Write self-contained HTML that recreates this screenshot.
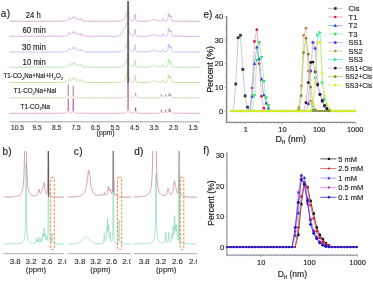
<!DOCTYPE html><html><head><meta charset="utf-8"><style>html,body{margin:0;padding:0;background:#fff;width:373px;height:281px;overflow:hidden}svg{display:block;will-change:transform}text{font-family:"Liberation Sans",sans-serif}</style></head><body>
<svg width="373" height="281" viewBox="0 0 373 281">
<rect width="373" height="281" fill="#fff"/>
<path d="M9.3 21.3 L58.6 21.27 L60.2 21.24 L61.1 21.21 L61.8 21.17 L62.3 21.14 L62.8 21.11 L63.2 21.07 L63.6 21.03 L63.9 21 L64.2 20.96 L64.5 20.93 L64.8 20.88 L65 20.85 L65.2 20.82 L65.4 20.78 L65.6 20.74 L65.8 20.7 L66 20.66 L66.2 20.62 L66.4 20.57 L66.6 20.52 L66.8 20.47 L67 20.41 L67.1 20.38 L67.2 20.34 L67.3 20.31 L67.4 20.27 L67.5 20.24 L67.6 20.19 L67.7 20.15 L67.8 20.1 L67.9 20.05 L68 19.99 L68.1 19.92 L68.2 19.85 L68.3 19.76 L68.4 19.66 L68.5 19.54 L68.6 19.4 L68.7 19.23 L68.8 19.01 L68.9 18.75 L69 18.44 L69.1 18.09 L69.2 17.73 L69.3 17.45 L69.4 17.32 L69.5 17.39 L69.6 17.63 L69.7 17.93 L69.8 18.23 L69.9 18.48 L70 18.69 L70.1 18.85 L70.2 18.97 L70.3 19.06 L70.4 19.13 L70.5 19.17 L70.6 19.2 L70.8 19.23 L71.3 19.2 L71.5 19.16 L71.6 19.13 L71.7 19.1 L71.8 19.06 L71.9 19.02 L72 18.97 L72.1 18.92 L72.2 18.85 L72.3 18.77 L72.4 18.68 L72.5 18.56 L72.6 18.42 L72.7 18.25 L72.8 18.03 L72.9 17.77 L73 17.44 L73.1 17.07 L73.2 16.7 L73.3 16.4 L73.4 16.27 L73.5 16.35 L73.6 16.6 L73.7 16.92 L73.8 17.24 L73.9 17.49 L74 17.69 L74.1 17.82 L74.2 17.89 L74.3 17.9 L74.4 17.86 L74.5 17.77 L74.6 17.62 L74.7 17.42 L74.8 17.22 L74.9 17.06 L75 17.02 L75.1 17.13 L75.2 17.36 L75.3 17.64 L75.4 17.91 L75.5 18.15 L75.6 18.35 L75.7 18.52 L75.8 18.65 L75.9 18.76 L76 18.84 L76.1 18.92 L76.2 18.98 L76.3 19.03 L76.4 19.07 L76.5 19.1 L76.7 19.16 L77 19.19 L77.3 19.14 L77.4 19.1 L77.5 19.04 L77.6 18.95 L77.7 18.84 L77.8 18.69 L77.9 18.51 L78 18.34 L78.1 18.2 L78.2 18.17 L78.3 18.26 L78.4 18.44 L78.5 18.67 L78.6 18.89 L78.7 19.09 L78.8 19.26 L78.9 19.4 L79 19.51 L79.1 19.6 L79.2 19.68 L79.3 19.75 L79.4 19.8 L79.5 19.85 L79.6 19.89 L79.7 19.92 L79.9 19.98 L80.4 19.98 L80.5 19.95 L80.6 19.9 L80.7 19.82 L80.8 19.71 L80.9 19.54 L81 19.31 L81.1 19.02 L81.2 18.67 L81.3 18.37 L81.4 18.26 L81.5 18.42 L81.6 18.77 L81.7 19.15 L81.8 19.5 L81.9 19.77 L82 19.98 L82.1 20.14 L82.2 20.27 L82.3 20.37 L82.4 20.45 L82.5 20.51 L82.6 20.57 L82.7 20.62 L82.8 20.66 L82.9 20.7 L83 20.73 L83.2 20.78 L83.4 20.83 L83.6 20.87 L83.8 20.91 L84 20.94 L84.3 20.99 L84.6 21.02 L84.9 21.06 L85.3 21.1 L85.7 21.13 L86.2 21.16 L86.8 21.19 L87.6 21.22 L88.9 21.25 L93.9 21.28 L113.7 21.25 L116.9 21.22 L118.3 21.19 L119 21.16 L119.5 21.12 L119.9 21.08 L120.2 21.04 L120.4 21.01 L120.6 20.97 L120.8 20.93 L121 20.88 L121.2 20.83 L121.4 20.77 L121.5 20.74 L121.6 20.71 L121.7 20.67 L121.8 20.64 L121.9 20.6 L122 20.56 L122.1 20.52 L122.2 20.48 L122.3 20.44 L122.4 20.4 L122.5 20.36 L122.6 20.31 L122.7 20.27 L122.8 20.22 L122.9 20.17 L123 20.13 L123.1 20.08 L123.2 20.03 L123.3 19.98 L123.4 19.93 L123.5 19.89 L123.6 19.84 L123.7 19.78 L123.8 19.73 L123.9 19.68 L124 19.63 L124.1 19.57 L124.2 19.51 L124.3 19.45 L124.4 19.39 L124.5 19.32 L124.6 19.25 L124.7 19.17 L124.8 19.08 L124.9 18.99 L125 18.88 L125.1 18.75 L125.2 18.61 L125.3 18.44 L125.4 18.25 L125.5 18.03 L125.6 17.76 L125.7 17.45 L125.8 17.09 L125.9 16.66 L126 16.16 L126.1 15.59 L126.2 14.98 L126.3 14.35 L126.4 13.75 L126.5 13.25 L126.6 12.9 L126.7 12.71 L126.8 12.65 L126.9 12.62 L127 12.52 L127.1 12.25 L127.2 11.71 L127.3 10.76 L127.4 9.23 L127.5 6.88 L127.6 3.28 L127.7 1 L128.5 1 L128.6 4.66 L128.7 8.61 L128.8 11.35 L128.9 13.31 L129 14.75 L129.1 15.84 L129.2 16.67 L129.3 17.33 L129.4 17.85 L129.5 18.28 L129.6 18.63 L129.7 18.92 L129.8 19.16 L129.9 19.37 L130 19.55 L130.1 19.7 L130.2 19.83 L130.3 19.95 L130.4 20.05 L130.5 20.13 L130.6 20.21 L130.7 20.28 L130.8 20.34 L130.9 20.4 L131 20.45 L131.1 20.49 L131.2 20.53 L131.3 20.57 L131.4 20.6 L131.6 20.65 L131.8 20.7 L132 20.73 L132.4 20.76 L133.1 20.71 L133.3 20.66 L133.4 20.62 L133.5 20.58 L133.6 20.52 L133.7 20.45 L133.8 20.36 L133.9 20.25 L134 20.1 L134.1 19.91 L134.2 19.67 L134.3 19.34 L134.4 18.9 L134.5 18.31 L134.6 17.53 L134.7 16.52 L134.8 15.38 L134.9 14.36 L135 13.95 L135.1 14.37 L135.2 15.39 L135.3 16.55 L135.4 17.56 L135.5 18.35 L135.6 18.95 L135.7 19.4 L135.8 19.73 L135.9 19.99 L136 20.19 L136.1 20.34 L136.2 20.46 L136.3 20.56 L136.4 20.65 L136.5 20.71 L136.6 20.77 L136.7 20.82 L136.8 20.86 L136.9 20.9 L137 20.93 L137.2 20.98 L137.4 21.02 L137.6 21.05 L137.9 21.08 L138.3 21.12 L138.8 21.15 L139.6 21.18 L140.9 21.22 L146.9 21.19 L147.4 21.15 L147.8 21.12 L148.1 21.09 L148.4 21.05 L148.7 21.01 L148.9 20.98 L149.1 20.94 L149.3 20.91 L149.5 20.87 L149.7 20.83 L149.9 20.78 L150.1 20.74 L150.3 20.69 L150.5 20.64 L150.7 20.59 L150.9 20.54 L151.1 20.49 L151.3 20.44 L151.5 20.38 L151.7 20.33 L151.9 20.28 L152.1 20.23 L152.3 20.18 L152.5 20.12 L152.7 20.07 L152.9 20.01 L153 19.98 L153.1 19.95 L153.2 19.92 L153.3 19.88 L153.4 19.83 L153.5 19.78 L153.6 19.72 L153.7 19.66 L153.8 19.58 L153.9 19.48 L154 19.38 L154.1 19.27 L154.2 19.18 L154.3 19.11 L154.4 19.08 L154.5 19.12 L154.6 19.2 L154.7 19.3 L154.8 19.42 L154.9 19.53 L155 19.64 L155.1 19.73 L155.2 19.8 L155.3 19.87 L155.4 19.93 L155.5 19.98 L155.6 20.03 L155.7 20.07 L155.8 20.11 L155.9 20.15 L156 20.18 L156.1 20.22 L156.2 20.25 L156.3 20.28 L156.4 20.31 L156.5 20.34 L156.7 20.4 L156.9 20.46 L157.1 20.51 L157.3 20.57 L157.5 20.62 L157.7 20.67 L157.9 20.72 L158.1 20.76 L158.3 20.8 L158.5 20.84 L158.7 20.88 L158.9 20.91 L159.1 20.95 L159.4 20.99 L159.7 21.02 L160.1 21.06 L161.6 21.02 L161.8 20.98 L161.9 20.94 L162 20.9 L162.1 20.85 L162.2 20.79 L162.3 20.71 L162.4 20.61 L162.5 20.47 L162.6 20.3 L162.7 20.07 L162.8 19.78 L162.9 19.44 L163 19.07 L163.1 18.76 L163.2 18.64 L163.3 18.76 L163.4 19.07 L163.5 19.44 L163.6 19.78 L163.7 20.07 L163.8 20.3 L163.9 20.47 L164 20.61 L164.1 20.71 L164.2 20.79 L164.3 20.85 L164.4 20.9 L164.5 20.94 L164.6 20.98 L164.8 21.02 L165 21.05 L165.5 21.08 L166.2 21.04 L166.4 21 L166.5 20.98 L166.6 20.94 L166.7 20.91 L166.8 20.86 L166.9 20.8 L167 20.73 L167.1 20.65 L167.2 20.55 L167.3 20.43 L167.4 20.28 L167.5 20.1 L167.6 19.87 L167.7 19.58 L167.8 19.2 L167.9 18.7 L168 18 L168.1 17.04 L168.2 15.75 L168.3 14.35 L168.4 13.5 L168.5 13.71 L168.6 14.42 L168.7 14.92 L168.8 14.97 L168.9 14.72 L169 14.63 L169.1 15.04 L169.2 15.69 L169.3 16.26 L169.4 16.63 L169.5 16.83 L169.6 16.9 L169.7 16.84 L169.8 16.64 L169.9 16.27 L170 15.7 L170.1 15.06 L170.2 14.78 L170.3 15.18 L170.4 15.91 L170.5 16.52 L170.6 16.84 L170.7 16.85 L170.8 16.56 L170.9 16.15 L171 16.06 L171.1 16.63 L171.2 17.55 L171.3 18.4 L171.4 19.04 L171.5 19.5 L171.6 19.85 L171.7 20.11 L171.8 20.31 L171.9 20.47 L172 20.59 L172.1 20.7 L172.2 20.78 L172.3 20.86 L172.4 20.91 L172.5 20.96 L172.6 21 L172.7 21.04 L172.9 21.09 L173.1 21.13 L173.4 21.16 L173.8 21.19 L174.5 21.23 L176 21.26 L182.1 21.29 L200 21.3" fill="none" stroke="#d29cc6" stroke-width="0.8"/>
<path d="M9.3 36.3 L58.6 36.27 L60.2 36.24 L61.1 36.21 L61.8 36.17 L62.3 36.14 L62.8 36.11 L63.2 36.07 L63.6 36.03 L63.9 36 L64.2 35.96 L64.5 35.93 L64.8 35.88 L65 35.85 L65.2 35.82 L65.4 35.78 L65.6 35.74 L65.8 35.7 L66 35.66 L66.2 35.62 L66.4 35.57 L66.6 35.52 L66.8 35.47 L67 35.41 L67.1 35.38 L67.2 35.34 L67.3 35.31 L67.4 35.27 L67.5 35.24 L67.6 35.19 L67.7 35.15 L67.8 35.1 L67.9 35.05 L68 34.99 L68.1 34.92 L68.2 34.85 L68.3 34.76 L68.4 34.66 L68.5 34.54 L68.6 34.4 L68.7 34.23 L68.8 34.01 L68.9 33.75 L69 33.44 L69.1 33.09 L69.2 32.73 L69.3 32.45 L69.4 32.32 L69.5 32.39 L69.6 32.63 L69.7 32.93 L69.8 33.23 L69.9 33.48 L70 33.69 L70.1 33.85 L70.2 33.97 L70.3 34.06 L70.4 34.13 L70.5 34.17 L70.6 34.2 L70.8 34.23 L71.3 34.2 L71.5 34.16 L71.6 34.13 L71.7 34.1 L71.8 34.06 L71.9 34.02 L72 33.97 L72.1 33.92 L72.2 33.85 L72.3 33.77 L72.4 33.68 L72.5 33.56 L72.6 33.42 L72.7 33.25 L72.8 33.03 L72.9 32.77 L73 32.44 L73.1 32.07 L73.2 31.7 L73.3 31.4 L73.4 31.27 L73.5 31.35 L73.6 31.6 L73.7 31.92 L73.8 32.24 L73.9 32.49 L74 32.69 L74.1 32.82 L74.2 32.89 L74.3 32.9 L74.4 32.86 L74.5 32.77 L74.6 32.62 L74.7 32.42 L74.8 32.22 L74.9 32.06 L75 32.02 L75.1 32.13 L75.2 32.36 L75.3 32.64 L75.4 32.91 L75.5 33.15 L75.6 33.35 L75.7 33.52 L75.8 33.65 L75.9 33.76 L76 33.84 L76.1 33.92 L76.2 33.98 L76.3 34.03 L76.4 34.07 L76.5 34.1 L76.7 34.16 L77 34.19 L77.3 34.14 L77.4 34.1 L77.5 34.04 L77.6 33.95 L77.7 33.84 L77.8 33.69 L77.9 33.51 L78 33.34 L78.1 33.2 L78.2 33.17 L78.3 33.26 L78.4 33.44 L78.5 33.67 L78.6 33.89 L78.7 34.09 L78.8 34.26 L78.9 34.4 L79 34.51 L79.1 34.6 L79.2 34.68 L79.3 34.75 L79.4 34.8 L79.5 34.85 L79.6 34.89 L79.7 34.92 L79.9 34.98 L80.4 34.98 L80.5 34.95 L80.6 34.9 L80.7 34.82 L80.8 34.71 L80.9 34.54 L81 34.31 L81.1 34.02 L81.2 33.67 L81.3 33.37 L81.4 33.26 L81.5 33.42 L81.6 33.77 L81.7 34.15 L81.8 34.5 L81.9 34.77 L82 34.98 L82.1 35.14 L82.2 35.27 L82.3 35.37 L82.4 35.45 L82.5 35.51 L82.6 35.57 L82.7 35.62 L82.8 35.66 L82.9 35.7 L83 35.73 L83.2 35.78 L83.4 35.83 L83.6 35.87 L83.8 35.91 L84 35.94 L84.3 35.99 L84.6 36.02 L84.9 36.06 L85.3 36.1 L85.7 36.13 L86.2 36.16 L86.8 36.19 L87.6 36.22 L88.9 36.25 L93.9 36.28 L113.7 36.25 L116.3 36.22 L117.2 36.19 L117.7 36.15 L118 36.11 L118.3 36.07 L118.5 36.03 L118.7 35.98 L118.9 35.93 L119 35.9 L119.1 35.86 L119.2 35.82 L119.3 35.78 L119.4 35.74 L119.5 35.69 L119.6 35.64 L119.7 35.58 L119.8 35.52 L119.9 35.45 L120 35.38 L120.1 35.31 L120.2 35.23 L120.3 35.14 L120.4 35.05 L120.5 34.96 L120.6 34.86 L120.7 34.75 L120.8 34.63 L120.9 34.51 L121 34.39 L121.1 34.26 L121.2 34.12 L121.3 33.97 L121.4 33.82 L121.5 33.67 L121.6 33.51 L121.7 33.34 L121.8 33.17 L121.9 33 L122 32.82 L122.1 32.63 L122.2 32.45 L122.3 32.26 L122.4 32.06 L122.5 31.87 L122.6 31.67 L122.7 31.48 L122.8 31.28 L122.9 31.08 L123 30.89 L123.1 30.69 L123.2 30.5 L123.3 30.31 L123.4 30.13 L123.5 29.95 L123.6 29.77 L123.7 29.6 L123.8 29.44 L123.9 29.28 L124 29.13 L124.1 28.98 L124.2 28.84 L124.3 28.7 L124.4 28.58 L124.5 28.45 L124.6 28.33 L124.7 28.22 L124.8 28.1 L124.9 27.99 L125 27.88 L125.1 27.76 L125.2 27.63 L125.3 27.49 L125.4 27.34 L125.5 27.16 L125.6 26.95 L125.7 26.7 L125.8 26.41 L125.9 26.06 L126 25.66 L126.1 25.19 L126.2 24.69 L126.3 24.17 L126.4 23.69 L126.5 23.31 L126.6 23.09 L126.7 23.04 L126.8 23.12 L126.9 23.23 L127 23.28 L127.1 23.16 L127.2 22.76 L127.3 21.96 L127.4 20.59 L127.5 18.39 L127.6 14.95 L127.7 9.63 L127.8 1.58 L127.9 1 L128.3 1 L128.4 3.2 L128.5 11.81 L128.6 17.72 L128.7 21.78 L128.8 24.64 L128.9 26.71 L129 28.26 L129.1 29.44 L129.2 30.38 L129.3 31.12 L129.4 31.74 L129.5 32.24 L129.6 32.67 L129.7 33.04 L129.8 33.35 L129.9 33.62 L130 33.86 L130.1 34.07 L130.2 34.26 L130.3 34.42 L130.4 34.57 L130.5 34.7 L130.6 34.82 L130.7 34.93 L130.8 35.02 L130.9 35.11 L131 35.19 L131.1 35.26 L131.2 35.32 L131.3 35.38 L131.4 35.43 L131.5 35.48 L131.6 35.52 L131.7 35.55 L131.8 35.59 L132 35.64 L132.2 35.68 L132.5 35.72 L133.2 35.67 L133.3 35.65 L133.4 35.61 L133.5 35.57 L133.6 35.51 L133.7 35.44 L133.8 35.35 L133.9 35.24 L134 35.09 L134.1 34.91 L134.2 34.66 L134.3 34.34 L134.4 33.9 L134.5 33.31 L134.6 32.53 L134.7 31.52 L134.8 30.38 L134.9 29.36 L135 28.94 L135.1 29.37 L135.2 30.39 L135.3 31.55 L135.4 32.56 L135.5 33.35 L135.6 33.95 L135.7 34.4 L135.8 34.73 L135.9 34.99 L136 35.19 L136.1 35.34 L136.2 35.46 L136.3 35.56 L136.4 35.65 L136.5 35.71 L136.6 35.77 L136.7 35.82 L136.8 35.86 L136.9 35.9 L137 35.93 L137.2 35.98 L137.4 36.02 L137.6 36.05 L137.9 36.08 L138.3 36.12 L138.8 36.15 L139.6 36.18 L140.9 36.22 L146.9 36.19 L147.4 36.15 L147.8 36.12 L148.1 36.09 L148.4 36.05 L148.7 36.01 L148.9 35.98 L149.1 35.94 L149.3 35.91 L149.5 35.87 L149.7 35.83 L149.9 35.78 L150.1 35.74 L150.3 35.69 L150.5 35.64 L150.7 35.59 L150.9 35.54 L151.1 35.49 L151.3 35.44 L151.5 35.38 L151.7 35.33 L151.9 35.28 L152.1 35.23 L152.3 35.18 L152.5 35.12 L152.7 35.07 L152.9 35.01 L153 34.98 L153.1 34.95 L153.2 34.92 L153.3 34.88 L153.4 34.83 L153.5 34.78 L153.6 34.72 L153.7 34.66 L153.8 34.58 L153.9 34.48 L154 34.38 L154.1 34.27 L154.2 34.18 L154.3 34.11 L154.4 34.08 L154.5 34.12 L154.6 34.2 L154.7 34.3 L154.8 34.42 L154.9 34.53 L155 34.64 L155.1 34.73 L155.2 34.8 L155.3 34.87 L155.4 34.93 L155.5 34.98 L155.6 35.03 L155.7 35.07 L155.8 35.11 L155.9 35.15 L156 35.18 L156.1 35.22 L156.2 35.25 L156.3 35.28 L156.4 35.31 L156.5 35.34 L156.7 35.4 L156.9 35.46 L157.1 35.51 L157.3 35.57 L157.5 35.62 L157.7 35.67 L157.9 35.72 L158.1 35.76 L158.3 35.8 L158.5 35.84 L158.7 35.88 L158.9 35.91 L159.1 35.95 L159.4 35.99 L159.7 36.02 L160.1 36.06 L161.6 36.02 L161.8 35.98 L161.9 35.94 L162 35.9 L162.1 35.85 L162.2 35.79 L162.3 35.71 L162.4 35.61 L162.5 35.47 L162.6 35.3 L162.7 35.07 L162.8 34.78 L162.9 34.44 L163 34.07 L163.1 33.76 L163.2 33.64 L163.3 33.76 L163.4 34.07 L163.5 34.44 L163.6 34.78 L163.7 35.07 L163.8 35.3 L163.9 35.47 L164 35.61 L164.1 35.71 L164.2 35.79 L164.3 35.85 L164.4 35.9 L164.5 35.94 L164.6 35.98 L164.8 36.02 L165 36.05 L165.5 36.08 L166.2 36.04 L166.4 36 L166.5 35.98 L166.6 35.94 L166.7 35.91 L166.8 35.86 L166.9 35.8 L167 35.73 L167.1 35.65 L167.2 35.55 L167.3 35.43 L167.4 35.28 L167.5 35.1 L167.6 34.87 L167.7 34.58 L167.8 34.2 L167.9 33.7 L168 33 L168.1 32.04 L168.2 30.75 L168.3 29.35 L168.4 28.5 L168.5 28.71 L168.6 29.42 L168.7 29.92 L168.8 29.97 L168.9 29.72 L169 29.63 L169.1 30.04 L169.2 30.69 L169.3 31.26 L169.4 31.63 L169.5 31.83 L169.6 31.9 L169.7 31.84 L169.8 31.64 L169.9 31.27 L170 30.7 L170.1 30.06 L170.2 29.78 L170.3 30.18 L170.4 30.91 L170.5 31.52 L170.6 31.84 L170.7 31.85 L170.8 31.56 L170.9 31.15 L171 31.06 L171.1 31.63 L171.2 32.55 L171.3 33.4 L171.4 34.04 L171.5 34.5 L171.6 34.85 L171.7 35.11 L171.8 35.31 L171.9 35.47 L172 35.59 L172.1 35.7 L172.2 35.78 L172.3 35.86 L172.4 35.91 L172.5 35.96 L172.6 36 L172.7 36.04 L172.9 36.09 L173.1 36.13 L173.4 36.16 L173.8 36.19 L174.5 36.23 L176 36.26 L182.1 36.29 L200 36.3" fill="none" stroke="#cf9ee8" stroke-width="0.8"/>
<path d="M9.3 52 L58.6 51.97 L60.2 51.94 L61.1 51.91 L61.8 51.87 L62.3 51.84 L62.8 51.81 L63.2 51.77 L63.6 51.73 L63.9 51.7 L64.2 51.66 L64.5 51.63 L64.8 51.58 L65 51.55 L65.2 51.52 L65.4 51.48 L65.6 51.44 L65.8 51.4 L66 51.36 L66.2 51.32 L66.4 51.27 L66.6 51.22 L66.8 51.17 L67 51.11 L67.1 51.08 L67.2 51.04 L67.3 51.01 L67.4 50.97 L67.5 50.94 L67.6 50.89 L67.7 50.85 L67.8 50.8 L67.9 50.75 L68 50.69 L68.1 50.62 L68.2 50.55 L68.3 50.46 L68.4 50.36 L68.5 50.24 L68.6 50.1 L68.7 49.93 L68.8 49.71 L68.9 49.45 L69 49.14 L69.1 48.79 L69.2 48.43 L69.3 48.15 L69.4 48.02 L69.5 48.09 L69.6 48.33 L69.7 48.63 L69.8 48.93 L69.9 49.18 L70 49.39 L70.1 49.55 L70.2 49.67 L70.3 49.76 L70.4 49.83 L70.5 49.87 L70.6 49.9 L70.8 49.93 L71.3 49.9 L71.5 49.86 L71.6 49.83 L71.7 49.8 L71.8 49.76 L71.9 49.72 L72 49.67 L72.1 49.62 L72.2 49.55 L72.3 49.47 L72.4 49.38 L72.5 49.26 L72.6 49.12 L72.7 48.95 L72.8 48.73 L72.9 48.47 L73 48.14 L73.1 47.77 L73.2 47.4 L73.3 47.1 L73.4 46.97 L73.5 47.05 L73.6 47.3 L73.7 47.62 L73.8 47.94 L73.9 48.19 L74 48.39 L74.1 48.52 L74.2 48.59 L74.3 48.6 L74.4 48.56 L74.5 48.47 L74.6 48.32 L74.7 48.12 L74.8 47.92 L74.9 47.76 L75 47.72 L75.1 47.83 L75.2 48.06 L75.3 48.34 L75.4 48.61 L75.5 48.85 L75.6 49.05 L75.7 49.22 L75.8 49.35 L75.9 49.46 L76 49.54 L76.1 49.62 L76.2 49.68 L76.3 49.73 L76.4 49.77 L76.5 49.8 L76.7 49.86 L77 49.89 L77.3 49.84 L77.4 49.8 L77.5 49.74 L77.6 49.65 L77.7 49.54 L77.8 49.39 L77.9 49.21 L78 49.04 L78.1 48.9 L78.2 48.87 L78.3 48.96 L78.4 49.14 L78.5 49.37 L78.6 49.59 L78.7 49.79 L78.8 49.96 L78.9 50.1 L79 50.21 L79.1 50.3 L79.2 50.38 L79.3 50.45 L79.4 50.5 L79.5 50.55 L79.6 50.59 L79.7 50.62 L79.9 50.68 L80.4 50.68 L80.5 50.65 L80.6 50.6 L80.7 50.52 L80.8 50.41 L80.9 50.24 L81 50.01 L81.1 49.72 L81.2 49.37 L81.3 49.07 L81.4 48.96 L81.5 49.12 L81.6 49.47 L81.7 49.85 L81.8 50.2 L81.9 50.47 L82 50.68 L82.1 50.84 L82.2 50.97 L82.3 51.07 L82.4 51.15 L82.5 51.21 L82.6 51.27 L82.7 51.32 L82.8 51.36 L82.9 51.4 L83 51.43 L83.2 51.48 L83.4 51.53 L83.6 51.57 L83.8 51.61 L84 51.64 L84.3 51.69 L84.6 51.72 L84.9 51.76 L85.3 51.8 L85.7 51.83 L86.2 51.86 L86.8 51.89 L87.6 51.92 L88.9 51.95 L93.9 51.98 L113.7 51.95 L116.9 51.92 L118.3 51.89 L119 51.86 L119.5 51.82 L119.9 51.78 L120.2 51.74 L120.4 51.71 L120.6 51.67 L120.8 51.63 L121 51.58 L121.2 51.53 L121.4 51.47 L121.5 51.44 L121.6 51.41 L121.7 51.37 L121.8 51.34 L121.9 51.3 L122 51.26 L122.1 51.22 L122.2 51.18 L122.3 51.14 L122.4 51.1 L122.5 51.06 L122.6 51.01 L122.7 50.97 L122.8 50.92 L122.9 50.87 L123 50.83 L123.1 50.78 L123.2 50.73 L123.3 50.68 L123.4 50.63 L123.5 50.59 L123.6 50.54 L123.7 50.48 L123.8 50.43 L123.9 50.38 L124 50.33 L124.1 50.27 L124.2 50.21 L124.3 50.15 L124.4 50.09 L124.5 50.02 L124.6 49.95 L124.7 49.87 L124.8 49.78 L124.9 49.69 L125 49.58 L125.1 49.45 L125.2 49.31 L125.3 49.14 L125.4 48.95 L125.5 48.73 L125.6 48.46 L125.7 48.15 L125.8 47.79 L125.9 47.36 L126 46.86 L126.1 46.29 L126.2 45.68 L126.3 45.05 L126.4 44.45 L126.5 43.95 L126.6 43.6 L126.7 43.41 L126.8 43.35 L126.9 43.32 L127 43.22 L127.1 42.95 L127.2 42.41 L127.3 41.46 L127.4 39.93 L127.5 37.58 L127.6 33.98 L127.7 28.51 L127.8 20.32 L127.9 8.96 L128 1 L128.2 1 L128.3 9.47 L128.4 21.1 L128.5 29.58 L128.6 35.36 L128.7 39.31 L128.8 42.05 L128.9 44.01 L129 45.45 L129.1 46.54 L129.2 47.37 L129.3 48.03 L129.4 48.55 L129.5 48.98 L129.6 49.33 L129.7 49.62 L129.8 49.86 L129.9 50.07 L130 50.25 L130.1 50.4 L130.2 50.53 L130.3 50.65 L130.4 50.75 L130.5 50.83 L130.6 50.91 L130.7 50.98 L130.8 51.04 L130.9 51.1 L131 51.15 L131.1 51.19 L131.2 51.23 L131.3 51.27 L131.4 51.3 L131.6 51.35 L131.8 51.4 L132 51.43 L132.4 51.46 L133.1 51.41 L133.3 51.36 L133.4 51.32 L133.5 51.28 L133.6 51.22 L133.7 51.15 L133.8 51.06 L133.9 50.95 L134 50.8 L134.1 50.61 L134.2 50.37 L134.3 50.04 L134.4 49.6 L134.5 49.01 L134.6 48.23 L134.7 47.22 L134.8 46.08 L134.9 45.06 L135 44.65 L135.1 45.07 L135.2 46.09 L135.3 47.25 L135.4 48.26 L135.5 49.05 L135.6 49.65 L135.7 50.1 L135.8 50.43 L135.9 50.69 L136 50.89 L136.1 51.04 L136.2 51.16 L136.3 51.26 L136.4 51.35 L136.5 51.41 L136.6 51.47 L136.7 51.52 L136.8 51.56 L136.9 51.6 L137 51.63 L137.2 51.68 L137.4 51.72 L137.6 51.75 L137.9 51.78 L138.3 51.82 L138.8 51.85 L139.6 51.88 L140.9 51.92 L146.9 51.89 L147.4 51.85 L147.8 51.82 L148.1 51.79 L148.4 51.75 L148.7 51.71 L148.9 51.68 L149.1 51.64 L149.3 51.61 L149.5 51.57 L149.7 51.53 L149.9 51.48 L150.1 51.44 L150.3 51.39 L150.5 51.34 L150.7 51.29 L150.9 51.24 L151.1 51.19 L151.3 51.14 L151.5 51.08 L151.7 51.03 L151.9 50.98 L152.1 50.93 L152.3 50.88 L152.5 50.82 L152.7 50.77 L152.9 50.71 L153 50.68 L153.1 50.65 L153.2 50.62 L153.3 50.58 L153.4 50.53 L153.5 50.48 L153.6 50.42 L153.7 50.36 L153.8 50.28 L153.9 50.18 L154 50.08 L154.1 49.97 L154.2 49.88 L154.3 49.81 L154.4 49.78 L154.5 49.82 L154.6 49.9 L154.7 50 L154.8 50.12 L154.9 50.23 L155 50.34 L155.1 50.43 L155.2 50.5 L155.3 50.57 L155.4 50.63 L155.5 50.68 L155.6 50.73 L155.7 50.77 L155.8 50.81 L155.9 50.85 L156 50.88 L156.1 50.92 L156.2 50.95 L156.3 50.98 L156.4 51.01 L156.5 51.04 L156.7 51.1 L156.9 51.16 L157.1 51.21 L157.3 51.27 L157.5 51.32 L157.7 51.37 L157.9 51.42 L158.1 51.46 L158.3 51.5 L158.5 51.54 L158.7 51.58 L158.9 51.61 L159.1 51.65 L159.4 51.69 L159.7 51.72 L160.1 51.76 L161.6 51.72 L161.8 51.68 L161.9 51.64 L162 51.6 L162.1 51.55 L162.2 51.49 L162.3 51.41 L162.4 51.31 L162.5 51.17 L162.6 51 L162.7 50.77 L162.8 50.48 L162.9 50.14 L163 49.77 L163.1 49.46 L163.2 49.34 L163.3 49.46 L163.4 49.77 L163.5 50.14 L163.6 50.48 L163.7 50.77 L163.8 51 L163.9 51.17 L164 51.31 L164.1 51.41 L164.2 51.49 L164.3 51.55 L164.4 51.6 L164.5 51.64 L164.6 51.68 L164.8 51.72 L165 51.75 L165.5 51.78 L166.2 51.74 L166.4 51.7 L166.5 51.68 L166.6 51.64 L166.7 51.61 L166.8 51.56 L166.9 51.5 L167 51.43 L167.1 51.35 L167.2 51.25 L167.3 51.13 L167.4 50.98 L167.5 50.8 L167.6 50.57 L167.7 50.28 L167.8 49.9 L167.9 49.4 L168 48.7 L168.1 47.74 L168.2 46.45 L168.3 45.05 L168.4 44.2 L168.5 44.41 L168.6 45.12 L168.7 45.62 L168.8 45.67 L168.9 45.42 L169 45.33 L169.1 45.74 L169.2 46.39 L169.3 46.96 L169.4 47.33 L169.5 47.53 L169.6 47.6 L169.7 47.54 L169.8 47.34 L169.9 46.97 L170 46.4 L170.1 45.76 L170.2 45.48 L170.3 45.88 L170.4 46.61 L170.5 47.22 L170.6 47.54 L170.7 47.55 L170.8 47.26 L170.9 46.85 L171 46.76 L171.1 47.33 L171.2 48.25 L171.3 49.1 L171.4 49.74 L171.5 50.2 L171.6 50.55 L171.7 50.81 L171.8 51.01 L171.9 51.17 L172 51.29 L172.1 51.4 L172.2 51.48 L172.3 51.56 L172.4 51.61 L172.5 51.66 L172.6 51.7 L172.7 51.74 L172.9 51.79 L173.1 51.83 L173.4 51.86 L173.8 51.89 L174.5 51.93 L176 51.96 L182.1 51.99 L200 52" fill="none" stroke="#a8baee" stroke-width="0.8"/>
<path d="M9.3 67.2 L58.6 67.17 L60.2 67.14 L61.1 67.11 L61.8 67.07 L62.3 67.04 L62.8 67.01 L63.2 66.97 L63.6 66.93 L63.9 66.9 L64.2 66.86 L64.5 66.83 L64.8 66.78 L65 66.75 L65.2 66.72 L65.4 66.68 L65.6 66.64 L65.8 66.6 L66 66.56 L66.2 66.52 L66.4 66.47 L66.6 66.42 L66.8 66.37 L67 66.31 L67.1 66.28 L67.2 66.24 L67.3 66.21 L67.4 66.17 L67.5 66.14 L67.6 66.09 L67.7 66.05 L67.8 66 L67.9 65.95 L68 65.89 L68.1 65.82 L68.2 65.75 L68.3 65.66 L68.4 65.56 L68.5 65.44 L68.6 65.3 L68.7 65.13 L68.8 64.91 L68.9 64.65 L69 64.34 L69.1 63.99 L69.2 63.63 L69.3 63.35 L69.4 63.22 L69.5 63.29 L69.6 63.53 L69.7 63.83 L69.8 64.13 L69.9 64.38 L70 64.59 L70.1 64.75 L70.2 64.87 L70.3 64.96 L70.4 65.03 L70.5 65.07 L70.6 65.1 L70.8 65.13 L71.3 65.1 L71.5 65.06 L71.6 65.03 L71.7 65 L71.8 64.96 L71.9 64.92 L72 64.87 L72.1 64.82 L72.2 64.75 L72.3 64.67 L72.4 64.58 L72.5 64.46 L72.6 64.32 L72.7 64.15 L72.8 63.93 L72.9 63.67 L73 63.34 L73.1 62.97 L73.2 62.6 L73.3 62.3 L73.4 62.17 L73.5 62.25 L73.6 62.5 L73.7 62.82 L73.8 63.14 L73.9 63.39 L74 63.59 L74.1 63.72 L74.2 63.79 L74.3 63.8 L74.4 63.76 L74.5 63.67 L74.6 63.52 L74.7 63.32 L74.8 63.12 L74.9 62.96 L75 62.92 L75.1 63.03 L75.2 63.26 L75.3 63.54 L75.4 63.81 L75.5 64.05 L75.6 64.25 L75.7 64.42 L75.8 64.55 L75.9 64.66 L76 64.74 L76.1 64.82 L76.2 64.88 L76.3 64.93 L76.4 64.97 L76.5 65 L76.7 65.06 L77 65.09 L77.3 65.04 L77.4 65 L77.5 64.94 L77.6 64.85 L77.7 64.74 L77.8 64.59 L77.9 64.41 L78 64.24 L78.1 64.1 L78.2 64.07 L78.3 64.16 L78.4 64.34 L78.5 64.57 L78.6 64.79 L78.7 64.99 L78.8 65.16 L78.9 65.3 L79 65.41 L79.1 65.5 L79.2 65.58 L79.3 65.65 L79.4 65.7 L79.5 65.75 L79.6 65.79 L79.7 65.82 L79.9 65.88 L80.4 65.88 L80.5 65.85 L80.6 65.8 L80.7 65.72 L80.8 65.61 L80.9 65.44 L81 65.21 L81.1 64.92 L81.2 64.57 L81.3 64.27 L81.4 64.16 L81.5 64.32 L81.6 64.67 L81.7 65.05 L81.8 65.4 L81.9 65.67 L82 65.88 L82.1 66.04 L82.2 66.17 L82.3 66.27 L82.4 66.35 L82.5 66.41 L82.6 66.47 L82.7 66.52 L82.8 66.56 L82.9 66.6 L83 66.63 L83.2 66.68 L83.4 66.73 L83.6 66.77 L83.8 66.81 L84 66.84 L84.3 66.89 L84.6 66.92 L84.9 66.96 L85.3 67 L85.7 67.03 L86.2 67.06 L86.8 67.09 L87.6 67.12 L88.9 67.15 L93.9 67.18 L113.7 67.15 L116.9 67.12 L118.3 67.09 L119 67.06 L119.5 67.02 L119.9 66.98 L120.2 66.94 L120.4 66.91 L120.6 66.87 L120.8 66.83 L121 66.78 L121.2 66.73 L121.4 66.67 L121.5 66.64 L121.6 66.61 L121.7 66.57 L121.8 66.54 L121.9 66.5 L122 66.46 L122.1 66.42 L122.2 66.38 L122.3 66.34 L122.4 66.3 L122.5 66.26 L122.6 66.21 L122.7 66.17 L122.8 66.12 L122.9 66.07 L123 66.03 L123.1 65.98 L123.2 65.93 L123.3 65.88 L123.4 65.83 L123.5 65.79 L123.6 65.74 L123.7 65.68 L123.8 65.63 L123.9 65.58 L124 65.53 L124.1 65.47 L124.2 65.41 L124.3 65.35 L124.4 65.29 L124.5 65.22 L124.6 65.15 L124.7 65.07 L124.8 64.98 L124.9 64.89 L125 64.78 L125.1 64.65 L125.2 64.51 L125.3 64.34 L125.4 64.15 L125.5 63.93 L125.6 63.66 L125.7 63.35 L125.8 62.99 L125.9 62.56 L126 62.06 L126.1 61.49 L126.2 60.88 L126.3 60.25 L126.4 59.65 L126.5 59.15 L126.6 58.8 L126.7 58.61 L126.8 58.55 L126.9 58.52 L127 58.42 L127.1 58.15 L127.2 57.61 L127.3 56.66 L127.4 55.13 L127.5 52.78 L127.6 49.18 L127.7 43.71 L127.8 35.52 L127.9 24.16 L128 11.86 L128.1 5.99 L128.2 12.11 L128.3 24.67 L128.4 36.3 L128.5 44.78 L128.6 50.56 L128.7 54.51 L128.8 57.25 L128.9 59.21 L129 60.65 L129.1 61.74 L129.2 62.57 L129.3 63.23 L129.4 63.75 L129.5 64.18 L129.6 64.53 L129.7 64.82 L129.8 65.06 L129.9 65.27 L130 65.45 L130.1 65.6 L130.2 65.73 L130.3 65.85 L130.4 65.95 L130.5 66.03 L130.6 66.11 L130.7 66.18 L130.8 66.24 L130.9 66.3 L131 66.35 L131.1 66.39 L131.2 66.43 L131.3 66.47 L131.4 66.5 L131.6 66.55 L131.8 66.6 L132 66.63 L132.4 66.66 L133.1 66.61 L133.3 66.56 L133.4 66.52 L133.5 66.48 L133.6 66.42 L133.7 66.35 L133.8 66.26 L133.9 66.15 L134 66 L134.1 65.81 L134.2 65.57 L134.3 65.24 L134.4 64.8 L134.5 64.21 L134.6 63.43 L134.7 62.42 L134.8 61.28 L134.9 60.26 L135 59.85 L135.1 60.27 L135.2 61.29 L135.3 62.45 L135.4 63.46 L135.5 64.25 L135.6 64.85 L135.7 65.3 L135.8 65.63 L135.9 65.89 L136 66.09 L136.1 66.24 L136.2 66.36 L136.3 66.46 L136.4 66.55 L136.5 66.61 L136.6 66.67 L136.7 66.72 L136.8 66.76 L136.9 66.8 L137 66.83 L137.2 66.88 L137.4 66.92 L137.6 66.95 L137.9 66.98 L138.3 67.02 L138.8 67.05 L139.6 67.08 L140.9 67.12 L146.9 67.09 L147.4 67.05 L147.8 67.02 L148.1 66.99 L148.4 66.95 L148.7 66.91 L148.9 66.88 L149.1 66.84 L149.3 66.81 L149.5 66.77 L149.7 66.73 L149.9 66.68 L150.1 66.64 L150.3 66.59 L150.5 66.54 L150.7 66.49 L150.9 66.44 L151.1 66.39 L151.3 66.34 L151.5 66.28 L151.7 66.23 L151.9 66.18 L152.1 66.13 L152.3 66.08 L152.5 66.02 L152.7 65.97 L152.9 65.91 L153 65.88 L153.1 65.85 L153.2 65.82 L153.3 65.78 L153.4 65.73 L153.5 65.68 L153.6 65.62 L153.7 65.56 L153.8 65.48 L153.9 65.38 L154 65.28 L154.1 65.17 L154.2 65.08 L154.3 65.01 L154.4 64.98 L154.5 65.02 L154.6 65.1 L154.7 65.2 L154.8 65.32 L154.9 65.43 L155 65.54 L155.1 65.63 L155.2 65.7 L155.3 65.77 L155.4 65.83 L155.5 65.88 L155.6 65.93 L155.7 65.97 L155.8 66.01 L155.9 66.05 L156 66.08 L156.1 66.12 L156.2 66.15 L156.3 66.18 L156.4 66.21 L156.5 66.24 L156.7 66.3 L156.9 66.36 L157.1 66.41 L157.3 66.47 L157.5 66.52 L157.7 66.57 L157.9 66.62 L158.1 66.66 L158.3 66.7 L158.5 66.74 L158.7 66.78 L158.9 66.81 L159.1 66.85 L159.4 66.89 L159.7 66.92 L160.1 66.96 L161.6 66.92 L161.8 66.88 L161.9 66.84 L162 66.8 L162.1 66.75 L162.2 66.69 L162.3 66.61 L162.4 66.51 L162.5 66.37 L162.6 66.2 L162.7 65.97 L162.8 65.68 L162.9 65.34 L163 64.97 L163.1 64.66 L163.2 64.54 L163.3 64.66 L163.4 64.97 L163.5 65.34 L163.6 65.68 L163.7 65.97 L163.8 66.2 L163.9 66.37 L164 66.51 L164.1 66.61 L164.2 66.69 L164.3 66.75 L164.4 66.8 L164.5 66.84 L164.6 66.88 L164.8 66.92 L165 66.95 L165.5 66.98 L166.2 66.94 L166.4 66.9 L166.5 66.88 L166.6 66.84 L166.7 66.81 L166.8 66.76 L166.9 66.7 L167 66.63 L167.1 66.55 L167.2 66.45 L167.3 66.33 L167.4 66.18 L167.5 66 L167.6 65.77 L167.7 65.48 L167.8 65.1 L167.9 64.6 L168 63.9 L168.1 62.94 L168.2 61.65 L168.3 60.25 L168.4 59.4 L168.5 59.61 L168.6 60.32 L168.7 60.82 L168.8 60.87 L168.9 60.62 L169 60.53 L169.1 60.94 L169.2 61.59 L169.3 62.16 L169.4 62.53 L169.5 62.73 L169.6 62.8 L169.7 62.74 L169.8 62.54 L169.9 62.17 L170 61.6 L170.1 60.96 L170.2 60.68 L170.3 61.08 L170.4 61.81 L170.5 62.42 L170.6 62.74 L170.7 62.75 L170.8 62.46 L170.9 62.05 L171 61.96 L171.1 62.53 L171.2 63.45 L171.3 64.3 L171.4 64.94 L171.5 65.4 L171.6 65.75 L171.7 66.01 L171.8 66.21 L171.9 66.37 L172 66.49 L172.1 66.6 L172.2 66.68 L172.3 66.76 L172.4 66.81 L172.5 66.86 L172.6 66.9 L172.7 66.94 L172.9 66.99 L173.1 67.03 L173.4 67.06 L173.8 67.09 L174.5 67.13 L176 67.16 L182.1 67.19 L200 67.2" fill="none" stroke="#9ee296" stroke-width="0.8"/>
<path d="M9.3 82.5 L58.6 82.47 L60.2 82.44 L61.1 82.41 L61.8 82.37 L62.3 82.34 L62.8 82.31 L63.2 82.27 L63.6 82.23 L63.9 82.2 L64.2 82.16 L64.5 82.13 L64.8 82.08 L65 82.05 L65.2 82.02 L65.4 81.98 L65.6 81.94 L65.8 81.9 L66 81.86 L66.2 81.82 L66.4 81.77 L66.6 81.72 L66.8 81.67 L67 81.61 L67.1 81.58 L67.2 81.54 L67.3 81.51 L67.4 81.47 L67.5 81.44 L67.6 81.39 L67.7 81.35 L67.8 81.3 L67.9 81.25 L68 81.19 L68.1 81.12 L68.2 81.05 L68.3 80.96 L68.4 80.86 L68.5 80.74 L68.6 80.6 L68.7 80.43 L68.8 80.21 L68.9 79.95 L69 79.64 L69.1 79.29 L69.2 78.93 L69.3 78.65 L69.4 78.52 L69.5 78.59 L69.6 78.83 L69.7 79.13 L69.8 79.43 L69.9 79.68 L70 79.89 L70.1 80.05 L70.2 80.17 L70.3 80.26 L70.4 80.33 L70.5 80.37 L70.6 80.4 L70.8 80.43 L71.3 80.4 L71.5 80.36 L71.6 80.33 L71.7 80.3 L71.8 80.26 L71.9 80.22 L72 80.17 L72.1 80.12 L72.2 80.05 L72.3 79.97 L72.4 79.88 L72.5 79.76 L72.6 79.62 L72.7 79.45 L72.8 79.23 L72.9 78.97 L73 78.64 L73.1 78.27 L73.2 77.9 L73.3 77.6 L73.4 77.47 L73.5 77.55 L73.6 77.8 L73.7 78.12 L73.8 78.44 L73.9 78.69 L74 78.89 L74.1 79.02 L74.2 79.09 L74.3 79.1 L74.4 79.06 L74.5 78.97 L74.6 78.82 L74.7 78.62 L74.8 78.42 L74.9 78.26 L75 78.22 L75.1 78.33 L75.2 78.56 L75.3 78.84 L75.4 79.11 L75.5 79.35 L75.6 79.55 L75.7 79.72 L75.8 79.85 L75.9 79.96 L76 80.04 L76.1 80.12 L76.2 80.18 L76.3 80.23 L76.4 80.27 L76.5 80.3 L76.7 80.36 L77 80.39 L77.3 80.34 L77.4 80.3 L77.5 80.24 L77.6 80.15 L77.7 80.04 L77.8 79.89 L77.9 79.71 L78 79.54 L78.1 79.4 L78.2 79.37 L78.3 79.46 L78.4 79.64 L78.5 79.87 L78.6 80.09 L78.7 80.29 L78.8 80.46 L78.9 80.6 L79 80.71 L79.1 80.8 L79.2 80.88 L79.3 80.95 L79.4 81 L79.5 81.05 L79.6 81.09 L79.7 81.12 L79.9 81.18 L80.4 81.18 L80.5 81.15 L80.6 81.1 L80.7 81.02 L80.8 80.91 L80.9 80.74 L81 80.51 L81.1 80.22 L81.2 79.87 L81.3 79.57 L81.4 79.46 L81.5 79.62 L81.6 79.97 L81.7 80.35 L81.8 80.7 L81.9 80.97 L82 81.18 L82.1 81.34 L82.2 81.47 L82.3 81.57 L82.4 81.65 L82.5 81.71 L82.6 81.77 L82.7 81.82 L82.8 81.86 L82.9 81.9 L83 81.93 L83.2 81.98 L83.4 82.03 L83.6 82.07 L83.8 82.11 L84 82.14 L84.3 82.19 L84.6 82.22 L84.9 82.26 L85.3 82.3 L85.7 82.33 L86.2 82.36 L86.8 82.39 L87.6 82.42 L88.9 82.45 L93.9 82.48 L113.7 82.45 L116.9 82.42 L118.3 82.39 L119 82.36 L119.5 82.32 L119.9 82.28 L120.2 82.24 L120.4 82.21 L120.6 82.17 L120.8 82.13 L121 82.08 L121.2 82.03 L121.4 81.97 L121.5 81.94 L121.6 81.91 L121.7 81.87 L121.8 81.84 L121.9 81.8 L122 81.76 L122.1 81.72 L122.2 81.68 L122.3 81.64 L122.4 81.6 L122.5 81.56 L122.6 81.51 L122.7 81.47 L122.8 81.42 L122.9 81.37 L123 81.33 L123.1 81.28 L123.2 81.23 L123.3 81.18 L123.4 81.13 L123.5 81.09 L123.6 81.04 L123.7 80.98 L123.8 80.93 L123.9 80.88 L124 80.83 L124.1 80.77 L124.2 80.71 L124.3 80.65 L124.4 80.59 L124.5 80.52 L124.6 80.45 L124.7 80.37 L124.8 80.28 L124.9 80.19 L125 80.08 L125.1 79.95 L125.2 79.81 L125.3 79.64 L125.4 79.45 L125.5 79.23 L125.6 78.96 L125.7 78.65 L125.8 78.29 L125.9 77.86 L126 77.36 L126.1 76.79 L126.2 76.18 L126.3 75.55 L126.4 74.95 L126.5 74.45 L126.6 74.1 L126.7 73.91 L126.8 73.85 L126.9 73.82 L127 73.72 L127.1 73.45 L127.2 72.91 L127.3 71.96 L127.4 70.43 L127.5 68.08 L127.6 64.48 L127.7 59.01 L127.8 50.82 L127.9 39.46 L128 27.16 L128.1 21.29 L128.2 27.41 L128.3 39.97 L128.4 51.6 L128.5 60.08 L128.6 65.86 L128.7 69.81 L128.8 72.55 L128.9 74.51 L129 75.95 L129.1 77.04 L129.2 77.87 L129.3 78.53 L129.4 79.05 L129.5 79.48 L129.6 79.83 L129.7 80.12 L129.8 80.36 L129.9 80.57 L130 80.75 L130.1 80.9 L130.2 81.03 L130.3 81.15 L130.4 81.25 L130.5 81.33 L130.6 81.41 L130.7 81.48 L130.8 81.54 L130.9 81.6 L131 81.65 L131.1 81.69 L131.2 81.73 L131.3 81.77 L131.4 81.8 L131.6 81.85 L131.8 81.9 L132 81.93 L132.4 81.96 L133.1 81.91 L133.3 81.86 L133.4 81.82 L133.5 81.78 L133.6 81.72 L133.7 81.65 L133.8 81.56 L133.9 81.45 L134 81.3 L134.1 81.11 L134.2 80.87 L134.3 80.54 L134.4 80.1 L134.5 79.51 L134.6 78.73 L134.7 77.72 L134.8 76.58 L134.9 75.56 L135 75.15 L135.1 75.57 L135.2 76.59 L135.3 77.75 L135.4 78.76 L135.5 79.55 L135.6 80.15 L135.7 80.6 L135.8 80.93 L135.9 81.19 L136 81.39 L136.1 81.54 L136.2 81.66 L136.3 81.76 L136.4 81.85 L136.5 81.91 L136.6 81.97 L136.7 82.02 L136.8 82.06 L136.9 82.1 L137 82.13 L137.2 82.18 L137.4 82.22 L137.6 82.25 L137.9 82.28 L138.3 82.32 L138.8 82.35 L139.6 82.38 L140.9 82.42 L146.9 82.39 L147.4 82.35 L147.8 82.32 L148.1 82.29 L148.4 82.25 L148.7 82.21 L148.9 82.18 L149.1 82.14 L149.3 82.11 L149.5 82.07 L149.7 82.03 L149.9 81.98 L150.1 81.94 L150.3 81.89 L150.5 81.84 L150.7 81.79 L150.9 81.74 L151.1 81.69 L151.3 81.64 L151.5 81.58 L151.7 81.53 L151.9 81.48 L152.1 81.43 L152.3 81.38 L152.5 81.32 L152.7 81.27 L152.9 81.21 L153 81.18 L153.1 81.15 L153.2 81.12 L153.3 81.08 L153.4 81.03 L153.5 80.98 L153.6 80.92 L153.7 80.86 L153.8 80.78 L153.9 80.68 L154 80.58 L154.1 80.47 L154.2 80.38 L154.3 80.31 L154.4 80.28 L154.5 80.32 L154.6 80.4 L154.7 80.5 L154.8 80.62 L154.9 80.73 L155 80.84 L155.1 80.93 L155.2 81 L155.3 81.07 L155.4 81.13 L155.5 81.18 L155.6 81.23 L155.7 81.27 L155.8 81.31 L155.9 81.35 L156 81.38 L156.1 81.42 L156.2 81.45 L156.3 81.48 L156.4 81.51 L156.5 81.54 L156.7 81.6 L156.9 81.66 L157.1 81.71 L157.3 81.77 L157.5 81.82 L157.7 81.87 L157.9 81.92 L158.1 81.96 L158.3 82 L158.5 82.04 L158.7 82.08 L158.9 82.11 L159.1 82.15 L159.4 82.19 L159.7 82.22 L160.1 82.26 L161.6 82.22 L161.8 82.18 L161.9 82.14 L162 82.1 L162.1 82.05 L162.2 81.99 L162.3 81.91 L162.4 81.81 L162.5 81.67 L162.6 81.5 L162.7 81.27 L162.8 80.98 L162.9 80.64 L163 80.27 L163.1 79.96 L163.2 79.84 L163.3 79.96 L163.4 80.27 L163.5 80.64 L163.6 80.98 L163.7 81.27 L163.8 81.5 L163.9 81.67 L164 81.81 L164.1 81.91 L164.2 81.99 L164.3 82.05 L164.4 82.1 L164.5 82.14 L164.6 82.18 L164.8 82.22 L165 82.25 L165.5 82.28 L166.2 82.24 L166.4 82.2 L166.5 82.18 L166.6 82.14 L166.7 82.11 L166.8 82.06 L166.9 82 L167 81.93 L167.1 81.85 L167.2 81.75 L167.3 81.63 L167.4 81.48 L167.5 81.3 L167.6 81.07 L167.7 80.78 L167.8 80.4 L167.9 79.9 L168 79.2 L168.1 78.24 L168.2 76.95 L168.3 75.55 L168.4 74.7 L168.5 74.91 L168.6 75.62 L168.7 76.12 L168.8 76.17 L168.9 75.92 L169 75.83 L169.1 76.24 L169.2 76.89 L169.3 77.46 L169.4 77.83 L169.5 78.03 L169.6 78.1 L169.7 78.04 L169.8 77.84 L169.9 77.47 L170 76.9 L170.1 76.26 L170.2 75.98 L170.3 76.38 L170.4 77.11 L170.5 77.72 L170.6 78.04 L170.7 78.05 L170.8 77.76 L170.9 77.35 L171 77.26 L171.1 77.83 L171.2 78.75 L171.3 79.6 L171.4 80.24 L171.5 80.7 L171.6 81.05 L171.7 81.31 L171.8 81.51 L171.9 81.67 L172 81.79 L172.1 81.9 L172.2 81.98 L172.3 82.06 L172.4 82.11 L172.5 82.16 L172.6 82.2 L172.7 82.24 L172.9 82.29 L173.1 82.33 L173.4 82.36 L173.8 82.39 L174.5 82.43 L176 82.46 L182.1 82.49 L200 82.5" fill="none" stroke="#b2dc8a" stroke-width="0.8"/>
<path d="M9.3 97.8 L61.1 97.77 L63.4 97.74 L64.4 97.71 L65 97.67 L65.4 97.64 L65.7 97.6 L65.9 97.57 L66.1 97.53 L66.3 97.48 L66.4 97.45 L66.5 97.41 L66.6 97.37 L66.7 97.32 L66.8 97.25 L66.9 97.18 L67 97.09 L67.1 96.98 L67.2 96.84 L67.3 96.65 L67.4 96.42 L67.5 96.1 L67.6 95.67 L67.7 95.06 L67.8 94.19 L67.9 92.9 L68 91.01 L68.1 88.41 L68.2 85.61 L68.3 84.26 L68.4 85.6 L68.5 88.41 L68.6 91 L68.7 92.89 L68.8 94.17 L68.9 95.04 L69 95.65 L69.1 96.07 L69.2 96.38 L69.3 96.62 L69.4 96.79 L69.5 96.93 L69.6 97.04 L69.7 97.12 L69.8 97.19 L69.9 97.25 L70 97.29 L70.1 97.33 L70.3 97.38 L70.5 97.42 L71.4 97.38 L71.5 97.36 L71.6 97.33 L71.7 97.29 L71.8 97.24 L71.9 97.18 L72 97.1 L72.1 97.01 L72.2 96.89 L72.3 96.73 L72.4 96.53 L72.5 96.25 L72.6 95.87 L72.7 95.34 L72.8 94.56 L72.9 93.42 L73 91.74 L73.1 89.44 L73.2 86.95 L73.3 85.75 L73.4 86.95 L73.5 89.45 L73.6 91.76 L73.7 93.44 L73.8 94.58 L73.9 95.36 L74 95.9 L74.1 96.28 L74.2 96.56 L74.3 96.77 L74.4 96.94 L74.5 97.06 L74.6 97.16 L74.7 97.24 L74.8 97.31 L74.9 97.36 L75 97.41 L75.1 97.45 L75.2 97.48 L75.4 97.53 L75.6 97.57 L75.8 97.61 L76.1 97.64 L76.5 97.68 L77.1 97.71 L78.1 97.74 L80.5 97.77 L120.8 97.74 L122.3 97.71 L123.1 97.68 L123.7 97.64 L124.1 97.61 L124.4 97.58 L124.7 97.54 L124.9 97.51 L125.1 97.47 L125.3 97.42 L125.4 97.39 L125.5 97.36 L125.6 97.33 L125.7 97.29 L125.8 97.24 L125.9 97.19 L126 97.14 L126.1 97.07 L126.2 96.99 L126.3 96.9 L126.4 96.8 L126.5 96.67 L126.6 96.52 L126.7 96.34 L126.8 96.11 L126.9 95.83 L127 95.48 L127.1 95.01 L127.2 94.4 L127.3 93.56 L127.4 92.39 L127.5 90.67 L127.6 88.05 L127.7 83.85 L127.8 76.8 L127.9 64.93 L128 48.05 L128.1 37.78 L128.2 48.05 L128.3 64.93 L128.4 76.8 L128.5 83.84 L128.6 88.04 L128.7 90.67 L128.8 92.38 L128.9 93.56 L129 94.39 L129.1 95 L129.2 95.47 L129.3 95.82 L129.4 96.1 L129.5 96.32 L129.6 96.51 L129.7 96.66 L129.8 96.78 L129.9 96.88 L130 96.97 L130.1 97.05 L130.2 97.11 L130.3 97.17 L130.4 97.22 L130.5 97.26 L130.6 97.3 L130.7 97.33 L130.9 97.38 L131.1 97.43 L131.3 97.46 L131.6 97.5 L132 97.53 L133.4 97.49 L133.6 97.46 L133.8 97.41 L133.9 97.38 L134 97.35 L134.1 97.3 L134.2 97.25 L134.3 97.19 L134.4 97.11 L134.5 97.01 L134.6 96.89 L134.7 96.73 L134.8 96.53 L134.9 96.27 L135 95.94 L135.1 95.5 L135.2 94.95 L135.3 94.28 L135.4 93.57 L135.5 92.98 L135.6 92.74 L135.7 92.98 L135.8 93.57 L135.9 94.29 L136 94.96 L136.1 95.51 L136.2 95.95 L136.3 96.29 L136.4 96.55 L136.5 96.76 L136.6 96.91 L136.7 97.04 L136.8 97.14 L136.9 97.22 L137 97.29 L137.1 97.35 L137.2 97.39 L137.3 97.43 L137.4 97.47 L137.6 97.52 L137.8 97.56 L138 97.6 L138.3 97.63 L138.7 97.67 L139.3 97.7 L140.3 97.73 L142.7 97.76 L157.5 97.73 L158.4 97.69 L158.9 97.66 L159.2 97.63 L159.5 97.58 L159.7 97.53 L159.8 97.5 L159.9 97.47 L160 97.43 L160.1 97.38 L160.2 97.33 L160.3 97.25 L160.4 97.17 L160.5 97.05 L160.6 96.91 L160.7 96.73 L160.8 96.49 L160.9 96.18 L161 95.79 L161.1 95.32 L161.2 94.82 L161.3 94.4 L161.4 94.24 L161.5 94.4 L161.6 94.81 L161.7 95.31 L161.8 95.77 L161.9 96.16 L162 96.46 L162.1 96.69 L162.2 96.87 L162.3 97.01 L162.4 97.12 L162.5 97.2 L162.6 97.26 L162.7 97.31 L162.8 97.35 L162.9 97.39 L163.1 97.43 L164.1 97.37 L164.2 97.34 L164.3 97.3 L164.4 97.24 L164.5 97.18 L164.6 97.09 L164.7 96.98 L164.8 96.84 L164.9 96.66 L165 96.43 L165.1 96.12 L165.2 95.73 L165.3 95.26 L165.4 94.76 L165.5 94.35 L165.6 94.18 L165.7 94.34 L165.8 94.75 L165.9 95.25 L166 95.71 L166.1 96.1 L166.2 96.4 L166.3 96.63 L166.4 96.81 L166.5 96.94 L166.6 97.04 L166.7 97.12 L166.8 97.18 L166.9 97.23 L167 97.26 L167.2 97.3 L167.7 97.27 L167.8 97.24 L167.9 97.2 L168 97.14 L168.1 97.07 L168.2 96.98 L168.3 96.86 L168.4 96.7 L168.5 96.5 L168.6 96.22 L168.7 95.85 L168.8 95.35 L168.9 94.72 L169 94 L169.1 93.35 L169.2 93.07 L169.3 93.29 L169.4 93.87 L169.5 94.52 L169.6 95.06 L169.7 95.45 L169.8 95.69 L169.9 95.8 L170 95.79 L170.1 95.66 L170.2 95.4 L170.3 95 L170.4 94.52 L170.5 94.08 L170.6 93.93 L170.7 94.18 L170.8 94.7 L170.9 95.29 L171 95.81 L171.1 96.21 L171.2 96.52 L171.3 96.75 L171.4 96.93 L171.5 97.06 L171.6 97.17 L171.7 97.25 L171.8 97.32 L171.9 97.38 L172 97.42 L172.1 97.46 L172.2 97.49 L172.4 97.54 L172.6 97.58 L172.8 97.61 L173.1 97.65 L173.5 97.68 L174.1 97.71 L175.2 97.74 L177.9 97.77 L200 97.8" fill="none" stroke="#d6c6ae" stroke-width="0.8"/>
<path d="M9.3 113.3 L60.5 113.27 L63 113.24 L64.1 113.21 L64.8 113.17 L65.2 113.14 L65.5 113.11 L65.8 113.06 L66 113.02 L66.2 112.97 L66.3 112.94 L66.4 112.91 L66.5 112.86 L66.6 112.82 L66.7 112.76 L66.8 112.69 L66.9 112.61 L67 112.51 L67.1 112.38 L67.2 112.22 L67.3 112.02 L67.4 111.76 L67.5 111.41 L67.6 110.93 L67.7 110.26 L67.8 109.28 L67.9 107.85 L68 105.75 L68.1 102.86 L68.2 99.75 L68.3 98.24 L68.4 99.74 L68.5 102.86 L68.6 105.74 L68.7 107.84 L68.8 109.26 L68.9 110.23 L69 110.9 L69.1 111.37 L69.2 111.72 L69.3 111.98 L69.4 112.17 L69.5 112.32 L69.6 112.44 L69.7 112.54 L69.8 112.61 L69.9 112.67 L70 112.72 L70.1 112.76 L70.2 112.79 L70.4 112.84 L70.7 112.87 L71.2 112.84 L71.4 112.79 L71.5 112.76 L71.6 112.72 L71.7 112.67 L71.8 112.61 L71.9 112.54 L72 112.44 L72.1 112.32 L72.2 112.17 L72.3 111.98 L72.4 111.72 L72.5 111.37 L72.6 110.9 L72.7 110.23 L72.8 109.26 L72.9 107.84 L73 105.74 L73.1 102.86 L73.2 99.74 L73.3 98.24 L73.4 99.75 L73.5 102.86 L73.6 105.75 L73.7 107.85 L73.8 109.28 L73.9 110.26 L74 110.93 L74.1 111.41 L74.2 111.76 L74.3 112.02 L74.4 112.22 L74.5 112.38 L74.6 112.51 L74.7 112.61 L74.8 112.69 L74.9 112.76 L75 112.82 L75.1 112.86 L75.2 112.91 L75.3 112.94 L75.4 112.97 L75.6 113.02 L75.8 113.06 L76 113.09 L76.3 113.13 L76.7 113.16 L77.3 113.2 L78.2 113.23 L80.1 113.26 L89.8 113.29 L119.1 113.26 L121.5 113.23 L122.7 113.19 L123.4 113.16 L123.9 113.13 L124.3 113.09 L124.6 113.06 L124.9 113.01 L125.1 112.97 L125.3 112.92 L125.4 112.89 L125.5 112.86 L125.6 112.83 L125.7 112.79 L125.8 112.75 L125.9 112.7 L126 112.64 L126.1 112.57 L126.2 112.5 L126.3 112.41 L126.4 112.3 L126.5 112.18 L126.6 112.02 L126.7 111.84 L126.8 111.62 L126.9 111.34 L127 110.98 L127.1 110.52 L127.2 109.9 L127.3 109.07 L127.4 107.89 L127.5 106.18 L127.6 103.55 L127.7 99.35 L127.8 92.3 L127.9 80.43 L128 63.56 L128.1 53.28 L128.2 63.56 L128.3 80.43 L128.4 92.3 L128.5 99.35 L128.6 103.55 L128.7 106.17 L128.8 107.89 L128.9 109.06 L129 109.9 L129.1 110.51 L129.2 110.97 L129.3 111.33 L129.4 111.61 L129.5 111.83 L129.6 112.01 L129.7 112.16 L129.8 112.29 L129.9 112.39 L130 112.48 L130.1 112.56 L130.2 112.62 L130.3 112.68 L130.4 112.73 L130.5 112.77 L130.6 112.81 L130.7 112.84 L130.9 112.9 L131.1 112.94 L131.3 112.98 L131.6 113.02 L132 113.05 L133.7 113.01 L133.9 112.97 L134 112.94 L134.1 112.91 L134.2 112.87 L134.3 112.82 L134.4 112.75 L134.5 112.67 L134.6 112.57 L134.7 112.44 L134.8 112.27 L134.9 112.03 L135 111.71 L135.1 111.26 L135.2 110.64 L135.3 109.78 L135.4 108.72 L135.5 107.7 L135.6 107.24 L135.7 107.7 L135.8 108.72 L135.9 109.79 L136 110.65 L136.1 111.28 L136.2 111.73 L136.3 112.05 L136.4 112.29 L136.5 112.47 L136.6 112.6 L136.7 112.71 L136.8 112.79 L136.9 112.85 L137 112.91 L137.1 112.95 L137.2 112.99 L137.3 113.02 L137.5 113.07 L137.7 113.1 L138 113.14 L138.4 113.18 L139 113.21 L140.1 113.24 L143.3 113.27 L157.1 113.24 L158.2 113.2 L158.8 113.17 L159.2 113.13 L159.5 113.08 L159.7 113.03 L159.8 113.01 L159.9 112.97 L160 112.93 L160.1 112.88 L160.2 112.83 L160.3 112.75 L160.4 112.67 L160.5 112.55 L160.6 112.41 L160.7 112.23 L160.8 111.99 L160.9 111.68 L161 111.29 L161.1 110.82 L161.2 110.32 L161.3 109.9 L161.4 109.74 L161.5 109.9 L161.6 110.31 L161.7 110.81 L161.8 111.27 L161.9 111.66 L162 111.96 L162.1 112.19 L162.2 112.37 L162.3 112.51 L162.4 112.62 L162.5 112.7 L162.6 112.76 L162.7 112.81 L162.8 112.85 L162.9 112.89 L163.1 112.93 L164.1 112.87 L164.2 112.84 L164.3 112.8 L164.4 112.74 L164.5 112.68 L164.6 112.59 L164.7 112.48 L164.8 112.34 L164.9 112.16 L165 111.92 L165.1 111.62 L165.2 111.23 L165.3 110.76 L165.4 110.26 L165.5 109.85 L165.6 109.68 L165.7 109.84 L165.8 110.25 L165.9 110.75 L166 111.21 L166.1 111.6 L166.2 111.9 L166.3 112.13 L166.4 112.31 L166.5 112.44 L166.6 112.54 L166.7 112.62 L166.8 112.68 L166.9 112.73 L167 112.76 L167.2 112.8 L167.7 112.76 L167.8 112.73 L167.9 112.69 L168 112.63 L168.1 112.56 L168.2 112.46 L168.3 112.34 L168.4 112.18 L168.5 111.97 L168.6 111.69 L168.7 111.31 L168.8 110.8 L168.9 110.16 L169 109.42 L169.1 108.76 L169.2 108.47 L169.3 108.7 L169.4 109.29 L169.5 109.95 L169.6 110.51 L169.7 110.91 L169.8 111.16 L169.9 111.28 L170 111.27 L170.1 111.15 L170.2 110.88 L170.3 110.49 L170.4 110.01 L170.5 109.58 L170.6 109.42 L170.7 109.67 L170.8 110.2 L170.9 110.79 L171 111.3 L171.1 111.71 L171.2 112.02 L171.3 112.25 L171.4 112.43 L171.5 112.56 L171.6 112.67 L171.7 112.75 L171.8 112.82 L171.9 112.87 L172 112.92 L172.1 112.96 L172.2 112.99 L172.4 113.04 L172.6 113.08 L172.8 113.11 L173.1 113.15 L173.5 113.18 L174.1 113.21 L175.2 113.24 L177.9 113.27 L200 113.3" fill="none" stroke="#de9cc0" stroke-width="0.8"/>
<line x1="68.3" y1="84.6" x2="68.3" y2="95.5" stroke="#9a6a78" stroke-width="0.8" stroke-opacity="0.75"/><line x1="73.3" y1="86.2" x2="73.3" y2="95.5" stroke="#8a6a90" stroke-width="0.8" stroke-opacity="0.75"/><line x1="68.3" y1="98.6" x2="68.3" y2="111" stroke="#a04a90" stroke-width="0.8" stroke-opacity="0.75"/><line x1="73.3" y1="98.6" x2="73.3" y2="111" stroke="#7040b0" stroke-width="0.8" stroke-opacity="0.75"/><line x1="135.6" y1="93.4" x2="135.6" y2="95.5" stroke="#8a6a60" stroke-width="0.8" stroke-opacity="0.75"/><line x1="135.6" y1="108" x2="135.6" y2="110.8" stroke="#301030" stroke-width="0.8" stroke-opacity="0.75"/><line x1="161.4" y1="94.8" x2="161.4" y2="96" stroke="#6a50a0" stroke-width="0.8" stroke-opacity="0.75"/><line x1="165.6" y1="94.8" x2="165.6" y2="96" stroke="#8a6070" stroke-width="0.8" stroke-opacity="0.75"/><line x1="169.3" y1="93.8" x2="169.3" y2="96" stroke="#6a4a70" stroke-width="0.8" stroke-opacity="0.75"/><line x1="170.6" y1="94.8" x2="170.6" y2="96" stroke="#a07050" stroke-width="0.8" stroke-opacity="0.75"/><line x1="161.4" y1="110.2" x2="161.4" y2="111.6" stroke="#5040b0" stroke-width="0.8" stroke-opacity="0.75"/><line x1="165.6" y1="110.2" x2="165.6" y2="111.6" stroke="#7050a0" stroke-width="0.8" stroke-opacity="0.75"/><line x1="169.3" y1="109.2" x2="169.3" y2="111.6" stroke="#502060" stroke-width="0.8" stroke-opacity="0.75"/><line x1="170.6" y1="110.2" x2="170.6" y2="111.6" stroke="#b06040" stroke-width="0.8" stroke-opacity="0.75"/>
<line x1="128.1" y1="1.2" x2="128.1" y2="83" stroke="#3a3238" stroke-width="1.15"/>
<line x1="128.1" y1="83" x2="128.1" y2="110" stroke="#9a7a88" stroke-width="0.8"/>
<line x1="9.3" y1="121.7" x2="200" y2="121.7" stroke="#9a9a9a" stroke-width="0.7"/>
<path d="M11.59 121.7 V122.5 M13.54 121.7 V122.5 M15.5 121.7 V122.5 M17.45 121.7 V122.5 M19.4 121.7 V122.5 M21.36 121.7 V122.5 M23.31 121.7 V122.5 M25.26 121.7 V122.5 M27.21 121.7 V122.5 M29.17 121.7 V122.5 M31.12 121.7 V122.5 M33.07 121.7 V122.5 M35.03 121.7 V122.5 M36.98 121.7 V122.5 M38.93 121.7 V122.5 M40.89 121.7 V122.5 M42.84 121.7 V122.5 M44.79 121.7 V122.5 M46.74 121.7 V122.5 M48.7 121.7 V122.5 M50.65 121.7 V122.5 M52.6 121.7 V122.5 M54.56 121.7 V122.5 M56.51 121.7 V122.5 M58.46 121.7 V122.5 M60.42 121.7 V122.5 M62.37 121.7 V122.5 M64.32 121.7 V122.5 M66.27 121.7 V122.5 M68.23 121.7 V122.5 M70.18 121.7 V122.5 M72.13 121.7 V122.5 M74.09 121.7 V122.5 M76.04 121.7 V122.5 M77.99 121.7 V122.5 M79.95 121.7 V122.5 M81.9 121.7 V122.5 M83.85 121.7 V122.5 M85.8 121.7 V122.5 M87.76 121.7 V122.5 M89.71 121.7 V122.5 M91.66 121.7 V122.5 M93.62 121.7 V122.5 M95.57 121.7 V122.5 M97.52 121.7 V122.5 M99.48 121.7 V122.5 M101.43 121.7 V122.5 M103.38 121.7 V122.5 M105.33 121.7 V122.5 M107.29 121.7 V122.5 M109.24 121.7 V122.5 M111.19 121.7 V122.5 M113.15 121.7 V122.5 M115.1 121.7 V122.5 M117.05 121.7 V122.5 M119.01 121.7 V122.5 M120.96 121.7 V122.5 M122.91 121.7 V122.5 M124.86 121.7 V122.5 M126.82 121.7 V122.5 M128.77 121.7 V122.5 M130.72 121.7 V122.5 M132.68 121.7 V122.5 M134.63 121.7 V122.5 M136.58 121.7 V122.5 M138.54 121.7 V122.5 M140.49 121.7 V122.5 M142.44 121.7 V122.5 M144.39 121.7 V122.5 M146.35 121.7 V122.5 M148.3 121.7 V122.5 M150.25 121.7 V122.5 M152.21 121.7 V122.5 M154.16 121.7 V122.5 M156.11 121.7 V122.5 M158.07 121.7 V122.5 M160.02 121.7 V122.5 M161.97 121.7 V122.5 M163.92 121.7 V122.5 M165.88 121.7 V122.5 M167.83 121.7 V122.5 M169.78 121.7 V122.5 M171.74 121.7 V122.5 M173.69 121.7 V122.5 M175.64 121.7 V122.5 M177.6 121.7 V122.5 M179.55 121.7 V122.5 M181.5 121.7 V122.5 M183.45 121.7 V122.5 M185.41 121.7 V122.5 M187.36 121.7 V122.5 M189.31 121.7 V122.5 M191.27 121.7 V122.5 M193.22 121.7 V122.5 M195.17 121.7 V122.5 M197.13 121.7 V122.5 M199.08 121.7 V122.5" stroke="#8a8a8a" stroke-width="0.5"/>
<text x="17.45" y="129.9" font-size="6.6" text-anchor="middle" fill="#333" stroke="#333" stroke-width="0.15">10.5</text>
<text x="36.98" y="129.9" font-size="6.6" text-anchor="middle" fill="#333" stroke="#333" stroke-width="0.15">9.5</text>
<text x="56.51" y="129.9" font-size="6.6" text-anchor="middle" fill="#333" stroke="#333" stroke-width="0.15">8.5</text>
<text x="76.04" y="129.9" font-size="6.6" text-anchor="middle" fill="#333" stroke="#333" stroke-width="0.15">7.5</text>
<text x="95.57" y="129.9" font-size="6.6" text-anchor="middle" fill="#333" stroke="#333" stroke-width="0.15">6.5</text>
<text x="115.1" y="129.9" font-size="6.6" text-anchor="middle" fill="#333" stroke="#333" stroke-width="0.15">5.5</text>
<text x="134.63" y="129.9" font-size="6.6" text-anchor="middle" fill="#333" stroke="#333" stroke-width="0.15">4.5</text>
<text x="154.16" y="129.9" font-size="6.6" text-anchor="middle" fill="#333" stroke="#333" stroke-width="0.15">3.5</text>
<text x="173.69" y="129.9" font-size="6.6" text-anchor="middle" fill="#333" stroke="#333" stroke-width="0.15">2.5</text>
<text x="193.22" y="129.9" font-size="6.6" text-anchor="middle" fill="#333" stroke="#333" stroke-width="0.15">1.5</text>
<text x="105.6" y="135.2" font-size="6.9" text-anchor="middle" fill="#333" stroke="#333" stroke-width="0.15">(ppm)</text>
<text x="0.8" y="17.2" font-size="10" fill="#222" stroke="#222" stroke-width="0.15" letter-spacing="0.5">a)</text>
<text x="25.8" y="18.1" font-size="8.4" textLength="15" lengthAdjust="spacingAndGlyphs" fill="#222" stroke="#222" stroke-width="0.15">24 h</text>
<text x="22.5" y="32.5" font-size="8.4" textLength="23.4" lengthAdjust="spacingAndGlyphs" fill="#222" stroke="#222" stroke-width="0.15">60 min</text>
<text x="22.1" y="49.7" font-size="8.4" textLength="23.8" lengthAdjust="spacingAndGlyphs" fill="#222" stroke="#222" stroke-width="0.15">30 min</text>
<text x="22.6" y="64.5" font-size="8.4" textLength="23.3" lengthAdjust="spacingAndGlyphs" fill="#222" stroke="#222" stroke-width="0.15">10 min</text>
<text x="3.4" y="78.3" font-size="6.3" fill="#222" textLength="59.8" lengthAdjust="spacingAndGlyphs" stroke="#222" stroke-width="0.15">T1-CO<tspan font-size="4.4" dy="1.3">2</tspan><tspan dy="-1.3">Na+NaI+H<tspan font-size="4.4" dy="1.3">2</tspan><tspan dy="-1.3">O<tspan font-size="4.4" dy="1.3">2</tspan></tspan></tspan></text>
<text x="13.7" y="93.2" font-size="6.3" fill="#222" stroke="#222" stroke-width="0.15">T1-CO<tspan font-size="4.4" dy="1.3">2</tspan><tspan dy="-1.3">Na+NaI</tspan></text>
<text x="20.6" y="108.8" font-size="6.3" fill="#222" stroke="#222" stroke-width="0.15">T1-CO<tspan font-size="4.4" dy="1.3">2</tspan><tspan dy="-1.3">Na</tspan></text>
<path d="M3.75 243.94 L7.95 243.91 L10.45 243.88 L12.15 243.85 L13.45 243.82 L14.45 243.78 L15.25 243.75 L15.95 243.72 L16.55 243.69 L17.05 243.65 L17.45 243.62 L17.85 243.59 L18.25 243.55 L18.55 243.51 L18.85 243.48 L19.15 243.43 L19.35 243.4 L19.55 243.37 L19.75 243.33 L19.95 243.29 L20.15 243.25 L20.35 243.2 L20.55 243.15 L20.75 243.09 L20.85 243.06 L20.95 243.02 L21.05 242.99 L21.15 242.95 L21.25 242.92 L21.35 242.88 L21.45 242.83 L21.55 242.79 L21.65 242.74 L21.75 242.69 L21.85 242.64 L21.95 242.58 L22.05 242.52 L22.15 242.46 L22.25 242.39 L22.35 242.32 L22.45 242.24 L22.55 242.16 L22.65 242.07 L22.75 241.98 L22.85 241.87 L22.95 241.77 L23.05 241.65 L23.15 241.52 L23.25 241.39 L23.35 241.24 L23.45 241.08 L23.55 240.9 L23.65 240.71 L23.75 240.5 L23.85 240.27 L23.95 240.02 L24.05 239.74 L24.15 239.42 L24.25 239.07 L24.35 238.67 L24.45 238.21 L24.55 237.69 L24.65 237.08 L24.75 236.36 L24.85 235.5 L24.95 234.46 L25.05 233.16 L25.15 231.53 L25.25 229.41 L25.35 226.59 L25.45 222.73 L25.55 217.27 L25.65 209.36 L25.75 197.71 L25.85 181 L25.95 163.5 L26.25 163.5 L26.35 181 L26.45 197.71 L26.55 209.36 L26.65 217.27 L26.75 222.72 L26.85 226.59 L26.95 229.4 L27.05 231.52 L27.15 233.16 L27.25 234.45 L27.35 235.49 L27.45 236.35 L27.55 237.06 L27.65 237.67 L27.75 238.2 L27.85 238.65 L27.95 239.05 L28.05 239.4 L28.15 239.72 L28.25 240 L28.35 240.25 L28.45 240.48 L28.55 240.69 L28.65 240.88 L28.75 241.05 L28.85 241.21 L28.95 241.36 L29.05 241.49 L29.15 241.62 L29.25 241.74 L29.35 241.84 L29.45 241.94 L29.55 242.04 L29.65 242.12 L29.75 242.2 L29.85 242.28 L29.95 242.35 L30.05 242.42 L30.15 242.48 L30.25 242.54 L30.35 242.59 L30.45 242.64 L30.55 242.69 L30.65 242.74 L30.75 242.78 L30.85 242.82 L30.95 242.86 L31.05 242.9 L31.15 242.93 L31.25 242.96 L31.35 242.99 L31.55 243.05 L31.75 243.1 L31.95 243.15 L32.15 243.19 L32.35 243.22 L32.55 243.25 L32.85 243.29 L33.15 243.32 L33.65 243.36 L34.55 243.32 L34.75 243.29 L34.85 243.26 L34.95 243.23 L35.05 243.19 L35.15 243.14 L35.25 243.08 L35.35 242.99 L35.45 242.88 L35.55 242.72 L35.65 242.51 L35.75 242.21 L35.85 241.77 L35.95 241.12 L36.05 240.19 L36.15 239.01 L36.25 238.04 L36.35 238.01 L36.45 238.93 L36.55 240.04 L36.65 240.91 L36.75 241.47 L36.85 241.81 L36.95 241.98 L37.05 242 L37.15 241.9 L37.25 241.63 L37.35 241.19 L37.45 240.58 L37.55 240.07 L37.65 240.05 L37.75 240.53 L37.85 241.09 L37.95 241.49 L38.05 241.69 L38.15 241.71 L38.25 241.56 L38.35 241.2 L38.45 240.59 L38.55 239.65 L38.65 238.44 L38.75 237.43 L38.85 237.45 L38.95 238.5 L39.05 239.77 L39.15 240.77 L39.25 241.46 L39.35 241.92 L39.45 242.22 L39.55 242.42 L39.65 242.56 L39.75 242.64 L39.85 242.68 L39.95 242.68 L40.05 242.65 L40.15 242.58 L40.25 242.47 L40.35 242.29 L40.45 242.03 L40.55 241.63 L40.65 241.04 L40.75 240.19 L40.85 239.12 L40.95 238.22 L41.05 238.18 L41.15 239 L41.25 239.98 L41.35 240.74 L41.45 241.22 L41.55 241.49 L41.65 241.6 L41.75 241.59 L41.85 241.46 L41.95 241.2 L42.05 240.78 L42.15 240.13 L42.25 239.15 L42.35 237.73 L42.45 235.92 L42.55 234.37 L42.65 234.13 L42.75 235.18 L42.85 236.4 L42.95 237.08 L43.05 237.06 L43.15 236.34 L43.25 235.07 L43.35 233.86 L43.45 233.67 L43.55 234.48 L43.65 235.28 L43.75 235.39 L43.85 234.59 L43.95 232.79 L44.05 230.18 L44.15 227.95 L44.25 228.02 L44.35 230.41 L44.45 233.22 L44.55 235.29 L44.65 236.49 L44.75 236.92 L44.85 236.65 L44.95 235.69 L45.05 234.18 L45.15 232.89 L45.25 233.07 L45.35 234.75 L45.45 236.7 L45.55 238.22 L45.65 239.24 L45.75 239.87 L45.85 240.22 L45.95 240.35 L46.05 240.27 L46.15 239.96 L46.25 239.37 L46.35 238.43 L46.45 237.19 L46.55 236.14 L46.65 236.09 L46.75 237.05 L46.85 238.19 L46.95 239.03 L47.05 239.51 L47.15 239.71 L47.25 239.68 L47.35 239.44 L47.45 238.99 L47.55 238.29 L47.65 237.25 L47.75 235.71 L47.85 233.38 L47.95 229.69 L48.05 223.46 L48.15 211.86 L48.25 187.27 L48.35 163.5 L48.65 163.5 L48.75 187.38 L48.85 212.01 L48.95 223.66 L49.05 229.95 L49.15 233.7 L49.25 236.1 L49.35 237.73 L49.45 238.88 L49.55 239.72 L49.65 240.36 L49.75 240.84 L49.85 241.22 L49.95 241.52 L50.05 241.75 L50.15 241.94 L50.25 242.09 L50.35 242.2 L50.45 242.29 L50.55 242.35 L50.65 242.38 L50.85 242.36 L50.95 242.29 L51.05 242.18 L51.15 242.02 L51.25 241.76 L51.35 241.39 L51.45 240.84 L51.55 240.01 L51.65 238.77 L51.75 236.97 L51.85 234.69 L51.95 232.81 L52.05 232.83 L52.15 234.75 L52.25 237.08 L52.35 238.93 L52.45 240.22 L52.55 241.1 L52.65 241.71 L52.75 242.14 L52.85 242.45 L52.95 242.68 L53.05 242.86 L53.15 243 L53.25 243.11 L53.35 243.2 L53.45 243.28 L53.55 243.34 L53.65 243.39 L53.75 243.44 L53.85 243.48 L53.95 243.51 L54.05 243.54 L54.25 243.59 L54.45 243.63 L54.65 243.67 L54.95 243.71 L55.25 243.74 L55.65 243.77 L56.15 243.8 L56.85 243.83 L57.85 243.87 L59.35 243.9 L61.95 243.93 L63.95 243.94" fill="none" stroke="#88dab6" stroke-width="0.7"/>
<path d="M3.75 197.11 L5.45 197.08 L6.85 197.05 L7.95 197.02 L8.95 196.98 L9.75 196.95 L10.45 196.92 L11.05 196.89 L11.65 196.86 L12.15 196.82 L12.65 196.79 L13.05 196.76 L13.45 196.72 L13.85 196.68 L14.15 196.65 L14.45 196.62 L14.75 196.58 L15.05 196.54 L15.35 196.5 L15.55 196.47 L15.75 196.44 L15.95 196.4 L16.15 196.37 L16.35 196.33 L16.55 196.29 L16.75 196.24 L16.95 196.2 L17.15 196.15 L17.35 196.09 L17.55 196.03 L17.65 196 L17.75 195.97 L17.85 195.94 L17.95 195.91 L18.05 195.87 L18.15 195.83 L18.25 195.8 L18.35 195.76 L18.45 195.72 L18.55 195.67 L18.65 195.63 L18.75 195.58 L18.85 195.53 L18.95 195.48 L19.05 195.43 L19.15 195.38 L19.25 195.32 L19.35 195.26 L19.45 195.2 L19.55 195.13 L19.65 195.06 L19.75 194.99 L19.85 194.92 L19.95 194.84 L20.05 194.75 L20.15 194.67 L20.25 194.57 L20.35 194.48 L20.45 194.38 L20.55 194.27 L20.65 194.15 L20.75 194.03 L20.85 193.91 L20.95 193.77 L21.05 193.63 L21.15 193.47 L21.25 193.31 L21.35 193.14 L21.45 192.96 L21.55 192.76 L21.65 192.55 L21.75 192.32 L21.85 192.08 L21.95 191.82 L22.05 191.54 L22.15 191.24 L22.25 190.91 L22.35 190.56 L22.45 190.17 L22.55 189.75 L22.65 189.29 L22.75 188.79 L22.85 188.23 L22.95 187.62 L23.05 186.94 L23.15 186.19 L23.25 185.35 L23.35 184.41 L23.45 183.35 L23.55 182.14 L23.65 180.78 L23.75 179.21 L23.85 177.4 L23.95 175.31 L24.05 172.86 L24.15 169.98 L24.25 166.58 L24.35 162.51 L24.45 157.62 L24.55 151.72 L24.56 151 M26.44 151 L26.45 151.7 L26.55 157.6 L26.65 162.48 L26.75 166.55 L26.85 169.95 L26.95 172.83 L27.05 175.27 L27.15 177.37 L27.25 179.17 L27.35 180.73 L27.45 182.1 L27.55 183.3 L27.65 184.36 L27.75 185.3 L27.85 186.14 L27.95 186.89 L28.05 187.56 L28.15 188.17 L28.25 188.72 L28.35 189.22 L28.45 189.68 L28.55 190.1 L28.65 190.48 L28.75 190.83 L28.85 191.16 L28.95 191.46 L29.05 191.73 L29.15 191.99 L29.25 192.23 L29.35 192.45 L29.45 192.66 L29.55 192.85 L29.65 193.03 L29.75 193.2 L29.85 193.36 L29.95 193.51 L30.05 193.65 L30.15 193.78 L30.25 193.9 L30.35 194.02 L30.45 194.13 L30.55 194.24 L30.65 194.33 L30.75 194.43 L30.85 194.51 L30.95 194.6 L31.05 194.68 L31.15 194.75 L31.25 194.82 L31.35 194.89 L31.45 194.95 L31.55 195.01 L31.65 195.07 L31.75 195.12 L31.85 195.17 L31.95 195.22 L32.05 195.27 L32.15 195.31 L32.25 195.35 L32.35 195.39 L32.45 195.43 L32.55 195.47 L32.65 195.5 L32.75 195.53 L32.95 195.59 L33.15 195.64 L33.35 195.68 L33.55 195.72 L33.75 195.76 L34.05 195.79 L34.55 195.83 L35.35 195.79 L35.55 195.76 L35.75 195.72 L35.95 195.66 L36.05 195.63 L36.15 195.59 L36.25 195.54 L36.35 195.5 L36.45 195.44 L36.55 195.38 L36.65 195.31 L36.75 195.23 L36.85 195.14 L36.95 195.04 L37.05 194.93 L37.15 194.8 L37.25 194.66 L37.35 194.49 L37.45 194.3 L37.55 194.09 L37.65 193.84 L37.75 193.56 L37.85 193.25 L37.95 192.89 L38.05 192.49 L38.15 192.04 L38.25 191.56 L38.35 191.04 L38.45 190.52 L38.55 190.02 L38.65 189.58 L38.75 189.24 L38.85 189.04 L38.95 189.01 L39.05 189.15 L39.15 189.43 L39.25 189.81 L39.35 190.24 L39.45 190.7 L39.55 191.15 L39.65 191.56 L39.75 191.93 L39.85 192.26 L39.95 192.53 L40.05 192.76 L40.15 192.94 L40.25 193.08 L40.35 193.18 L40.45 193.25 L40.55 193.28 L40.65 193.28 L40.75 193.24 L40.85 193.17 L40.95 193.07 L41.05 192.94 L41.15 192.78 L41.25 192.57 L41.35 192.34 L41.45 192.06 L41.55 191.75 L41.65 191.41 L41.75 191.05 L41.85 190.66 L41.95 190.27 L42.05 189.9 L42.15 189.55 L42.25 189.24 L42.35 188.97 L42.45 188.74 L42.55 188.54 L42.65 188.34 L42.75 188.13 L42.85 187.87 L42.95 187.56 L43.05 187.18 L43.15 186.71 L43.25 186.17 L43.35 185.56 L43.45 184.9 L43.55 184.24 L43.65 183.62 L43.75 183.09 L43.85 182.73 L43.95 182.58 L44.05 182.67 L44.15 183 L44.25 183.55 L44.35 184.26 L44.45 185.08 L44.55 185.96 L44.65 186.84 L44.75 187.69 L44.85 188.49 L44.95 189.22 L45.05 189.88 L45.15 190.48 L45.25 191.01 L45.35 191.47 L45.45 191.88 L45.55 192.24 L45.65 192.55 L45.75 192.81 L45.85 193.04 L45.95 193.23 L46.05 193.39 L46.15 193.51 L46.25 193.6 L46.35 193.66 L46.55 193.68 L46.65 193.63 L46.75 193.53 L46.85 193.38 L46.95 193.17 L47.05 192.87 L47.15 192.46 L47.25 191.9 L47.35 191.13 L47.45 190.04 L47.55 188.48 L47.65 186.13 L47.75 182.44 L47.85 176.2 L47.95 164.61 L48.01 151 M48.59 151 L48.65 164.86 L48.75 176.53 L48.85 182.84 L48.95 186.61 L49.05 189.04 L49.15 190.68 L49.25 191.86 L49.35 192.72 L49.45 193.38 L49.55 193.89 L49.65 194.29 L49.75 194.62 L49.85 194.89 L49.95 195.12 L50.05 195.31 L50.15 195.47 L50.25 195.61 L50.35 195.73 L50.45 195.83 L50.55 195.93 L50.65 196.01 L50.75 196.08 L50.85 196.15 L50.95 196.21 L51.05 196.26 L51.15 196.31 L51.25 196.35 L51.35 196.39 L51.45 196.43 L51.55 196.47 L51.65 196.5 L51.85 196.56 L52.05 196.61 L52.25 196.65 L52.45 196.69 L52.65 196.72 L52.85 196.76 L53.15 196.8 L53.45 196.83 L53.75 196.86 L54.15 196.9 L54.55 196.93 L55.05 196.96 L55.65 196.99 L56.35 197.03 L57.25 197.06 L58.35 197.09 L59.75 197.12 L61.65 197.15 L63.95 197.18" fill="none" stroke="#c4829a" stroke-width="0.8"/>
<line x1="3.75" y1="253.6" x2="64" y2="253.6" stroke="#9a9a9a" stroke-width="0.7"/>
<path d="M4.46 253.6 V254.4 M7.12 253.6 V254.4 M9.78 253.6 V254.4 M12.44 253.6 V254.4 M15.1 253.6 V254.4 M17.76 253.6 V254.4 M20.42 253.6 V254.4 M23.08 253.6 V254.4 M25.74 253.6 V254.4 M28.4 253.6 V254.4 M31.06 253.6 V254.4 M33.72 253.6 V254.4 M36.38 253.6 V254.4 M39.04 253.6 V254.4 M41.7 253.6 V254.4 M44.36 253.6 V254.4 M47.02 253.6 V254.4 M49.68 253.6 V254.4 M52.34 253.6 V254.4 M55 253.6 V254.4 M57.66 253.6 V254.4 M60.32 253.6 V254.4 M62.98 253.6 V254.4" stroke="#8a8a8a" stroke-width="0.5"/>
<clipPath id="c0"><rect x="-1.25" y="250" width="67.55" height="20"/></clipPath>
<g clip-path="url(#c0)">
<text x="15.2" y="263.9" font-size="7.9" text-anchor="middle" fill="#333" stroke="#333" stroke-width="0.15">3.8</text>
<text x="31.1" y="263.9" font-size="7.9" text-anchor="middle" fill="#333" stroke="#333" stroke-width="0.15">3.2</text>
<text x="47" y="263.9" font-size="7.9" text-anchor="middle" fill="#333" stroke="#333" stroke-width="0.15">2.6</text>
<text x="63.3" y="263.9" font-size="7.9" text-anchor="middle" fill="#333" stroke="#333" stroke-width="0.15">2.0</text>
</g>
<text x="36" y="272" font-size="7.8" text-anchor="middle" fill="#333" stroke="#333" stroke-width="0.15">(ppm)</text>
<path d="M67.5 243.99 L73.5 243.96 L74.4 243.93 L75 243.89 L75.4 243.86 L75.7 243.82 L76 243.79 L76.2 243.75 L76.4 243.72 L76.6 243.68 L76.8 243.64 L77 243.59 L77.2 243.54 L77.4 243.48 L77.5 243.45 L77.6 243.42 L77.7 243.39 L77.8 243.35 L77.9 243.31 L78 243.27 L78.1 243.23 L78.2 243.19 L78.3 243.15 L78.4 243.1 L78.5 243.05 L78.6 243 L78.7 242.95 L78.8 242.89 L78.9 242.84 L79 242.78 L79.1 242.72 L79.2 242.66 L79.3 242.59 L79.4 242.53 L79.5 242.46 L79.6 242.39 L79.7 242.31 L79.8 242.24 L79.9 242.16 L80 242.08 L80.1 242 L80.2 241.92 L80.3 241.83 L80.4 241.74 L80.5 241.65 L80.6 241.56 L80.7 241.47 L80.8 241.37 L80.9 241.28 L81 241.18 L81.1 241.08 L81.2 240.98 L81.3 240.87 L81.4 240.77 L81.5 240.66 L81.6 240.56 L81.7 240.45 L81.8 240.34 L81.9 240.23 L82 240.12 L82.1 240.02 L82.2 239.91 L82.3 239.79 L82.4 239.68 L82.5 239.57 L82.6 239.46 L82.7 239.36 L82.8 239.25 L82.9 239.14 L83 239.03 L83.1 238.93 L83.2 238.82 L83.3 238.72 L83.4 238.62 L83.5 238.52 L83.6 238.42 L83.7 238.33 L83.8 238.23 L83.9 238.14 L84 238.05 L84.1 237.97 L84.2 237.89 L84.3 237.81 L84.4 237.73 L84.5 237.66 L84.6 237.59 L84.7 237.53 L84.8 237.47 L84.9 237.41 L85 237.36 L85.1 237.31 L85.2 237.27 L85.3 237.23 L85.4 237.19 L85.5 237.16 L85.7 237.11 L86 237.08 L86.5 237.11 L86.7 237.16 L86.8 237.19 L86.9 237.22 L87 237.26 L87.1 237.3 L87.2 237.35 L87.3 237.41 L87.4 237.46 L87.5 237.52 L87.6 237.59 L87.7 237.65 L87.8 237.72 L87.9 237.8 L88 237.88 L88.1 237.96 L88.2 238.04 L88.3 238.13 L88.4 238.22 L88.5 238.31 L88.6 238.41 L88.7 238.5 L88.8 238.6 L88.9 238.7 L89 238.81 L89.1 238.91 L89.2 239.02 L89.3 239.12 L89.4 239.23 L89.5 239.34 L89.6 239.45 L89.7 239.56 L89.8 239.67 L89.9 239.78 L90 239.88 L90.1 239.99 L90.2 240.1 L90.3 240.21 L90.4 240.32 L90.5 240.43 L90.6 240.53 L90.7 240.64 L90.8 240.75 L90.9 240.85 L91 240.95 L91.1 241.05 L91.2 241.15 L91.3 241.25 L91.4 241.34 L91.5 241.44 L91.6 241.53 L91.7 241.62 L91.8 241.71 L91.9 241.8 L92 241.88 L92.1 241.97 L92.2 242.05 L92.3 242.12 L92.4 242.2 L92.5 242.28 L92.6 242.35 L92.7 242.42 L92.8 242.49 L92.9 242.55 L93 242.62 L93.1 242.68 L93.2 242.74 L93.3 242.79 L93.4 242.85 L93.5 242.9 L93.6 242.95 L93.7 243 L93.8 243.05 L93.9 243.1 L94 243.14 L94.1 243.18 L94.2 243.22 L94.3 243.26 L94.4 243.3 L94.5 243.33 L94.6 243.36 L94.7 243.39 L94.9 243.45 L95.1 243.5 L95.3 243.55 L95.5 243.59 L95.7 243.63 L95.9 243.66 L96.2 243.7 L96.5 243.74 L96.9 243.77 L97.5 243.8 L100 243.77 L100.5 243.73 L100.9 243.7 L101.2 243.66 L101.4 243.63 L101.6 243.59 L101.8 243.55 L102 243.5 L102.1 243.46 L102.2 243.43 L102.3 243.39 L102.4 243.35 L102.5 243.3 L102.6 243.24 L102.7 243.18 L102.8 243.1 L102.9 243.01 L103 242.91 L103.1 242.78 L103.2 242.62 L103.3 242.42 L103.4 242.16 L103.5 241.83 L103.6 241.4 L103.7 240.8 L103.8 239.99 L103.9 238.86 L104 237.32 L104.1 235.43 L104.2 233.59 L104.3 232.76 L104.4 233.5 L104.5 235.24 L104.6 237.04 L104.7 238.47 L104.8 239.49 L104.9 240.19 L105 240.65 L105.1 240.94 L105.2 241.11 L105.3 241.18 L105.4 241.16 L105.5 241.07 L105.6 240.89 L105.7 240.61 L105.8 240.22 L105.9 239.67 L106 238.92 L106.1 237.88 L106.2 236.43 L106.3 234.48 L106.4 232.04 L106.5 229.59 L106.6 228.16 L106.7 228.38 L106.8 229.51 L106.9 230.38 L107 230.36 L107.1 229.21 L107.2 226.85 L107.3 223.44 L107.4 219.97 L107.5 218.42 L107.6 220.04 L107.7 223.61 L107.8 227.16 L107.9 229.75 L108 231.22 L108.1 231.65 L108.2 231.1 L108.3 229.56 L108.4 227.2 L108.5 224.78 L108.6 223.86 L108.7 225.4 L108.8 228.49 L108.9 231.62 L109 234.11 L109.1 235.89 L109.2 237.1 L109.3 237.88 L109.4 238.32 L109.5 238.47 L109.6 238.34 L109.7 237.89 L109.8 237.05 L109.9 235.77 L110 234.07 L110.1 232.42 L110.2 231.73 L110.3 232.61 L110.4 234.47 L110.5 236.38 L110.6 237.92 L110.7 239.04 L110.8 239.84 L110.9 240.4 L111 240.79 L111.1 241.06 L111.2 241.25 L111.3 241.36 L111.4 241.42 L111.5 241.43 L111.6 241.39 L111.7 241.29 L111.8 241.15 L111.9 240.94 L112 240.66 L112.1 240.28 L112.2 239.77 L112.3 239.08 L112.4 238.13 L112.5 236.81 L112.6 234.87 L112.7 231.93 L112.8 227.15 L112.9 218.74 L113 202.15 L113.1 164.14 L113.2 151 L113.4 151 L113.5 164.19 L113.6 202.24 L113.7 218.86 L113.8 227.3 L113.9 232.1 L114 235.09 L114.1 237.06 L114.2 238.42 L114.3 239.41 L114.4 240.14 L114.5 240.7 L114.6 241.14 L114.7 241.49 L114.8 241.77 L114.9 242 L115 242.19 L115.1 242.35 L115.2 242.48 L115.3 242.6 L115.4 242.69 L115.5 242.78 L115.6 242.84 L115.7 242.9 L115.8 242.95 L115.9 243 L116 243.03 L116.2 243.08 L116.5 243.12 L116.9 243.08 L117 243.05 L117.1 243.01 L117.2 242.96 L117.3 242.9 L117.4 242.83 L117.5 242.74 L117.6 242.62 L117.7 242.47 L117.8 242.28 L117.9 242.05 L118 241.74 L118.1 241.33 L118.2 240.78 L118.3 240.02 L118.4 238.95 L118.5 237.41 L118.6 235.13 L118.7 231.78 L118.8 227.17 L118.9 222.19 L119 219.8 L119.1 222.2 L119.2 227.19 L119.3 231.81 L119.4 235.18 L119.5 237.47 L119.6 239.03 L119.7 240.11 L119.8 240.88 L119.9 241.44 L120 241.86 L120.1 242.19 L120.2 242.44 L120.3 242.64 L120.4 242.8 L120.5 242.94 L120.6 243.05 L120.7 243.14 L120.8 243.22 L120.9 243.29 L121 243.35 L121.1 243.4 L121.2 243.44 L121.3 243.48 L121.4 243.52 L121.5 243.55 L121.7 243.6 L121.9 243.64 L122.1 243.68 L122.4 243.72 L122.7 243.75 L123.1 243.79 L123.6 243.82 L124.3 243.86 L125.3 243.89 L126.9 243.92 L129.9 243.95 L131.2 243.96" fill="none" stroke="#88dab6" stroke-width="0.7"/>
<path d="M67.5 197.06 L68.8 197.02 L69.9 196.99 L70.8 196.96 L71.6 196.93 L72.3 196.9 L73 196.86 L73.6 196.83 L74.1 196.8 L74.6 196.76 L75 196.73 L75.4 196.7 L75.8 196.66 L76.2 196.62 L76.5 196.59 L76.8 196.56 L77.1 196.52 L77.4 196.48 L77.7 196.44 L77.9 196.41 L78.1 196.37 L78.3 196.34 L78.5 196.3 L78.7 196.27 L78.9 196.22 L79.1 196.18 L79.3 196.14 L79.5 196.09 L79.7 196.04 L79.9 195.98 L80.1 195.93 L80.2 195.9 L80.3 195.87 L80.4 195.83 L80.5 195.8 L80.6 195.77 L80.7 195.73 L80.8 195.69 L80.9 195.66 L81 195.62 L81.1 195.57 L81.2 195.53 L81.3 195.49 L81.4 195.44 L81.5 195.4 L81.6 195.35 L81.7 195.3 L81.8 195.24 L81.9 195.19 L82 195.13 L82.1 195.07 L82.2 195.01 L82.3 194.94 L82.4 194.88 L82.5 194.81 L82.6 194.73 L82.7 194.66 L82.8 194.58 L82.9 194.5 L83 194.41 L83.1 194.32 L83.2 194.22 L83.3 194.12 L83.4 194.02 L83.5 193.91 L83.6 193.8 L83.7 193.68 L83.8 193.55 L83.9 193.42 L84 193.28 L84.1 193.14 L84.2 192.98 L84.3 192.82 L84.4 192.65 L84.5 192.47 L84.6 192.28 L84.7 192.09 L84.8 191.87 L84.9 191.65 L85 191.42 L85.1 191.17 L85.2 190.91 L85.3 190.63 L85.4 190.33 L85.5 190.02 L85.6 189.69 L85.7 189.34 L85.8 188.96 L85.9 188.57 L86 188.15 L86.1 187.71 L86.2 187.23 L86.3 186.73 L86.4 186.21 L86.5 185.65 L86.6 185.05 L86.7 184.43 L86.8 183.77 L86.9 183.08 L87 182.35 L87.1 181.59 L87.2 180.81 L87.3 179.99 L87.4 179.15 L87.5 178.29 L87.6 177.41 L87.7 176.54 L87.8 175.67 L87.9 174.81 L88 173.99 L88.1 173.21 L88.2 172.5 L88.3 171.85 L88.4 171.3 L88.5 170.86 L88.6 170.53 L88.7 170.33 L88.8 170.26 L88.9 170.33 L89 170.53 L89.1 170.86 L89.2 171.3 L89.3 171.85 L89.4 172.49 L89.5 173.21 L89.6 173.98 L89.7 174.81 L89.8 175.66 L89.9 176.53 L90 177.41 L90.1 178.28 L90.2 179.14 L90.3 179.98 L90.4 180.79 L90.5 181.58 L90.6 182.34 L90.7 183.06 L90.8 183.75 L90.9 184.41 L91 185.04 L91.1 185.63 L91.2 186.19 L91.3 186.72 L91.4 187.21 L91.5 187.69 L91.6 188.13 L91.7 188.55 L91.8 188.94 L91.9 189.31 L92 189.66 L92.1 189.99 L92.2 190.31 L92.3 190.6 L92.4 190.88 L92.5 191.14 L92.6 191.39 L92.7 191.62 L92.8 191.84 L92.9 192.05 L93 192.25 L93.1 192.44 L93.2 192.61 L93.3 192.78 L93.4 192.94 L93.5 193.09 L93.6 193.24 L93.7 193.37 L93.8 193.5 L93.9 193.63 L94 193.75 L94.1 193.86 L94.2 193.96 L94.3 194.06 L94.4 194.16 L94.5 194.25 L94.6 194.34 L94.7 194.42 L94.8 194.5 L94.9 194.57 L95 194.64 L95.1 194.71 L95.2 194.77 L95.3 194.83 L95.4 194.89 L95.5 194.94 L95.6 194.99 L95.7 195.04 L95.8 195.08 L95.9 195.12 L96 195.15 L96.1 195.19 L96.2 195.22 L96.4 195.27 L96.6 195.31 L96.9 195.34 L97.7 195.31 L97.9 195.28 L98.1 195.24 L98.3 195.19 L98.5 195.14 L98.7 195.08 L98.9 195.03 L99.1 194.97 L99.3 194.92 L99.5 194.87 L99.7 194.83 L99.9 194.8 L101.1 194.85 L101.3 194.9 L101.5 194.95 L101.7 195 L101.9 195.06 L102.1 195.11 L102.3 195.16 L102.5 195.19 L103 195.16 L103.1 195.13 L103.2 195.08 L103.3 195.01 L103.4 194.93 L103.5 194.82 L103.6 194.68 L103.7 194.51 L103.8 194.3 L103.9 194.05 L104 193.77 L104.1 193.46 L104.2 193.16 L104.3 192.89 L104.4 192.7 L104.5 192.64 L104.6 192.71 L104.7 192.9 L104.8 193.17 L104.9 193.48 L105 193.79 L105.1 194.07 L105.2 194.32 L105.3 194.52 L105.4 194.69 L105.5 194.82 L105.6 194.93 L105.7 195 L105.8 195.05 L106 195.08 L106.1 195.06 L106.2 195.03 L106.3 194.97 L106.4 194.9 L106.5 194.81 L106.6 194.69 L106.7 194.55 L106.8 194.38 L106.9 194.18 L107 193.94 L107.1 193.67 L107.2 193.34 L107.3 192.96 L107.4 192.51 L107.5 192 L107.6 191.4 L107.7 190.72 L107.8 189.97 L107.9 189.16 L108 188.33 L108.1 187.53 L108.2 186.85 L108.3 186.38 L108.4 186.18 L108.5 186.27 L108.6 186.64 L108.7 187.21 L108.8 187.89 L108.9 188.59 L109 189.25 L109.1 189.84 L109.2 190.32 L109.3 190.69 L109.4 190.93 L109.5 191.05 L109.6 191.04 L109.7 190.9 L109.8 190.63 L109.9 190.24 L110 189.79 L110.1 189.36 L110.2 189.06 L110.3 189.01 L110.4 189.27 L110.5 189.79 L110.6 190.45 L110.7 191.14 L110.8 191.78 L110.9 192.34 L111 192.8 L111.1 193.16 L111.2 193.44 L111.3 193.65 L111.4 193.79 L111.5 193.87 L111.6 193.9 L111.7 193.86 L111.8 193.77 L111.9 193.61 L112 193.36 L112.1 193.01 L112.2 192.53 L112.3 191.87 L112.4 190.95 L112.5 189.65 L112.6 187.73 L112.7 184.8 L112.8 180.04 L112.9 171.65 L113 155.07 L113.01 151 M113.59 151 L113.6 155.2 L113.7 171.82 L113.8 180.27 L113.9 185.08 L114 188.06 L114.1 190.02 L114.2 191.38 L114.3 192.36 L114.4 193.09 L114.5 193.64 L114.6 194.06 L114.7 194.39 L114.8 194.65 L114.9 194.85 L115 195 L115.1 195.11 L115.2 195.18 L115.3 195.22 L115.4 195.23 L115.5 195.19 L115.6 195.12 L115.7 195.02 L115.8 194.88 L115.9 194.72 L116 194.58 L116.1 194.48 L116.2 194.47 L116.3 194.56 L116.4 194.74 L116.5 194.97 L116.6 195.22 L116.7 195.45 L116.8 195.66 L116.9 195.84 L117 195.99 L117.1 196.11 L117.2 196.22 L117.3 196.3 L117.4 196.38 L117.5 196.45 L117.6 196.5 L117.7 196.55 L117.8 196.59 L117.9 196.63 L118 196.66 L118.1 196.69 L118.3 196.75 L118.5 196.79 L118.7 196.82 L118.9 196.85 L119.2 196.89 L119.5 196.92 L119.9 196.96 L120.4 196.99 L121 197.03 L121.7 197.06 L122.7 197.09 L124 197.12 L125.8 197.15 L128.5 197.18 L131.2 197.2" fill="none" stroke="#c4829a" stroke-width="0.8"/>
<line x1="67.5" y1="253.6" x2="131.2" y2="253.6" stroke="#9a9a9a" stroke-width="0.7"/>
<path d="M69.06 253.6 V254.4 M71.72 253.6 V254.4 M74.38 253.6 V254.4 M77.04 253.6 V254.4 M79.7 253.6 V254.4 M82.36 253.6 V254.4 M85.02 253.6 V254.4 M87.68 253.6 V254.4 M90.34 253.6 V254.4 M93 253.6 V254.4 M95.66 253.6 V254.4 M98.32 253.6 V254.4 M100.98 253.6 V254.4 M103.64 253.6 V254.4 M106.3 253.6 V254.4 M108.96 253.6 V254.4 M111.62 253.6 V254.4 M114.28 253.6 V254.4 M116.94 253.6 V254.4 M119.6 253.6 V254.4 M122.26 253.6 V254.4 M124.92 253.6 V254.4 M127.58 253.6 V254.4 M130.24 253.6 V254.4" stroke="#8a8a8a" stroke-width="0.5"/>
<clipPath id="c64"><rect x="62.5" y="250" width="68.5" height="20"/></clipPath>
<g clip-path="url(#c64)">
<text x="79.8" y="263.9" font-size="7.9" text-anchor="middle" fill="#333" stroke="#333" stroke-width="0.15">3.8</text>
<text x="95.7" y="263.9" font-size="7.9" text-anchor="middle" fill="#333" stroke="#333" stroke-width="0.15">3.2</text>
<text x="111.6" y="263.9" font-size="7.9" text-anchor="middle" fill="#333" stroke="#333" stroke-width="0.15">2.6</text>
<text x="127.7" y="263.9" font-size="7.9" text-anchor="middle" fill="#333" stroke="#333" stroke-width="0.15">2.0</text>
</g>
<text x="100.5" y="272" font-size="7.8" text-anchor="middle" fill="#333" stroke="#333" stroke-width="0.15">(ppm)</text>
<path d="M133.8 243.92 L137.4 243.89 L139.7 243.86 L141.4 243.83 L142.7 243.8 L143.7 243.76 L144.5 243.73 L145.2 243.7 L145.8 243.67 L146.3 243.63 L146.8 243.6 L147.2 243.56 L147.6 243.52 L147.9 243.49 L148.2 243.45 L148.5 243.41 L148.8 243.37 L149 243.34 L149.2 243.3 L149.4 243.26 L149.6 243.22 L149.8 243.18 L150 243.13 L150.2 243.08 L150.4 243.02 L150.5 242.99 L150.6 242.95 L150.7 242.92 L150.8 242.88 L150.9 242.85 L151 242.81 L151.1 242.77 L151.2 242.72 L151.3 242.68 L151.4 242.63 L151.5 242.58 L151.6 242.53 L151.7 242.47 L151.8 242.41 L151.9 242.35 L152 242.28 L152.1 242.21 L152.2 242.13 L152.3 242.05 L152.4 241.97 L152.5 241.88 L152.6 241.78 L152.7 241.68 L152.8 241.57 L152.9 241.46 L153 241.33 L153.1 241.19 L153.2 241.05 L153.3 240.89 L153.4 240.72 L153.5 240.54 L153.6 240.34 L153.7 240.12 L153.8 239.88 L153.9 239.61 L154 239.31 L154.1 238.99 L154.2 238.62 L154.3 238.2 L154.4 237.72 L154.5 237.16 L154.6 236.52 L154.7 235.75 L154.8 234.82 L154.9 233.67 L155 232.24 L155.1 230.41 L155.2 227.99 L155.3 224.72 L155.4 220.16 L155.5 213.63 L155.6 204.04 L155.7 190 L155.8 173.4 L156.2 173.4 L156.3 190 L156.4 204.04 L156.5 213.62 L156.6 220.15 L156.7 224.71 L156.8 227.98 L156.9 230.39 L157 232.23 L157.1 233.66 L157.2 234.8 L157.3 235.72 L157.4 236.49 L157.5 237.14 L157.6 237.69 L157.7 238.17 L157.8 238.59 L157.9 238.95 L158 239.28 L158.1 239.57 L158.2 239.84 L158.3 240.08 L158.4 240.29 L158.5 240.49 L158.6 240.68 L158.7 240.84 L158.8 241 L158.9 241.14 L159 241.28 L159.1 241.4 L159.2 241.51 L159.3 241.62 L159.4 241.72 L159.5 241.81 L159.6 241.9 L159.7 241.98 L159.8 242.06 L159.9 242.13 L160 242.2 L160.1 242.26 L160.2 242.32 L160.3 242.38 L160.4 242.43 L160.5 242.48 L160.6 242.53 L160.7 242.57 L160.8 242.62 L160.9 242.66 L161 242.69 L161.1 242.73 L161.2 242.76 L161.3 242.79 L161.5 242.85 L161.7 242.9 L161.9 242.94 L162.1 242.98 L162.3 243.01 L162.6 243.04 L163.8 242.99 L163.9 242.96 L164 242.93 L164.1 242.89 L164.2 242.84 L164.3 242.78 L164.4 242.71 L164.5 242.62 L164.6 242.5 L164.7 242.35 L164.8 242.17 L164.9 241.92 L165 241.6 L165.1 241.17 L165.2 240.57 L165.3 239.75 L165.4 238.59 L165.5 237.02 L165.6 235.06 L165.7 233.18 L165.8 232.34 L165.9 233.16 L166 235.03 L166.1 236.97 L166.2 238.53 L166.3 239.66 L166.4 240.47 L166.5 241.04 L166.6 241.44 L166.7 241.74 L166.8 241.95 L166.9 242.1 L167 242.2 L167.1 242.26 L167.3 242.28 L167.4 242.25 L167.5 242.18 L167.6 242.07 L167.7 241.92 L167.8 241.7 L167.9 241.41 L168 240.99 L168.1 240.41 L168.2 239.6 L168.3 238.46 L168.4 236.89 L168.5 234.94 L168.6 233.06 L168.7 232.23 L168.8 233.06 L168.9 234.93 L169 236.87 L169.1 238.43 L169.2 239.56 L169.3 240.37 L169.4 240.94 L169.5 241.35 L169.6 241.64 L169.7 241.85 L169.8 242 L169.9 242.11 L170 242.17 L170.1 242.21 L170.3 242.2 L170.4 242.15 L170.5 242.07 L170.6 241.96 L170.7 241.81 L170.8 241.6 L170.9 241.32 L171 240.94 L171.1 240.42 L171.2 239.71 L171.3 238.71 L171.4 237.36 L171.5 235.69 L171.6 234.06 L171.7 233.28 L171.8 233.82 L171.9 235.2 L172 236.6 L172.1 237.64 L172.2 238.28 L172.3 238.57 L172.4 238.55 L172.5 238.24 L172.6 237.62 L172.7 236.6 L172.8 235.08 L172.9 232.93 L173 230.22 L173.1 227.56 L173.2 226.28 L173.3 227.21 L173.4 229.51 L173.5 231.82 L173.6 233.52 L173.7 234.5 L173.8 234.85 L173.9 234.62 L174 233.78 L174.1 232.26 L174.2 229.86 L174.3 226.4 L174.4 221.99 L174.5 217.66 L174.6 215.63 L174.7 217.26 L174.8 221.15 L174.9 225.04 L175 227.84 L175.1 229.36 L175.2 229.7 L175.3 228.94 L175.4 227.29 L175.5 225.44 L175.6 224.68 L175.7 225.82 L175.8 228.08 L175.9 230.21 L176 231.56 L176.1 232 L176.2 231.51 L176.3 230.09 L176.4 227.89 L176.5 225.63 L176.6 224.78 L176.7 226.25 L176.8 229.18 L176.9 232.17 L177 234.56 L177.1 236.3 L177.2 237.52 L177.3 238.38 L177.4 238.97 L177.5 239.36 L177.6 239.6 L177.7 239.71 L177.8 239.7 L177.9 239.58 L178 239.33 L178.1 238.93 L178.2 238.34 L178.3 237.47 L178.4 236.21 L178.5 234.33 L178.6 231.43 L178.7 226.7 L178.8 218.33 L178.9 201.78 L179 173.4 L179.4 173.4 L179.5 202.01 L179.6 218.64 L179.7 227.1 L179.8 231.93 L179.9 234.92 L180 236.91 L180.1 238.29 L180.2 239.29 L180.3 240.03 L180.4 240.61 L180.5 241.06 L180.6 241.42 L180.7 241.71 L180.8 241.95 L180.9 242.16 L181 242.33 L181.1 242.47 L181.2 242.6 L181.3 242.71 L181.4 242.8 L181.5 242.89 L181.6 242.96 L181.7 243.03 L181.8 243.09 L181.9 243.14 L182 243.19 L182.1 243.23 L182.2 243.27 L182.3 243.31 L182.4 243.34 L182.5 243.37 L182.7 243.43 L182.9 243.47 L183.1 243.51 L183.3 243.55 L183.5 243.58 L183.8 243.62 L184.1 243.65 L184.5 243.69 L184.9 243.72 L185.4 243.75 L186 243.78 L186.8 243.81 L187.9 243.85 L189.4 243.88 L191.7 243.91 L195.8 243.94 L197 243.94" fill="none" stroke="#88dab6" stroke-width="0.7"/>
<path d="M133.8 197.02 L134.9 196.99 L135.9 196.96 L136.7 196.93 L137.4 196.9 L138.1 196.86 L138.7 196.83 L139.2 196.8 L139.7 196.77 L140.2 196.73 L140.6 196.7 L141 196.66 L141.4 196.62 L141.7 196.59 L142 196.56 L142.3 196.53 L142.6 196.49 L142.9 196.45 L143.2 196.4 L143.4 196.37 L143.6 196.34 L143.8 196.3 L144 196.27 L144.2 196.23 L144.4 196.18 L144.6 196.14 L144.8 196.09 L145 196.04 L145.2 195.99 L145.4 195.93 L145.5 195.91 L145.6 195.87 L145.7 195.84 L145.8 195.81 L145.9 195.78 L146 195.74 L146.1 195.71 L146.2 195.67 L146.3 195.63 L146.4 195.59 L146.5 195.55 L146.6 195.5 L146.7 195.46 L146.8 195.41 L146.9 195.36 L147 195.31 L147.1 195.26 L147.2 195.2 L147.3 195.15 L147.4 195.09 L147.5 195.03 L147.6 194.96 L147.7 194.89 L147.8 194.82 L147.9 194.75 L148 194.67 L148.1 194.59 L148.2 194.5 L148.3 194.41 L148.4 194.32 L148.5 194.22 L148.6 194.12 L148.7 194.01 L148.8 193.89 L148.9 193.77 L149 193.64 L149.1 193.51 L149.2 193.36 L149.3 193.21 L149.4 193.05 L149.5 192.88 L149.6 192.69 L149.7 192.5 L149.8 192.29 L149.9 192.07 L150 191.83 L150.1 191.57 L150.2 191.29 L150.3 191 L150.4 190.67 L150.5 190.33 L150.6 189.95 L150.7 189.54 L150.8 189.09 L150.9 188.59 L151 188.05 L151.1 187.46 L151.2 186.8 L151.3 186.07 L151.4 185.25 L151.5 184.34 L151.6 183.31 L151.7 182.15 L151.8 180.82 L151.9 179.31 L152 177.57 L152.1 175.56 L152.2 173.21 L152.3 170.45 L152.4 167.19 L152.5 163.31 L152.6 158.65 L152.7 153.04 L152.73 151 M156.27 151 L156.3 153 L156.4 158.6 L156.5 163.26 L156.6 167.14 L156.7 170.4 L156.8 173.15 L156.9 175.5 L157 177.51 L157.1 179.25 L157.2 180.75 L157.3 182.07 L157.4 183.23 L157.5 184.26 L157.6 185.17 L157.7 185.98 L157.8 186.71 L157.9 187.37 L158 187.96 L158.1 188.5 L158.2 188.99 L158.3 189.43 L158.4 189.84 L158.5 190.22 L158.6 190.56 L158.7 190.88 L158.8 191.17 L158.9 191.45 L159 191.7 L159.1 191.94 L159.2 192.15 L159.3 192.36 L159.4 192.55 L159.5 192.73 L159.6 192.9 L159.7 193.05 L159.8 193.2 L159.9 193.34 L160 193.47 L160.1 193.6 L160.2 193.71 L160.3 193.82 L160.4 193.93 L160.5 194.02 L160.6 194.12 L160.7 194.21 L160.8 194.29 L160.9 194.37 L161 194.44 L161.1 194.51 L161.2 194.58 L161.3 194.64 L161.4 194.7 L161.5 194.76 L161.6 194.82 L161.7 194.87 L161.8 194.92 L161.9 194.96 L162 195.01 L162.1 195.05 L162.2 195.09 L162.3 195.12 L162.4 195.16 L162.5 195.19 L162.6 195.22 L162.8 195.27 L163 195.32 L163.2 195.36 L163.4 195.39 L163.7 195.42 L164.7 195.38 L164.9 195.33 L165 195.3 L165.1 195.27 L165.2 195.23 L165.3 195.19 L165.4 195.14 L165.5 195.09 L165.6 195.03 L165.7 194.95 L165.8 194.88 L165.9 194.79 L166 194.68 L166.1 194.57 L166.2 194.44 L166.3 194.3 L166.4 194.13 L166.5 193.95 L166.6 193.74 L166.7 193.5 L166.8 193.23 L166.9 192.93 L167 192.59 L167.1 192.21 L167.2 191.79 L167.3 191.33 L167.4 190.84 L167.5 190.32 L167.6 189.8 L167.7 189.3 L167.8 188.86 L167.9 188.5 L168 188.27 L168.1 188.18 L168.2 188.25 L168.3 188.47 L168.4 188.82 L168.5 189.25 L168.6 189.74 L168.7 190.24 L168.8 190.74 L168.9 191.22 L169 191.66 L169.1 192.06 L169.2 192.42 L169.3 192.75 L169.4 193.03 L169.5 193.28 L169.6 193.49 L169.7 193.68 L169.8 193.84 L169.9 193.98 L170 194.1 L170.1 194.19 L170.2 194.28 L170.3 194.34 L170.4 194.39 L170.5 194.43 L170.7 194.47 L171.1 194.42 L171.2 194.38 L171.3 194.33 L171.4 194.26 L171.5 194.19 L171.6 194.1 L171.7 194 L171.8 193.88 L171.9 193.74 L172 193.59 L172.1 193.42 L172.2 193.23 L172.3 193.01 L172.4 192.76 L172.5 192.49 L172.6 192.18 L172.7 191.84 L172.8 191.45 L172.9 191.01 L173 190.53 L173.1 189.99 L173.2 189.39 L173.3 188.73 L173.4 188 L173.5 187.2 L173.6 186.35 L173.7 185.46 L173.8 184.54 L173.9 183.63 L174 182.77 L174.1 182 L174.2 181.38 L174.3 180.95 L174.4 180.74 L174.5 180.77 L174.6 181.01 L174.7 181.43 L174.8 181.99 L174.9 182.63 L175 183.29 L175.1 183.94 L175.2 184.53 L175.3 185.05 L175.4 185.5 L175.5 185.88 L175.6 186.21 L175.7 186.53 L175.8 186.87 L175.9 187.27 L176 187.75 L176.1 188.29 L176.2 188.87 L176.3 189.46 L176.4 190.03 L176.5 190.56 L176.6 191.05 L176.7 191.47 L176.8 191.84 L176.9 192.15 L177 192.41 L177.1 192.62 L177.2 192.79 L177.3 192.91 L177.4 192.99 L177.6 192.99 L177.7 192.92 L177.8 192.78 L177.9 192.56 L178 192.23 L178.1 191.78 L178.2 191.15 L178.3 190.25 L178.4 188.97 L178.5 187.08 L178.6 184.18 L178.7 179.44 L178.8 171.07 L178.9 154.51 L178.91 151 M179.49 151 L179.5 154.77 L179.6 171.41 L179.7 179.87 L179.8 184.7 L179.9 187.7 L180 189.69 L180.1 191.07 L180.2 192.07 L180.3 192.82 L180.4 193.39 L180.5 193.84 L180.6 194.19 L180.7 194.48 L180.8 194.71 L180.9 194.9 L181 195.06 L181.1 195.19 L181.2 195.29 L181.3 195.37 L181.4 195.42 L181.5 195.46 L181.7 195.47 L181.8 195.44 L181.9 195.38 L182 195.3 L182.1 195.2 L182.2 195.08 L182.3 194.97 L182.4 194.9 L182.5 194.89 L182.6 194.97 L182.7 195.11 L182.8 195.29 L182.9 195.47 L183 195.65 L183.1 195.81 L183.2 195.95 L183.3 196.06 L183.4 196.16 L183.5 196.24 L183.6 196.31 L183.7 196.38 L183.8 196.43 L183.9 196.47 L184 196.51 L184.1 196.55 L184.2 196.58 L184.4 196.64 L184.6 196.68 L184.8 196.72 L185 196.75 L185.3 196.79 L185.6 196.83 L185.9 196.86 L186.3 196.89 L186.8 196.93 L187.4 196.96 L188.1 197 L188.9 197.03 L189.9 197.06 L191.2 197.09 L192.9 197.12 L195.2 197.15 L197 197.17" fill="none" stroke="#c4829a" stroke-width="0.8"/>
<line x1="133.8" y1="253.6" x2="197" y2="253.6" stroke="#9a9a9a" stroke-width="0.7"/>
<path d="M136.32 253.6 V254.4 M138.98 253.6 V254.4 M141.64 253.6 V254.4 M144.3 253.6 V254.4 M146.96 253.6 V254.4 M149.62 253.6 V254.4 M152.28 253.6 V254.4 M154.94 253.6 V254.4 M157.6 253.6 V254.4 M160.26 253.6 V254.4 M162.92 253.6 V254.4 M165.58 253.6 V254.4 M168.24 253.6 V254.4 M170.9 253.6 V254.4 M173.56 253.6 V254.4 M176.22 253.6 V254.4 M178.88 253.6 V254.4 M181.54 253.6 V254.4 M184.2 253.6 V254.4 M186.86 253.6 V254.4 M189.52 253.6 V254.4 M192.18 253.6 V254.4 M194.84 253.6 V254.4" stroke="#8a8a8a" stroke-width="0.5"/>
<clipPath id="c129"><rect x="128.8" y="250" width="68.1" height="20"/></clipPath>
<g clip-path="url(#c129)">
<text x="144.2" y="263.9" font-size="7.9" text-anchor="middle" fill="#333" stroke="#333" stroke-width="0.15">3.8</text>
<text x="160.7" y="263.9" font-size="7.9" text-anchor="middle" fill="#333" stroke="#333" stroke-width="0.15">3.2</text>
<text x="177.4" y="263.9" font-size="7.9" text-anchor="middle" fill="#333" stroke="#333" stroke-width="0.15">2.6</text>
<text x="194.5" y="263.9" font-size="7.9" text-anchor="middle" fill="#333" stroke="#333" stroke-width="0.15">2.0</text>
</g>
<text x="166.2" y="272" font-size="7.8" text-anchor="middle" fill="#333" stroke="#333" stroke-width="0.15">(ppm)</text>
<line x1="48.4" y1="151" x2="48.4" y2="197" stroke="#44524e" stroke-width="0.95"/>
<line x1="113.35" y1="151" x2="113.35" y2="192" stroke="#6e8c86" stroke-width="0.85"/>
<line x1="179.2" y1="151" x2="179.2" y2="243" stroke="#80d0b0" stroke-width="0.9"/>
<rect x="50.7" y="177.3" width="3.6" height="72.3" rx="1.2" fill="none" stroke="#f07a36" stroke-width="0.9" stroke-dasharray="2.6 1.5"/>
<rect x="117.5" y="177.3" width="4.2" height="72.3" rx="1.2" fill="none" stroke="#f07a36" stroke-width="0.9" stroke-dasharray="2.6 1.5"/>
<rect x="180.2" y="177.3" width="3.6" height="72.3" rx="1.2" fill="none" stroke="#f07a36" stroke-width="0.9" stroke-dasharray="2.6 1.5"/>
<text x="2.6" y="154.6" font-size="10" fill="#222" stroke="#222" stroke-width="0.15">b)</text>
<text x="73.8" y="154.8" font-size="10" fill="#222" stroke="#222" stroke-width="0.15" letter-spacing="0.4">c)</text>
<text x="134.2" y="154.9" font-size="10" fill="#222" stroke="#222" stroke-width="0.15" letter-spacing="0.3">d)</text>
<line x1="226.6" y1="16.2" x2="226.6" y2="123" stroke="#8a8a8a" stroke-width="1.5"/>
<line x1="226.1" y1="122.4" x2="355.2" y2="122.4" stroke="#8a8a8a" stroke-width="1.1"/>
<path d="M224.5 111 H226.5 M225.3 99.17 H226.5 M224.5 87.35 H226.5 M225.3 75.53 H226.5 M224.5 63.7 H226.5 M225.3 51.87 H226.5 M224.5 40.05 H226.5 M225.3 28.22 H226.5 M224.5 16.4 H226.5 M226.51 122.4 V123.6 M231.1 122.4 V123.6 M234.65 122.4 V123.6 M237.56 122.4 V123.6 M240.02 122.4 V123.6 M242.14 122.4 V123.6 M244.02 122.4 V123.6 M245.7 122.4 V124.4 M256.75 122.4 V123.6 M263.21 122.4 V123.6 M267.8 122.4 V123.6 M271.35 122.4 V123.6 M274.26 122.4 V123.6 M276.72 122.4 V123.6 M278.84 122.4 V123.6 M280.72 122.4 V123.6 M282.4 122.4 V124.4 M293.45 122.4 V123.6 M299.91 122.4 V123.6 M304.5 122.4 V123.6 M308.05 122.4 V123.6 M310.96 122.4 V123.6 M313.42 122.4 V123.6 M315.54 122.4 V123.6 M317.42 122.4 V123.6 M319.1 122.4 V124.4 M330.15 122.4 V123.6 M336.61 122.4 V123.6 M341.2 122.4 V123.6 M344.75 122.4 V123.6 M347.66 122.4 V123.6 M350.12 122.4 V123.6 M352.24 122.4 V123.6 M354.12 122.4 V123.6 M355.8 122.4 V124.4" stroke="#8a8a8a" stroke-width="0.6"/>
<text x="223.2" y="19.1" font-size="7.6" text-anchor="end" fill="#222" stroke="#222" stroke-width="0.15">40</text>
<text x="223.2" y="42.75" font-size="7.6" text-anchor="end" fill="#222" stroke="#222" stroke-width="0.15">30</text>
<text x="223.2" y="66.4" font-size="7.6" text-anchor="end" fill="#222" stroke="#222" stroke-width="0.15">20</text>
<text x="223.2" y="90.05" font-size="7.6" text-anchor="end" fill="#222" stroke="#222" stroke-width="0.15">10</text>
<text x="223.2" y="113.7" font-size="7.6" text-anchor="end" fill="#222" stroke="#222" stroke-width="0.15">0</text>
<text x="245.7" y="132.2" font-size="7.4" text-anchor="middle" fill="#222" stroke="#222" stroke-width="0.15">1</text>
<text x="282.4" y="132.2" font-size="7.4" text-anchor="middle" fill="#222" stroke="#222" stroke-width="0.15">10</text>
<text x="319.1" y="132.2" font-size="7.4" text-anchor="middle" fill="#222" stroke="#222" stroke-width="0.15">100</text>
<text x="355.2" y="132.2" font-size="7.4" text-anchor="middle" fill="#222" stroke="#222" stroke-width="0.15">1000</text>
<text x="275.5" y="141.9" font-size="8.8" fill="#222" stroke="#222" stroke-width="0.18">D<tspan font-size="5" dy="1.8">H</tspan><tspan dy="-1.8"> (nm)</tspan></text>
<text transform="translate(212.9 69.4) rotate(-90)" font-size="8.9" text-anchor="middle" fill="#222" stroke="#222" stroke-width="0.18">Percent (%)</text>
<text x="203.4" y="18.4" font-size="10" fill="#222" stroke="#222" stroke-width="0.15">e)</text>
<path d="M231.1 111 L233.44 111 L235.78 84.04 L238.12 37.68 L240.46 35.32 L242.79 69.38 L245.13 95.86 L247.47 107.22 L249.81 111 L252.15 111 L254.49 111 L256.83 111 L259.17 111 L261.51 111 L263.85 111 L266.19 111 L268.52 111 L270.86 111 L273.2 111 L275.54 111 L277.88 111 L280.22 111 L282.56 111 L284.9 111 L287.24 111 L289.57 111 L291.91 111 L294.25 111 L296.59 111 L298.93 111 L301.27 111 L303.61 111 L305.95 111 L308.29 111 L310.63 111 L312.96 111 L315.3 111 L317.64 111 L319.98 111 L322.32 111 L324.66 111 L327 111 L329.34 111 L331.68 111 L334.02 111 L336.36 111 L338.69 111 L341.03 111 L343.37 111 L345.71 111 L348.05 111 L350.39 111 L352.73 111 L355.07 111" fill="none" stroke="#b4c0c0" stroke-width="0.8"/>
<g><rect x="230.2" y="110.1" width="1.8" height="1.8" fill="#2a3a48"/><rect x="232.54" y="110.1" width="1.8" height="1.8" fill="#2a3a48"/><rect x="234.38" y="82.64" width="2.8" height="2.8" fill="#2a3a48"/><rect x="236.72" y="36.28" width="2.8" height="2.8" fill="#2a3a48"/><rect x="239.06" y="33.92" width="2.8" height="2.8" fill="#2a3a48"/><rect x="241.39" y="67.98" width="2.8" height="2.8" fill="#2a3a48"/><rect x="243.73" y="94.46" width="2.8" height="2.8" fill="#2a3a48"/><rect x="246.07" y="105.82" width="2.8" height="2.8" fill="#2a3a48"/><rect x="248.91" y="110.1" width="1.8" height="1.8" fill="#2a3a48"/><rect x="251.25" y="110.1" width="1.8" height="1.8" fill="#2a3a48"/><rect x="253.59" y="110.1" width="1.8" height="1.8" fill="#2a3a48"/><rect x="255.93" y="110.1" width="1.8" height="1.8" fill="#2a3a48"/><rect x="258.27" y="110.1" width="1.8" height="1.8" fill="#2a3a48"/><rect x="260.61" y="110.1" width="1.8" height="1.8" fill="#2a3a48"/><rect x="262.95" y="110.1" width="1.8" height="1.8" fill="#2a3a48"/><rect x="265.29" y="110.1" width="1.8" height="1.8" fill="#2a3a48"/><rect x="267.62" y="110.1" width="1.8" height="1.8" fill="#2a3a48"/><rect x="269.96" y="110.1" width="1.8" height="1.8" fill="#2a3a48"/><rect x="272.3" y="110.1" width="1.8" height="1.8" fill="#2a3a48"/><rect x="274.64" y="110.1" width="1.8" height="1.8" fill="#2a3a48"/><rect x="276.98" y="110.1" width="1.8" height="1.8" fill="#2a3a48"/><rect x="279.32" y="110.1" width="1.8" height="1.8" fill="#2a3a48"/><rect x="281.66" y="110.1" width="1.8" height="1.8" fill="#2a3a48"/><rect x="284" y="110.1" width="1.8" height="1.8" fill="#2a3a48"/><rect x="286.34" y="110.1" width="1.8" height="1.8" fill="#2a3a48"/><rect x="288.68" y="110.1" width="1.8" height="1.8" fill="#2a3a48"/><rect x="291.01" y="110.1" width="1.8" height="1.8" fill="#2a3a48"/><rect x="293.35" y="110.1" width="1.8" height="1.8" fill="#2a3a48"/><rect x="295.69" y="110.1" width="1.8" height="1.8" fill="#2a3a48"/><rect x="298.03" y="110.1" width="1.8" height="1.8" fill="#2a3a48"/><rect x="300.37" y="110.1" width="1.8" height="1.8" fill="#2a3a48"/><rect x="302.71" y="110.1" width="1.8" height="1.8" fill="#2a3a48"/><rect x="305.05" y="110.1" width="1.8" height="1.8" fill="#2a3a48"/><rect x="307.39" y="110.1" width="1.8" height="1.8" fill="#2a3a48"/><rect x="309.73" y="110.1" width="1.8" height="1.8" fill="#2a3a48"/><rect x="312.06" y="110.1" width="1.8" height="1.8" fill="#2a3a48"/><rect x="314.4" y="110.1" width="1.8" height="1.8" fill="#2a3a48"/><rect x="316.74" y="110.1" width="1.8" height="1.8" fill="#2a3a48"/><rect x="319.08" y="110.1" width="1.8" height="1.8" fill="#2a3a48"/><rect x="321.42" y="110.1" width="1.8" height="1.8" fill="#2a3a48"/><rect x="323.76" y="110.1" width="1.8" height="1.8" fill="#2a3a48"/><rect x="326.1" y="110.1" width="1.8" height="1.8" fill="#2a3a48"/><rect x="328.44" y="110.1" width="1.8" height="1.8" fill="#2a3a48"/><rect x="330.78" y="110.1" width="1.8" height="1.8" fill="#2a3a48"/><rect x="333.12" y="110.1" width="1.8" height="1.8" fill="#2a3a48"/><rect x="335.46" y="110.1" width="1.8" height="1.8" fill="#2a3a48"/><rect x="337.79" y="110.1" width="1.8" height="1.8" fill="#2a3a48"/><rect x="340.13" y="110.1" width="1.8" height="1.8" fill="#2a3a48"/><rect x="342.47" y="110.1" width="1.8" height="1.8" fill="#2a3a48"/><rect x="344.81" y="110.1" width="1.8" height="1.8" fill="#2a3a48"/><rect x="347.15" y="110.1" width="1.8" height="1.8" fill="#2a3a48"/><rect x="349.49" y="110.1" width="1.8" height="1.8" fill="#2a3a48"/><rect x="351.83" y="110.1" width="1.8" height="1.8" fill="#2a3a48"/><rect x="354.17" y="110.1" width="1.8" height="1.8" fill="#2a3a48"/></g>
<path d="M231.1 111 L233.44 111 L235.78 111 L238.12 111 L240.46 111 L242.79 111 L245.13 111 L247.47 111 L249.81 111 L252.15 88.06 L254.49 41.47 L256.83 29.64 L259.17 63.7 L261.51 96.34 L263.85 108.16 L266.19 111 L268.52 111 L270.86 111 L273.2 111 L275.54 111 L277.88 111 L280.22 111 L282.56 111 L284.9 111 L287.24 111 L289.57 111 L291.91 111 L294.25 111 L296.59 111 L298.93 111 L301.27 111 L303.61 111 L305.95 111 L308.29 111 L310.63 111 L312.96 111 L315.3 111 L317.64 111 L319.98 111 L322.32 111 L324.66 111 L327 111 L329.34 111 L331.68 111 L334.02 111 L336.36 111 L338.69 111 L341.03 111 L343.37 111 L345.71 111 L348.05 111 L350.39 111 L352.73 111 L355.07 111" fill="none" stroke="#f49ab4" stroke-width="0.8"/>
<g><circle cx="231.1" cy="111" r="0.9" fill="#d01a50"/><circle cx="233.44" cy="111" r="0.9" fill="#d01a50"/><circle cx="235.78" cy="111" r="0.9" fill="#d01a50"/><circle cx="238.12" cy="111" r="0.9" fill="#d01a50"/><circle cx="240.46" cy="111" r="0.9" fill="#d01a50"/><circle cx="242.79" cy="111" r="0.9" fill="#d01a50"/><circle cx="245.13" cy="111" r="0.9" fill="#d01a50"/><circle cx="247.47" cy="111" r="0.9" fill="#d01a50"/><circle cx="249.81" cy="111" r="0.9" fill="#d01a50"/><circle cx="252.15" cy="88.06" r="1.4" fill="#d01a50"/><circle cx="254.49" cy="41.47" r="1.4" fill="#d01a50"/><circle cx="256.83" cy="29.64" r="1.4" fill="#d01a50"/><circle cx="259.17" cy="63.7" r="1.4" fill="#d01a50"/><circle cx="261.51" cy="96.34" r="1.4" fill="#d01a50"/><circle cx="263.85" cy="108.16" r="1.4" fill="#d01a50"/><circle cx="266.19" cy="111" r="0.9" fill="#d01a50"/><circle cx="268.52" cy="111" r="0.9" fill="#d01a50"/><circle cx="270.86" cy="111" r="0.9" fill="#d01a50"/><circle cx="273.2" cy="111" r="0.9" fill="#d01a50"/><circle cx="275.54" cy="111" r="0.9" fill="#d01a50"/><circle cx="277.88" cy="111" r="0.9" fill="#d01a50"/><circle cx="280.22" cy="111" r="0.9" fill="#d01a50"/><circle cx="282.56" cy="111" r="0.9" fill="#d01a50"/><circle cx="284.9" cy="111" r="0.9" fill="#d01a50"/><circle cx="287.24" cy="111" r="0.9" fill="#d01a50"/><circle cx="289.57" cy="111" r="0.9" fill="#d01a50"/><circle cx="291.91" cy="111" r="0.9" fill="#d01a50"/><circle cx="294.25" cy="111" r="0.9" fill="#d01a50"/><circle cx="296.59" cy="111" r="0.9" fill="#d01a50"/><circle cx="298.93" cy="111" r="0.9" fill="#d01a50"/><circle cx="301.27" cy="111" r="0.9" fill="#d01a50"/><circle cx="303.61" cy="111" r="0.9" fill="#d01a50"/><circle cx="305.95" cy="111" r="0.9" fill="#d01a50"/><circle cx="308.29" cy="111" r="0.9" fill="#d01a50"/><circle cx="310.63" cy="111" r="0.9" fill="#d01a50"/><circle cx="312.96" cy="111" r="0.9" fill="#d01a50"/><circle cx="315.3" cy="111" r="0.9" fill="#d01a50"/><circle cx="317.64" cy="111" r="0.9" fill="#d01a50"/><circle cx="319.98" cy="111" r="0.9" fill="#d01a50"/><circle cx="322.32" cy="111" r="0.9" fill="#d01a50"/><circle cx="324.66" cy="111" r="0.9" fill="#d01a50"/><circle cx="327" cy="111" r="0.9" fill="#d01a50"/><circle cx="329.34" cy="111" r="0.9" fill="#d01a50"/><circle cx="331.68" cy="111" r="0.9" fill="#d01a50"/><circle cx="334.02" cy="111" r="0.9" fill="#d01a50"/><circle cx="336.36" cy="111" r="0.9" fill="#d01a50"/><circle cx="338.69" cy="111" r="0.9" fill="#d01a50"/><circle cx="341.03" cy="111" r="0.9" fill="#d01a50"/><circle cx="343.37" cy="111" r="0.9" fill="#d01a50"/><circle cx="345.71" cy="111" r="0.9" fill="#d01a50"/><circle cx="348.05" cy="111" r="0.9" fill="#d01a50"/><circle cx="350.39" cy="111" r="0.9" fill="#d01a50"/><circle cx="352.73" cy="111" r="0.9" fill="#d01a50"/><circle cx="355.07" cy="111" r="0.9" fill="#d01a50"/></g>
<path d="M231.1 111 L233.44 111 L235.78 111 L238.12 111 L240.46 111 L242.79 111 L245.13 111 L247.47 111 L249.81 111 L252.15 96.34 L254.49 63.7 L256.83 47.14 L259.17 58.97 L261.51 79.07 L263.85 94.92 L266.19 103.2 L268.52 108.16 L270.86 111 L273.2 111 L275.54 111 L277.88 111 L280.22 111 L282.56 111 L284.9 111 L287.24 111 L289.57 111 L291.91 111 L294.25 111 L296.59 111 L298.93 111 L301.27 111 L303.61 111 L305.95 111 L308.29 111 L310.63 111 L312.96 111 L315.3 111 L317.64 111 L319.98 111 L322.32 111 L324.66 111 L327 111 L329.34 111 L331.68 111 L334.02 111 L336.36 111 L338.69 111 L341.03 111 L343.37 111 L345.71 111 L348.05 111 L350.39 111 L352.73 111 L355.07 111" fill="none" stroke="#8ea4ee" stroke-width="0.8"/>
<g><path d="M231.1 109.74L232.27 111.9L229.93 111.9Z" fill="#2c4ad4"/><path d="M233.44 109.74L234.61 111.9L232.27 111.9Z" fill="#2c4ad4"/><path d="M235.78 109.74L236.95 111.9L234.61 111.9Z" fill="#2c4ad4"/><path d="M238.12 109.74L239.29 111.9L236.95 111.9Z" fill="#2c4ad4"/><path d="M240.46 109.74L241.63 111.9L239.29 111.9Z" fill="#2c4ad4"/><path d="M242.79 109.74L243.96 111.9L241.62 111.9Z" fill="#2c4ad4"/><path d="M245.13 109.74L246.3 111.9L243.96 111.9Z" fill="#2c4ad4"/><path d="M247.47 109.74L248.64 111.9L246.3 111.9Z" fill="#2c4ad4"/><path d="M249.81 109.74L250.98 111.9L248.64 111.9Z" fill="#2c4ad4"/><path d="M252.15 94.38L253.97 97.74L250.33 97.74Z" fill="#2c4ad4"/><path d="M254.49 61.74L256.31 65.1L252.67 65.1Z" fill="#2c4ad4"/><path d="M256.83 45.18L258.65 48.54L255.01 48.54Z" fill="#2c4ad4"/><path d="M259.17 57.01L260.99 60.37L257.35 60.37Z" fill="#2c4ad4"/><path d="M261.51 77.11L263.33 80.47L259.69 80.47Z" fill="#2c4ad4"/><path d="M263.85 92.96L265.67 96.32L262.03 96.32Z" fill="#2c4ad4"/><path d="M266.19 101.24L268 104.6L264.37 104.6Z" fill="#2c4ad4"/><path d="M268.52 106.2L270.34 109.56L266.7 109.56Z" fill="#2c4ad4"/><path d="M270.86 109.74L272.03 111.9L269.69 111.9Z" fill="#2c4ad4"/><path d="M273.2 109.74L274.37 111.9L272.03 111.9Z" fill="#2c4ad4"/><path d="M275.54 109.74L276.71 111.9L274.37 111.9Z" fill="#2c4ad4"/><path d="M277.88 109.74L279.05 111.9L276.71 111.9Z" fill="#2c4ad4"/><path d="M280.22 109.74L281.39 111.9L279.05 111.9Z" fill="#2c4ad4"/><path d="M282.56 109.74L283.73 111.9L281.39 111.9Z" fill="#2c4ad4"/><path d="M284.9 109.74L286.07 111.9L283.73 111.9Z" fill="#2c4ad4"/><path d="M287.24 109.74L288.41 111.9L286.07 111.9Z" fill="#2c4ad4"/><path d="M289.57 109.74L290.75 111.9L288.4 111.9Z" fill="#2c4ad4"/><path d="M291.91 109.74L293.08 111.9L290.74 111.9Z" fill="#2c4ad4"/><path d="M294.25 109.74L295.42 111.9L293.08 111.9Z" fill="#2c4ad4"/><path d="M296.59 109.74L297.76 111.9L295.42 111.9Z" fill="#2c4ad4"/><path d="M298.93 109.74L300.1 111.9L297.76 111.9Z" fill="#2c4ad4"/><path d="M301.27 109.74L302.44 111.9L300.1 111.9Z" fill="#2c4ad4"/><path d="M303.61 109.74L304.78 111.9L302.44 111.9Z" fill="#2c4ad4"/><path d="M305.95 109.74L307.12 111.9L304.78 111.9Z" fill="#2c4ad4"/><path d="M308.29 109.74L309.46 111.9L307.12 111.9Z" fill="#2c4ad4"/><path d="M310.63 109.74L311.8 111.9L309.46 111.9Z" fill="#2c4ad4"/><path d="M312.96 109.74L314.13 111.9L311.79 111.9Z" fill="#2c4ad4"/><path d="M315.3 109.74L316.47 111.9L314.13 111.9Z" fill="#2c4ad4"/><path d="M317.64 109.74L318.81 111.9L316.47 111.9Z" fill="#2c4ad4"/><path d="M319.98 109.74L321.15 111.9L318.81 111.9Z" fill="#2c4ad4"/><path d="M322.32 109.74L323.49 111.9L321.15 111.9Z" fill="#2c4ad4"/><path d="M324.66 109.74L325.83 111.9L323.49 111.9Z" fill="#2c4ad4"/><path d="M327 109.74L328.17 111.9L325.83 111.9Z" fill="#2c4ad4"/><path d="M329.34 109.74L330.51 111.9L328.17 111.9Z" fill="#2c4ad4"/><path d="M331.68 109.74L332.85 111.9L330.51 111.9Z" fill="#2c4ad4"/><path d="M334.02 109.74L335.19 111.9L332.85 111.9Z" fill="#2c4ad4"/><path d="M336.36 109.74L337.53 111.9L335.19 111.9Z" fill="#2c4ad4"/><path d="M338.69 109.74L339.86 111.9L337.52 111.9Z" fill="#2c4ad4"/><path d="M341.03 109.74L342.2 111.9L339.86 111.9Z" fill="#2c4ad4"/><path d="M343.37 109.74L344.54 111.9L342.2 111.9Z" fill="#2c4ad4"/><path d="M345.71 109.74L346.88 111.9L344.54 111.9Z" fill="#2c4ad4"/><path d="M348.05 109.74L349.22 111.9L346.88 111.9Z" fill="#2c4ad4"/><path d="M350.39 109.74L351.56 111.9L349.22 111.9Z" fill="#2c4ad4"/><path d="M352.73 109.74L353.9 111.9L351.56 111.9Z" fill="#2c4ad4"/><path d="M355.07 109.74L356.24 111.9L353.9 111.9Z" fill="#2c4ad4"/></g>
<path d="M231.1 111 L233.44 111 L235.78 111 L238.12 111 L240.46 111 L242.79 111 L245.13 111 L247.47 111 L249.81 111 L252.15 111 L254.49 95.39 L256.83 60.39 L259.17 42.41 L261.51 57.31 L263.85 81.44 L266.19 97.99 L268.52 105.56 L270.86 111 L273.2 111 L275.54 111 L277.88 111 L280.22 111 L282.56 111 L284.9 111 L287.24 111 L289.57 111 L291.91 111 L294.25 111 L296.59 111 L298.93 111 L301.27 111 L303.61 111 L305.95 111 L308.29 111 L310.63 111 L312.96 111 L315.3 111 L317.64 111 L319.98 111 L322.32 111 L324.66 111 L327 111 L329.34 111 L331.68 111 L334.02 111 L336.36 111 L338.69 111 L341.03 111 L343.37 111 L345.71 111 L348.05 111 L350.39 111 L352.73 111 L355.07 111" fill="none" stroke="#8cf4a0" stroke-width="0.8"/>
<g><path d="M231.1 112.26L232.27 110.1L229.93 110.1Z" fill="#2ae050"/><path d="M233.44 112.26L234.61 110.1L232.27 110.1Z" fill="#2ae050"/><path d="M235.78 112.26L236.95 110.1L234.61 110.1Z" fill="#2ae050"/><path d="M238.12 112.26L239.29 110.1L236.95 110.1Z" fill="#2ae050"/><path d="M240.46 112.26L241.63 110.1L239.29 110.1Z" fill="#2ae050"/><path d="M242.79 112.26L243.96 110.1L241.62 110.1Z" fill="#2ae050"/><path d="M245.13 112.26L246.3 110.1L243.96 110.1Z" fill="#2ae050"/><path d="M247.47 112.26L248.64 110.1L246.3 110.1Z" fill="#2ae050"/><path d="M249.81 112.26L250.98 110.1L248.64 110.1Z" fill="#2ae050"/><path d="M252.15 112.26L253.32 110.1L250.98 110.1Z" fill="#2ae050"/><path d="M254.49 97.35L256.31 93.99L252.67 93.99Z" fill="#2ae050"/><path d="M256.83 62.35L258.65 58.99L255.01 58.99Z" fill="#2ae050"/><path d="M259.17 44.37L260.99 41.01L257.35 41.01Z" fill="#2ae050"/><path d="M261.51 59.27L263.33 55.91L259.69 55.91Z" fill="#2ae050"/><path d="M263.85 83.4L265.67 80.04L262.03 80.04Z" fill="#2ae050"/><path d="M266.19 99.95L268 96.59L264.37 96.59Z" fill="#2ae050"/><path d="M268.52 107.52L270.34 104.16L266.7 104.16Z" fill="#2ae050"/><path d="M270.86 112.26L272.03 110.1L269.69 110.1Z" fill="#2ae050"/><path d="M273.2 112.26L274.37 110.1L272.03 110.1Z" fill="#2ae050"/><path d="M275.54 112.26L276.71 110.1L274.37 110.1Z" fill="#2ae050"/><path d="M277.88 112.26L279.05 110.1L276.71 110.1Z" fill="#2ae050"/><path d="M280.22 112.26L281.39 110.1L279.05 110.1Z" fill="#2ae050"/><path d="M282.56 112.26L283.73 110.1L281.39 110.1Z" fill="#2ae050"/><path d="M284.9 112.26L286.07 110.1L283.73 110.1Z" fill="#2ae050"/><path d="M287.24 112.26L288.41 110.1L286.07 110.1Z" fill="#2ae050"/><path d="M289.57 112.26L290.75 110.1L288.4 110.1Z" fill="#2ae050"/><path d="M291.91 112.26L293.08 110.1L290.74 110.1Z" fill="#2ae050"/><path d="M294.25 112.26L295.42 110.1L293.08 110.1Z" fill="#2ae050"/><path d="M296.59 112.26L297.76 110.1L295.42 110.1Z" fill="#2ae050"/><path d="M298.93 112.26L300.1 110.1L297.76 110.1Z" fill="#2ae050"/><path d="M301.27 112.26L302.44 110.1L300.1 110.1Z" fill="#2ae050"/><path d="M303.61 112.26L304.78 110.1L302.44 110.1Z" fill="#2ae050"/><path d="M305.95 112.26L307.12 110.1L304.78 110.1Z" fill="#2ae050"/><path d="M308.29 112.26L309.46 110.1L307.12 110.1Z" fill="#2ae050"/><path d="M310.63 112.26L311.8 110.1L309.46 110.1Z" fill="#2ae050"/><path d="M312.96 112.26L314.13 110.1L311.79 110.1Z" fill="#2ae050"/><path d="M315.3 112.26L316.47 110.1L314.13 110.1Z" fill="#2ae050"/><path d="M317.64 112.26L318.81 110.1L316.47 110.1Z" fill="#2ae050"/><path d="M319.98 112.26L321.15 110.1L318.81 110.1Z" fill="#2ae050"/><path d="M322.32 112.26L323.49 110.1L321.15 110.1Z" fill="#2ae050"/><path d="M324.66 112.26L325.83 110.1L323.49 110.1Z" fill="#2ae050"/><path d="M327 112.26L328.17 110.1L325.83 110.1Z" fill="#2ae050"/><path d="M329.34 112.26L330.51 110.1L328.17 110.1Z" fill="#2ae050"/><path d="M331.68 112.26L332.85 110.1L330.51 110.1Z" fill="#2ae050"/><path d="M334.02 112.26L335.19 110.1L332.85 110.1Z" fill="#2ae050"/><path d="M336.36 112.26L337.53 110.1L335.19 110.1Z" fill="#2ae050"/><path d="M338.69 112.26L339.86 110.1L337.52 110.1Z" fill="#2ae050"/><path d="M341.03 112.26L342.2 110.1L339.86 110.1Z" fill="#2ae050"/><path d="M343.37 112.26L344.54 110.1L342.2 110.1Z" fill="#2ae050"/><path d="M345.71 112.26L346.88 110.1L344.54 110.1Z" fill="#2ae050"/><path d="M348.05 112.26L349.22 110.1L346.88 110.1Z" fill="#2ae050"/><path d="M350.39 112.26L351.56 110.1L349.22 110.1Z" fill="#2ae050"/><path d="M352.73 112.26L353.9 110.1L351.56 110.1Z" fill="#2ae050"/><path d="M355.07 112.26L356.24 110.1L353.9 110.1Z" fill="#2ae050"/></g>
<path d="M231.1 111 L233.44 111 L235.78 111 L238.12 111 L240.46 111 L242.79 111 L245.13 111 L247.47 111 L249.81 111 L252.15 111 L254.49 111 L256.83 111 L259.17 111 L261.51 111 L263.85 111 L266.19 111 L268.52 111 L270.86 111 L273.2 111 L275.54 111 L277.88 111 L280.22 111 L282.56 111 L284.9 111 L287.24 111 L289.57 111 L291.91 111 L294.25 111 L296.59 111 L298.93 111 L301.27 111 L303.61 111 L305.95 111 L308.29 103.91 L310.63 71.03 L312.96 42.41 L315.3 48.56 L317.64 83.8 L319.98 94.44 L322.32 101.54 L324.66 106.27 L327 109.82 L329.34 111 L331.68 111 L334.02 111 L336.36 111 L338.69 111 L341.03 111 L343.37 111 L345.71 111 L348.05 111 L350.39 111 L352.73 111 L355.07 111" fill="none" stroke="#c8a8ee" stroke-width="0.8"/>
<g><path d="M231.1 109.74L232.36 111L231.1 112.26L229.84 111Z" fill="#6a3cd0"/><path d="M233.44 109.74L234.7 111L233.44 112.26L232.18 111Z" fill="#6a3cd0"/><path d="M235.78 109.74L237.04 111L235.78 112.26L234.52 111Z" fill="#6a3cd0"/><path d="M238.12 109.74L239.38 111L238.12 112.26L236.86 111Z" fill="#6a3cd0"/><path d="M240.46 109.74L241.72 111L240.46 112.26L239.2 111Z" fill="#6a3cd0"/><path d="M242.79 109.74L244.05 111L242.79 112.26L241.53 111Z" fill="#6a3cd0"/><path d="M245.13 109.74L246.39 111L245.13 112.26L243.87 111Z" fill="#6a3cd0"/><path d="M247.47 109.74L248.73 111L247.47 112.26L246.21 111Z" fill="#6a3cd0"/><path d="M249.81 109.74L251.07 111L249.81 112.26L248.55 111Z" fill="#6a3cd0"/><path d="M252.15 109.74L253.41 111L252.15 112.26L250.89 111Z" fill="#6a3cd0"/><path d="M254.49 109.74L255.75 111L254.49 112.26L253.23 111Z" fill="#6a3cd0"/><path d="M256.83 109.74L258.09 111L256.83 112.26L255.57 111Z" fill="#6a3cd0"/><path d="M259.17 109.74L260.43 111L259.17 112.26L257.91 111Z" fill="#6a3cd0"/><path d="M261.51 109.74L262.77 111L261.51 112.26L260.25 111Z" fill="#6a3cd0"/><path d="M263.85 109.74L265.11 111L263.85 112.26L262.59 111Z" fill="#6a3cd0"/><path d="M266.19 109.74L267.44 111L266.19 112.26L264.93 111Z" fill="#6a3cd0"/><path d="M268.52 109.74L269.78 111L268.52 112.26L267.26 111Z" fill="#6a3cd0"/><path d="M270.86 109.74L272.12 111L270.86 112.26L269.6 111Z" fill="#6a3cd0"/><path d="M273.2 109.74L274.46 111L273.2 112.26L271.94 111Z" fill="#6a3cd0"/><path d="M275.54 109.74L276.8 111L275.54 112.26L274.28 111Z" fill="#6a3cd0"/><path d="M277.88 109.74L279.14 111L277.88 112.26L276.62 111Z" fill="#6a3cd0"/><path d="M280.22 109.74L281.48 111L280.22 112.26L278.96 111Z" fill="#6a3cd0"/><path d="M282.56 109.74L283.82 111L282.56 112.26L281.3 111Z" fill="#6a3cd0"/><path d="M284.9 109.74L286.16 111L284.9 112.26L283.64 111Z" fill="#6a3cd0"/><path d="M287.24 109.74L288.5 111L287.24 112.26L285.98 111Z" fill="#6a3cd0"/><path d="M289.57 109.74L290.83 111L289.57 112.26L288.31 111Z" fill="#6a3cd0"/><path d="M291.91 109.74L293.17 111L291.91 112.26L290.65 111Z" fill="#6a3cd0"/><path d="M294.25 109.74L295.51 111L294.25 112.26L292.99 111Z" fill="#6a3cd0"/><path d="M296.59 109.74L297.85 111L296.59 112.26L295.33 111Z" fill="#6a3cd0"/><path d="M298.93 109.74L300.19 111L298.93 112.26L297.67 111Z" fill="#6a3cd0"/><path d="M301.27 109.74L302.53 111L301.27 112.26L300.01 111Z" fill="#6a3cd0"/><path d="M303.61 109.74L304.87 111L303.61 112.26L302.35 111Z" fill="#6a3cd0"/><path d="M305.95 109.74L307.21 111L305.95 112.26L304.69 111Z" fill="#6a3cd0"/><path d="M308.29 101.95L310.25 103.91L308.29 105.86L306.33 103.91Z" fill="#6a3cd0"/><path d="M310.63 69.07L312.59 71.03L310.63 72.99L308.67 71.03Z" fill="#6a3cd0"/><path d="M312.96 40.45L314.92 42.41L312.96 44.37L311 42.41Z" fill="#6a3cd0"/><path d="M315.3 46.6L317.26 48.56L315.3 50.52L313.34 48.56Z" fill="#6a3cd0"/><path d="M317.64 81.84L319.6 83.8L317.64 85.76L315.68 83.8Z" fill="#6a3cd0"/><path d="M319.98 92.48L321.94 94.44L319.98 96.4L318.02 94.44Z" fill="#6a3cd0"/><path d="M322.32 99.58L324.28 101.54L322.32 103.5L320.36 101.54Z" fill="#6a3cd0"/><path d="M324.66 104.31L326.62 106.27L324.66 108.23L322.7 106.27Z" fill="#6a3cd0"/><path d="M327 107.86L328.96 109.82L327 111.78L325.04 109.82Z" fill="#6a3cd0"/><path d="M329.34 109.74L330.6 111L329.34 112.26L328.08 111Z" fill="#6a3cd0"/><path d="M331.68 109.74L332.94 111L331.68 112.26L330.42 111Z" fill="#6a3cd0"/><path d="M334.02 109.74L335.28 111L334.02 112.26L332.76 111Z" fill="#6a3cd0"/><path d="M336.36 109.74L337.62 111L336.36 112.26L335.1 111Z" fill="#6a3cd0"/><path d="M338.69 109.74L339.95 111L338.69 112.26L337.43 111Z" fill="#6a3cd0"/><path d="M341.03 109.74L342.29 111L341.03 112.26L339.77 111Z" fill="#6a3cd0"/><path d="M343.37 109.74L344.63 111L343.37 112.26L342.11 111Z" fill="#6a3cd0"/><path d="M345.71 109.74L346.97 111L345.71 112.26L344.45 111Z" fill="#6a3cd0"/><path d="M348.05 109.74L349.31 111L348.05 112.26L346.79 111Z" fill="#6a3cd0"/><path d="M350.39 109.74L351.65 111L350.39 112.26L349.13 111Z" fill="#6a3cd0"/><path d="M352.73 109.74L353.99 111L352.73 112.26L351.47 111Z" fill="#6a3cd0"/><path d="M355.07 109.74L356.33 111L355.07 112.26L353.81 111Z" fill="#6a3cd0"/></g>
<path d="M231.1 111 L233.44 111 L235.78 111 L238.12 111 L240.46 111 L242.79 111 L245.13 111 L247.47 111 L249.81 111 L252.15 111 L254.49 111 L256.83 111 L259.17 111 L261.51 111 L263.85 111 L266.19 111 L268.52 111 L270.86 111 L273.2 111 L275.54 111 L277.88 111 L280.22 111 L282.56 111 L284.9 111 L287.24 111 L289.57 111 L291.91 111 L294.25 111 L296.59 111 L298.93 107.45 L301.27 85.93 L303.61 35.32 L305.95 28.22 L308.29 71.03 L310.63 101.07 L312.96 109.82 L315.3 111 L317.64 111 L319.98 111 L322.32 111 L324.66 111 L327 111 L329.34 111 L331.68 111 L334.02 111 L336.36 111 L338.69 111 L341.03 111 L343.37 111 L345.71 111 L348.05 111 L350.39 111 L352.73 111 L355.07 111" fill="none" stroke="#e4c89a" stroke-width="0.8"/>
<g><circle cx="231.1" cy="111" r="0.9" fill="#c08a48"/><circle cx="233.44" cy="111" r="0.9" fill="#c08a48"/><circle cx="235.78" cy="111" r="0.9" fill="#c08a48"/><circle cx="238.12" cy="111" r="0.9" fill="#c08a48"/><circle cx="240.46" cy="111" r="0.9" fill="#c08a48"/><circle cx="242.79" cy="111" r="0.9" fill="#c08a48"/><circle cx="245.13" cy="111" r="0.9" fill="#c08a48"/><circle cx="247.47" cy="111" r="0.9" fill="#c08a48"/><circle cx="249.81" cy="111" r="0.9" fill="#c08a48"/><circle cx="252.15" cy="111" r="0.9" fill="#c08a48"/><circle cx="254.49" cy="111" r="0.9" fill="#c08a48"/><circle cx="256.83" cy="111" r="0.9" fill="#c08a48"/><circle cx="259.17" cy="111" r="0.9" fill="#c08a48"/><circle cx="261.51" cy="111" r="0.9" fill="#c08a48"/><circle cx="263.85" cy="111" r="0.9" fill="#c08a48"/><circle cx="266.19" cy="111" r="0.9" fill="#c08a48"/><circle cx="268.52" cy="111" r="0.9" fill="#c08a48"/><circle cx="270.86" cy="111" r="0.9" fill="#c08a48"/><circle cx="273.2" cy="111" r="0.9" fill="#c08a48"/><circle cx="275.54" cy="111" r="0.9" fill="#c08a48"/><circle cx="277.88" cy="111" r="0.9" fill="#c08a48"/><circle cx="280.22" cy="111" r="0.9" fill="#c08a48"/><circle cx="282.56" cy="111" r="0.9" fill="#c08a48"/><circle cx="284.9" cy="111" r="0.9" fill="#c08a48"/><circle cx="287.24" cy="111" r="0.9" fill="#c08a48"/><circle cx="289.57" cy="111" r="0.9" fill="#c08a48"/><circle cx="291.91" cy="111" r="0.9" fill="#c08a48"/><circle cx="294.25" cy="111" r="0.9" fill="#c08a48"/><circle cx="296.59" cy="111" r="0.9" fill="#c08a48"/><circle cx="298.93" cy="107.45" r="1.4" fill="#c08a48"/><circle cx="301.27" cy="85.93" r="1.4" fill="#c08a48"/><circle cx="303.61" cy="35.32" r="1.4" fill="#c08a48"/><circle cx="305.95" cy="28.22" r="1.4" fill="#c08a48"/><circle cx="308.29" cy="71.03" r="1.4" fill="#c08a48"/><circle cx="310.63" cy="101.07" r="1.4" fill="#c08a48"/><circle cx="312.96" cy="109.82" r="1.4" fill="#c08a48"/><circle cx="315.3" cy="111" r="0.9" fill="#c08a48"/><circle cx="317.64" cy="111" r="0.9" fill="#c08a48"/><circle cx="319.98" cy="111" r="0.9" fill="#c08a48"/><circle cx="322.32" cy="111" r="0.9" fill="#c08a48"/><circle cx="324.66" cy="111" r="0.9" fill="#c08a48"/><circle cx="327" cy="111" r="0.9" fill="#c08a48"/><circle cx="329.34" cy="111" r="0.9" fill="#c08a48"/><circle cx="331.68" cy="111" r="0.9" fill="#c08a48"/><circle cx="334.02" cy="111" r="0.9" fill="#c08a48"/><circle cx="336.36" cy="111" r="0.9" fill="#c08a48"/><circle cx="338.69" cy="111" r="0.9" fill="#c08a48"/><circle cx="341.03" cy="111" r="0.9" fill="#c08a48"/><circle cx="343.37" cy="111" r="0.9" fill="#c08a48"/><circle cx="345.71" cy="111" r="0.9" fill="#c08a48"/><circle cx="348.05" cy="111" r="0.9" fill="#c08a48"/><circle cx="350.39" cy="111" r="0.9" fill="#c08a48"/><circle cx="352.73" cy="111" r="0.9" fill="#c08a48"/><circle cx="355.07" cy="111" r="0.9" fill="#c08a48"/></g>
<path d="M231.1 111 L233.44 111 L235.78 111 L238.12 111 L240.46 111 L242.79 111 L245.13 111 L247.47 111 L249.81 111 L252.15 111 L254.49 111 L256.83 111 L259.17 111 L261.51 111 L263.85 111 L266.19 111 L268.52 111 L270.86 111 L273.2 111 L275.54 111 L277.88 111 L280.22 111 L282.56 111 L284.9 111 L287.24 111 L289.57 111 L291.91 111 L294.25 111 L296.59 111 L298.93 111 L301.27 111 L303.61 111 L305.95 111 L308.29 111 L310.63 111 L312.96 106.27 L315.3 77.89 L317.64 35.08 L319.98 32.48 L322.32 82.62 L324.66 99.17 L327 107.45 L329.34 111 L331.68 111 L334.02 111 L336.36 111 L338.69 111 L341.03 111 L343.37 111 L345.71 111 L348.05 111 L350.39 111 L352.73 111 L355.07 111" fill="none" stroke="#70f0b0" stroke-width="0.8"/>
<g><path d="M232.36 111L230.2 109.83L230.2 112.17Z" fill="#30e08a"/><path d="M234.7 111L232.54 109.83L232.54 112.17Z" fill="#30e08a"/><path d="M237.04 111L234.88 109.83L234.88 112.17Z" fill="#30e08a"/><path d="M239.38 111L237.22 109.83L237.22 112.17Z" fill="#30e08a"/><path d="M241.72 111L239.56 109.83L239.56 112.17Z" fill="#30e08a"/><path d="M244.05 111L241.89 109.83L241.89 112.17Z" fill="#30e08a"/><path d="M246.39 111L244.23 109.83L244.23 112.17Z" fill="#30e08a"/><path d="M248.73 111L246.57 109.83L246.57 112.17Z" fill="#30e08a"/><path d="M251.07 111L248.91 109.83L248.91 112.17Z" fill="#30e08a"/><path d="M253.41 111L251.25 109.83L251.25 112.17Z" fill="#30e08a"/><path d="M255.75 111L253.59 109.83L253.59 112.17Z" fill="#30e08a"/><path d="M258.09 111L255.93 109.83L255.93 112.17Z" fill="#30e08a"/><path d="M260.43 111L258.27 109.83L258.27 112.17Z" fill="#30e08a"/><path d="M262.77 111L260.61 109.83L260.61 112.17Z" fill="#30e08a"/><path d="M265.11 111L262.95 109.83L262.95 112.17Z" fill="#30e08a"/><path d="M267.44 111L265.29 109.83L265.29 112.17Z" fill="#30e08a"/><path d="M269.78 111L267.62 109.83L267.62 112.17Z" fill="#30e08a"/><path d="M272.12 111L269.96 109.83L269.96 112.17Z" fill="#30e08a"/><path d="M274.46 111L272.3 109.83L272.3 112.17Z" fill="#30e08a"/><path d="M276.8 111L274.64 109.83L274.64 112.17Z" fill="#30e08a"/><path d="M279.14 111L276.98 109.83L276.98 112.17Z" fill="#30e08a"/><path d="M281.48 111L279.32 109.83L279.32 112.17Z" fill="#30e08a"/><path d="M283.82 111L281.66 109.83L281.66 112.17Z" fill="#30e08a"/><path d="M286.16 111L284 109.83L284 112.17Z" fill="#30e08a"/><path d="M288.5 111L286.34 109.83L286.34 112.17Z" fill="#30e08a"/><path d="M290.83 111L288.68 109.83L288.68 112.17Z" fill="#30e08a"/><path d="M293.17 111L291.01 109.83L291.01 112.17Z" fill="#30e08a"/><path d="M295.51 111L293.35 109.83L293.35 112.17Z" fill="#30e08a"/><path d="M297.85 111L295.69 109.83L295.69 112.17Z" fill="#30e08a"/><path d="M300.19 111L298.03 109.83L298.03 112.17Z" fill="#30e08a"/><path d="M302.53 111L300.37 109.83L300.37 112.17Z" fill="#30e08a"/><path d="M304.87 111L302.71 109.83L302.71 112.17Z" fill="#30e08a"/><path d="M307.21 111L305.05 109.83L305.05 112.17Z" fill="#30e08a"/><path d="M309.55 111L307.39 109.83L307.39 112.17Z" fill="#30e08a"/><path d="M311.89 111L309.73 109.83L309.73 112.17Z" fill="#30e08a"/><path d="M314.92 106.27L311.56 104.45L311.56 108.09Z" fill="#30e08a"/><path d="M317.26 77.89L313.9 76.07L313.9 79.71Z" fill="#30e08a"/><path d="M319.6 35.08L316.24 33.26L316.24 36.9Z" fill="#30e08a"/><path d="M321.94 32.48L318.58 30.66L318.58 34.3Z" fill="#30e08a"/><path d="M324.28 82.62L320.92 80.8L320.92 84.44Z" fill="#30e08a"/><path d="M326.62 99.17L323.26 97.36L323.26 100.99Z" fill="#30e08a"/><path d="M328.96 107.45L325.6 105.63L325.6 109.27Z" fill="#30e08a"/><path d="M330.6 111L328.44 109.83L328.44 112.17Z" fill="#30e08a"/><path d="M332.94 111L330.78 109.83L330.78 112.17Z" fill="#30e08a"/><path d="M335.28 111L333.12 109.83L333.12 112.17Z" fill="#30e08a"/><path d="M337.62 111L335.46 109.83L335.46 112.17Z" fill="#30e08a"/><path d="M339.95 111L337.79 109.83L337.79 112.17Z" fill="#30e08a"/><path d="M342.29 111L340.13 109.83L340.13 112.17Z" fill="#30e08a"/><path d="M344.63 111L342.47 109.83L342.47 112.17Z" fill="#30e08a"/><path d="M346.97 111L344.81 109.83L344.81 112.17Z" fill="#30e08a"/><path d="M349.31 111L347.15 109.83L347.15 112.17Z" fill="#30e08a"/><path d="M351.65 111L349.49 109.83L349.49 112.17Z" fill="#30e08a"/><path d="M353.99 111L351.83 109.83L351.83 112.17Z" fill="#30e08a"/><path d="M356.33 111L354.17 109.83L354.17 112.17Z" fill="#30e08a"/></g>
<path d="M231.1 111 L233.44 111 L235.78 111 L238.12 111 L240.46 111 L242.79 111 L245.13 111 L247.47 111 L249.81 111 L252.15 111 L254.49 111 L256.83 111 L259.17 111 L261.51 111 L263.85 111 L266.19 111 L268.52 111 L270.86 111 L273.2 111 L275.54 111 L277.88 111 L280.22 111 L282.56 111 L284.9 111 L287.24 111 L289.57 111 L291.91 111 L294.25 111 L296.59 111 L298.93 111 L301.27 111 L303.61 111 L305.95 102.72 L308.29 82.62 L310.63 62.52 L312.96 62.04 L315.3 71.98 L317.64 84.98 L319.98 94.44 L322.32 100.36 L324.66 105.32 L327 108.64 L329.34 110.05 L331.68 111 L334.02 111 L336.36 111 L338.69 111 L341.03 111 L343.37 111 L345.71 111 L348.05 111 L350.39 111 L352.73 111 L355.07 111" fill="none" stroke="#c8a8c8" stroke-width="0.8"/>
<g><circle cx="231.1" cy="111" r="0.9" fill="#28102a"/><circle cx="233.44" cy="111" r="0.9" fill="#28102a"/><circle cx="235.78" cy="111" r="0.9" fill="#28102a"/><circle cx="238.12" cy="111" r="0.9" fill="#28102a"/><circle cx="240.46" cy="111" r="0.9" fill="#28102a"/><circle cx="242.79" cy="111" r="0.9" fill="#28102a"/><circle cx="245.13" cy="111" r="0.9" fill="#28102a"/><circle cx="247.47" cy="111" r="0.9" fill="#28102a"/><circle cx="249.81" cy="111" r="0.9" fill="#28102a"/><circle cx="252.15" cy="111" r="0.9" fill="#28102a"/><circle cx="254.49" cy="111" r="0.9" fill="#28102a"/><circle cx="256.83" cy="111" r="0.9" fill="#28102a"/><circle cx="259.17" cy="111" r="0.9" fill="#28102a"/><circle cx="261.51" cy="111" r="0.9" fill="#28102a"/><circle cx="263.85" cy="111" r="0.9" fill="#28102a"/><circle cx="266.19" cy="111" r="0.9" fill="#28102a"/><circle cx="268.52" cy="111" r="0.9" fill="#28102a"/><circle cx="270.86" cy="111" r="0.9" fill="#28102a"/><circle cx="273.2" cy="111" r="0.9" fill="#28102a"/><circle cx="275.54" cy="111" r="0.9" fill="#28102a"/><circle cx="277.88" cy="111" r="0.9" fill="#28102a"/><circle cx="280.22" cy="111" r="0.9" fill="#28102a"/><circle cx="282.56" cy="111" r="0.9" fill="#28102a"/><circle cx="284.9" cy="111" r="0.9" fill="#28102a"/><circle cx="287.24" cy="111" r="0.9" fill="#28102a"/><circle cx="289.57" cy="111" r="0.9" fill="#28102a"/><circle cx="291.91" cy="111" r="0.9" fill="#28102a"/><circle cx="294.25" cy="111" r="0.9" fill="#28102a"/><circle cx="296.59" cy="111" r="0.9" fill="#28102a"/><circle cx="298.93" cy="111" r="0.9" fill="#28102a"/><circle cx="301.27" cy="111" r="0.9" fill="#28102a"/><circle cx="303.61" cy="111" r="0.9" fill="#28102a"/><circle cx="305.95" cy="102.72" r="1.4" fill="#28102a"/><circle cx="308.29" cy="82.62" r="1.4" fill="#28102a"/><circle cx="310.63" cy="62.52" r="1.4" fill="#28102a"/><circle cx="312.96" cy="62.04" r="1.4" fill="#28102a"/><circle cx="315.3" cy="71.98" r="1.4" fill="#28102a"/><circle cx="317.64" cy="84.98" r="1.4" fill="#28102a"/><circle cx="319.98" cy="94.44" r="1.4" fill="#28102a"/><circle cx="322.32" cy="100.36" r="1.4" fill="#28102a"/><circle cx="324.66" cy="105.32" r="1.4" fill="#28102a"/><circle cx="327" cy="108.64" r="1.4" fill="#28102a"/><circle cx="329.34" cy="110.05" r="1.4" fill="#28102a"/><circle cx="331.68" cy="111" r="0.9" fill="#28102a"/><circle cx="334.02" cy="111" r="0.9" fill="#28102a"/><circle cx="336.36" cy="111" r="0.9" fill="#28102a"/><circle cx="338.69" cy="111" r="0.9" fill="#28102a"/><circle cx="341.03" cy="111" r="0.9" fill="#28102a"/><circle cx="343.37" cy="111" r="0.9" fill="#28102a"/><circle cx="345.71" cy="111" r="0.9" fill="#28102a"/><circle cx="348.05" cy="111" r="0.9" fill="#28102a"/><circle cx="350.39" cy="111" r="0.9" fill="#28102a"/><circle cx="352.73" cy="111" r="0.9" fill="#28102a"/><circle cx="355.07" cy="111" r="0.9" fill="#28102a"/></g>
<path d="M231.1 111 L233.44 111 L235.78 111 L238.12 111 L240.46 111 L242.79 111 L245.13 111 L247.47 111 L249.81 111 L252.15 111 L254.49 111 L256.83 111 L259.17 111 L261.51 111 L263.85 111 L266.19 111 L268.52 111 L270.86 111 L273.2 111 L275.54 111 L277.88 111 L280.22 111 L282.56 111 L284.9 111 L287.24 111 L289.57 111 L291.91 111 L294.25 111 L296.59 111 L298.93 109.82 L301.27 95.63 L303.61 52.58 L305.95 38.16 L308.29 54.24 L310.63 87.11 L312.96 103.91 L315.3 109.82 L317.64 111 L319.98 111 L322.32 111 L324.66 111 L327 111 L329.34 111 L331.68 111 L334.02 111 L336.36 111 L338.69 111 L341.03 111 L343.37 111 L345.71 111 L348.05 111 L350.39 111 L352.73 111 L355.07 111" fill="none" stroke="#b4c460" stroke-width="0.8"/>
<g><circle cx="231.1" cy="111" r="0.9" fill="#7a8a28"/><circle cx="233.44" cy="111" r="0.9" fill="#7a8a28"/><circle cx="235.78" cy="111" r="0.9" fill="#7a8a28"/><circle cx="238.12" cy="111" r="0.9" fill="#7a8a28"/><circle cx="240.46" cy="111" r="0.9" fill="#7a8a28"/><circle cx="242.79" cy="111" r="0.9" fill="#7a8a28"/><circle cx="245.13" cy="111" r="0.9" fill="#7a8a28"/><circle cx="247.47" cy="111" r="0.9" fill="#7a8a28"/><circle cx="249.81" cy="111" r="0.9" fill="#7a8a28"/><circle cx="252.15" cy="111" r="0.9" fill="#7a8a28"/><circle cx="254.49" cy="111" r="0.9" fill="#7a8a28"/><circle cx="256.83" cy="111" r="0.9" fill="#7a8a28"/><circle cx="259.17" cy="111" r="0.9" fill="#7a8a28"/><circle cx="261.51" cy="111" r="0.9" fill="#7a8a28"/><circle cx="263.85" cy="111" r="0.9" fill="#7a8a28"/><circle cx="266.19" cy="111" r="0.9" fill="#7a8a28"/><circle cx="268.52" cy="111" r="0.9" fill="#7a8a28"/><circle cx="270.86" cy="111" r="0.9" fill="#7a8a28"/><circle cx="273.2" cy="111" r="0.9" fill="#7a8a28"/><circle cx="275.54" cy="111" r="0.9" fill="#7a8a28"/><circle cx="277.88" cy="111" r="0.9" fill="#7a8a28"/><circle cx="280.22" cy="111" r="0.9" fill="#7a8a28"/><circle cx="282.56" cy="111" r="0.9" fill="#7a8a28"/><circle cx="284.9" cy="111" r="0.9" fill="#7a8a28"/><circle cx="287.24" cy="111" r="0.9" fill="#7a8a28"/><circle cx="289.57" cy="111" r="0.9" fill="#7a8a28"/><circle cx="291.91" cy="111" r="0.9" fill="#7a8a28"/><circle cx="294.25" cy="111" r="0.9" fill="#7a8a28"/><circle cx="296.59" cy="111" r="0.9" fill="#7a8a28"/><circle cx="298.93" cy="109.82" r="1.4" fill="#7a8a28"/><circle cx="301.27" cy="95.63" r="1.4" fill="#7a8a28"/><circle cx="303.61" cy="52.58" r="1.4" fill="#7a8a28"/><circle cx="305.95" cy="38.16" r="1.4" fill="#7a8a28"/><circle cx="308.29" cy="54.24" r="1.4" fill="#7a8a28"/><circle cx="310.63" cy="87.11" r="1.4" fill="#7a8a28"/><circle cx="312.96" cy="103.91" r="1.4" fill="#7a8a28"/><circle cx="315.3" cy="109.82" r="1.4" fill="#7a8a28"/><circle cx="317.64" cy="111" r="0.9" fill="#7a8a28"/><circle cx="319.98" cy="111" r="0.9" fill="#7a8a28"/><circle cx="322.32" cy="111" r="0.9" fill="#7a8a28"/><circle cx="324.66" cy="111" r="0.9" fill="#7a8a28"/><circle cx="327" cy="111" r="0.9" fill="#7a8a28"/><circle cx="329.34" cy="111" r="0.9" fill="#7a8a28"/><circle cx="331.68" cy="111" r="0.9" fill="#7a8a28"/><circle cx="334.02" cy="111" r="0.9" fill="#7a8a28"/><circle cx="336.36" cy="111" r="0.9" fill="#7a8a28"/><circle cx="338.69" cy="111" r="0.9" fill="#7a8a28"/><circle cx="341.03" cy="111" r="0.9" fill="#7a8a28"/><circle cx="343.37" cy="111" r="0.9" fill="#7a8a28"/><circle cx="345.71" cy="111" r="0.9" fill="#7a8a28"/><circle cx="348.05" cy="111" r="0.9" fill="#7a8a28"/><circle cx="350.39" cy="111" r="0.9" fill="#7a8a28"/><circle cx="352.73" cy="111" r="0.9" fill="#7a8a28"/><circle cx="355.07" cy="111" r="0.9" fill="#7a8a28"/></g>
<path d="M231.1 111 L233.44 111 L235.78 111 L238.12 111 L240.46 111 L242.79 111 L245.13 111 L247.47 111 L249.81 111 L252.15 111 L254.49 111 L256.83 111 L259.17 111 L261.51 111 L263.85 111 L266.19 111 L268.52 111 L270.86 111 L273.2 111 L275.54 111 L277.88 111 L280.22 111 L282.56 111 L284.9 111 L287.24 111 L289.57 111 L291.91 111 L294.25 111 L296.59 111 L298.93 111 L301.27 111 L303.61 111 L305.95 111 L308.29 111 L310.63 111 L312.96 103.91 L315.3 82.86 L317.64 42.41 L319.98 42.18 L322.32 73.16 L324.66 95.63 L327 103.91 L329.34 108.64 L331.68 111 L334.02 111 L336.36 111 L338.69 111 L341.03 111 L343.37 111 L345.71 111 L348.05 111 L350.39 111 L352.73 111 L355.07 111" fill="none" stroke="#eef070" stroke-width="0.8"/>
<g><circle cx="231.1" cy="111" r="1.25" fill="#d6f024"/><circle cx="233.44" cy="111" r="1.25" fill="#d6f024"/><circle cx="235.78" cy="111" r="1.25" fill="#d6f024"/><circle cx="238.12" cy="111" r="1.25" fill="#d6f024"/><circle cx="240.46" cy="111" r="1.25" fill="#d6f024"/><circle cx="242.79" cy="111" r="1.25" fill="#d6f024"/><circle cx="245.13" cy="111" r="1.25" fill="#d6f024"/><circle cx="247.47" cy="111" r="1.25" fill="#d6f024"/><circle cx="249.81" cy="111" r="1.25" fill="#d6f024"/><circle cx="252.15" cy="111" r="1.25" fill="#d6f024"/><circle cx="254.49" cy="111" r="1.25" fill="#d6f024"/><circle cx="256.83" cy="111" r="1.25" fill="#d6f024"/><circle cx="259.17" cy="111" r="1.25" fill="#d6f024"/><circle cx="261.51" cy="111" r="1.25" fill="#d6f024"/><circle cx="263.85" cy="111" r="1.25" fill="#d6f024"/><circle cx="266.19" cy="111" r="1.25" fill="#d6f024"/><circle cx="268.52" cy="111" r="1.25" fill="#d6f024"/><circle cx="270.86" cy="111" r="1.25" fill="#d6f024"/><circle cx="273.2" cy="111" r="1.25" fill="#d6f024"/><circle cx="275.54" cy="111" r="1.25" fill="#d6f024"/><circle cx="277.88" cy="111" r="1.25" fill="#d6f024"/><circle cx="280.22" cy="111" r="1.25" fill="#d6f024"/><circle cx="282.56" cy="111" r="1.25" fill="#d6f024"/><circle cx="284.9" cy="111" r="1.25" fill="#d6f024"/><circle cx="287.24" cy="111" r="1.25" fill="#d6f024"/><circle cx="289.57" cy="111" r="1.25" fill="#d6f024"/><circle cx="291.91" cy="111" r="1.25" fill="#d6f024"/><circle cx="294.25" cy="111" r="1.25" fill="#d6f024"/><circle cx="296.59" cy="111" r="1.25" fill="#d6f024"/><circle cx="298.93" cy="111" r="1.25" fill="#d6f024"/><circle cx="301.27" cy="111" r="1.25" fill="#d6f024"/><circle cx="303.61" cy="111" r="1.25" fill="#d6f024"/><circle cx="305.95" cy="111" r="1.25" fill="#d6f024"/><circle cx="308.29" cy="111" r="1.25" fill="#d6f024"/><circle cx="310.63" cy="111" r="1.25" fill="#d6f024"/><circle cx="312.96" cy="103.91" r="1.25" fill="#d6f024"/><circle cx="315.3" cy="82.86" r="1.25" fill="#d6f024"/><circle cx="317.64" cy="42.41" r="1.25" fill="#d6f024"/><circle cx="319.98" cy="42.18" r="1.25" fill="#d6f024"/><circle cx="322.32" cy="73.16" r="1.25" fill="#d6f024"/><circle cx="324.66" cy="95.63" r="1.25" fill="#d6f024"/><circle cx="327" cy="103.91" r="1.25" fill="#d6f024"/><circle cx="329.34" cy="108.64" r="1.25" fill="#d6f024"/><circle cx="331.68" cy="111" r="1.25" fill="#d6f024"/><circle cx="334.02" cy="111" r="1.25" fill="#d6f024"/><circle cx="336.36" cy="111" r="1.25" fill="#d6f024"/><circle cx="338.69" cy="111" r="1.25" fill="#d6f024"/><circle cx="341.03" cy="111" r="1.25" fill="#d6f024"/><circle cx="343.37" cy="111" r="1.25" fill="#d6f024"/><circle cx="345.71" cy="111" r="1.25" fill="#d6f024"/><circle cx="348.05" cy="111" r="1.25" fill="#d6f024"/><circle cx="350.39" cy="111" r="1.25" fill="#d6f024"/><circle cx="352.73" cy="111" r="1.25" fill="#d6f024"/><circle cx="355.07" cy="111" r="1.25" fill="#d6f024"/></g>
<line x1="327.8" y1="8.5" x2="342.8" y2="8.5" stroke="#b4c0c0" stroke-width="0.8"/>
<rect x="333.95" y="7.15" width="2.7" height="2.7" fill="#2a3a48"/>
<text x="348.6" y="11.1" font-size="7.5" fill="#222" stroke="#222" stroke-width="0.15">Cis</text>
<line x1="327.8" y1="17.02" x2="342.8" y2="17.02" stroke="#f49ab4" stroke-width="0.8"/>
<circle cx="335.3" cy="17.02" r="1.35" fill="#d01a50"/>
<text x="348.6" y="19.62" font-size="7.5" fill="#222" stroke="#222" stroke-width="0.15">T1</text>
<line x1="327.8" y1="25.54" x2="342.8" y2="25.54" stroke="#8ea4ee" stroke-width="0.8"/>
<path d="M335.3 23.65L337.06 26.89L333.55 26.89Z" fill="#2c4ad4"/>
<text x="348.6" y="28.14" font-size="7.5" fill="#222" stroke="#222" stroke-width="0.15">T2</text>
<line x1="327.8" y1="34.06" x2="342.8" y2="34.06" stroke="#8cf4a0" stroke-width="0.8"/>
<path d="M335.3 35.95L337.06 32.71L333.55 32.71Z" fill="#2ae050"/>
<text x="348.6" y="36.66" font-size="7.5" fill="#222" stroke="#222" stroke-width="0.15">T3</text>
<line x1="327.8" y1="42.58" x2="342.8" y2="42.58" stroke="#c8a8ee" stroke-width="0.8"/>
<path d="M335.3 40.69L337.19 42.58L335.3 44.47L333.41 42.58Z" fill="#6a3cd0"/>
<text x="348.6" y="45.18" font-size="7.5" fill="#222" stroke="#222" stroke-width="0.15">SS1</text>
<line x1="327.8" y1="51.1" x2="342.8" y2="51.1" stroke="#e4c89a" stroke-width="0.8"/>
<circle cx="335.3" cy="51.1" r="1.35" fill="#c08a48"/>
<text x="348.6" y="53.7" font-size="7.5" fill="#222" stroke="#222" stroke-width="0.15">SS2</text>
<line x1="327.8" y1="59.62" x2="342.8" y2="59.62" stroke="#70f0b0" stroke-width="0.8"/>
<path d="M337.19 59.62L333.95 57.86L333.95 61.38Z" fill="#30e08a"/>
<text x="348.6" y="62.22" font-size="7.5" fill="#222" stroke="#222" stroke-width="0.15">SS3</text>
<line x1="327.8" y1="68.14" x2="342.8" y2="68.14" stroke="#c8a8c8" stroke-width="0.8"/>
<circle cx="335.3" cy="68.14" r="1.35" fill="#28102a"/>
<text x="345.2" y="70.74" font-size="7.5" textLength="27" lengthAdjust="spacingAndGlyphs" fill="#222" stroke="#222" stroke-width="0.15">SS1+Cis</text>
<line x1="327.8" y1="76.66" x2="342.8" y2="76.66" stroke="#b4c460" stroke-width="0.8"/>
<circle cx="335.3" cy="76.66" r="1.35" fill="#7a8a28"/>
<text x="345.2" y="79.26" font-size="7.5" textLength="27" lengthAdjust="spacingAndGlyphs" fill="#222" stroke="#222" stroke-width="0.15">SS2+Cis</text>
<line x1="327.8" y1="85.18" x2="342.8" y2="85.18" stroke="#eef070" stroke-width="0.8"/>
<circle cx="335.3" cy="85.18" r="1.35" fill="#d6f024"/>
<text x="345.2" y="87.78" font-size="7.5" textLength="27" lengthAdjust="spacingAndGlyphs" fill="#222" stroke="#222" stroke-width="0.15">SS3+Cis</text>
<line x1="226.9" y1="152" x2="226.9" y2="255.6" stroke="#787e8c" stroke-width="1.0"/>
<line x1="226.5" y1="255.1" x2="357.8" y2="255.1" stroke="#707888" stroke-width="1.0"/>
<path d="M225.1 247.1 H227.1 M225.9 231.75 H227.1 M225.1 216.4 H227.1 M225.9 201.05 H227.1 M225.1 185.7 H227.1 M225.9 170.35 H227.1 M225.1 155 H227.1 M227.51 255.1 V256.3 M236 255.1 V256.3 M242.02 255.1 V256.3 M246.69 255.1 V256.3 M250.51 255.1 V256.3 M253.73 255.1 V256.3 M256.53 255.1 V256.3 M258.99 255.1 V256.3 M261.2 255.1 V257.1 M275.71 255.1 V256.3 M284.2 255.1 V256.3 M290.22 255.1 V256.3 M294.89 255.1 V256.3 M298.71 255.1 V256.3 M301.93 255.1 V256.3 M304.73 255.1 V256.3 M307.19 255.1 V256.3 M309.4 255.1 V257.1 M323.91 255.1 V256.3 M332.4 255.1 V256.3 M338.42 255.1 V256.3 M343.09 255.1 V256.3 M346.91 255.1 V256.3 M350.13 255.1 V256.3 M352.93 255.1 V256.3 M355.39 255.1 V256.3 M357.6 255.1 V257.1" stroke="#8a8a8a" stroke-width="0.6"/>
<text x="224.2" y="158" font-size="7.6" text-anchor="end" fill="#222" stroke="#222" stroke-width="0.15">30</text>
<text x="224.2" y="188.7" font-size="7.6" text-anchor="end" fill="#222" stroke="#222" stroke-width="0.15">20</text>
<text x="224.2" y="219.4" font-size="7.6" text-anchor="end" fill="#222" stroke="#222" stroke-width="0.15">10</text>
<text x="224.2" y="250.1" font-size="7.6" text-anchor="end" fill="#222" stroke="#222" stroke-width="0.15">0</text>
<text x="261.2" y="264.8" font-size="7.4" text-anchor="middle" fill="#222" stroke="#222" stroke-width="0.15">10</text>
<text x="309.4" y="264.8" font-size="7.4" text-anchor="middle" fill="#222" stroke="#222" stroke-width="0.15">100</text>
<text x="357.6" y="264.8" font-size="7.4" text-anchor="middle" fill="#222" stroke="#222" stroke-width="0.15">1000</text>
<text x="277.7" y="277.4" font-size="8.5" fill="#222" stroke="#222" stroke-width="0.15">D<tspan font-size="4.6" dy="1.8">H</tspan><tspan dy="-1.8"> (nm)</tspan></text>
<text transform="translate(213.7 203) rotate(-90)" font-size="8.6" text-anchor="middle" fill="#222" stroke="#222" stroke-width="0.18">Percent (%)</text>
<text x="203.2" y="154.3" font-size="10" fill="#222" stroke="#222" stroke-width="0.15">f)</text>
<path d="M227.59 247.1 L230.66 247.1 L233.74 247.1 L236.81 247.1 L239.88 247.1 L242.95 247.1 L246.02 247.1 L249.1 247.1 L252.17 247.1 L255.24 247.1 L258.31 247.1 L261.38 247.1 L264.46 247.1 L267.53 247.1 L270.6 247.1 L273.67 247.1 L276.74 247.1 L279.82 247.1 L282.89 247.1 L285.96 247.1 L289.03 247.1 L292.1 247.1 L295.18 247.1 L298.25 234.82 L301.32 204.12 L304.39 182.63 L307.46 187.24 L310.54 201.05 L313.61 213.64 L316.68 227.45 L319.75 234.82 L322.82 239.12 L325.9 243.42 L328.97 245.56 L332.04 247.1 L335.11 247.1 L338.18 247.1 L341.26 247.1 L344.33 247.1 L347.4 247.1 L350.47 247.1 L353.54 247.1 L356.62 247.1" fill="none" stroke="#303030" stroke-width="0.8"/>
<g><rect x="226.79" y="246.3" width="1.6" height="1.6" fill="#111111"/><rect x="229.86" y="246.3" width="1.6" height="1.6" fill="#111111"/><rect x="232.94" y="246.3" width="1.6" height="1.6" fill="#111111"/><rect x="236.01" y="246.3" width="1.6" height="1.6" fill="#111111"/><rect x="239.08" y="246.3" width="1.6" height="1.6" fill="#111111"/><rect x="242.15" y="246.3" width="1.6" height="1.6" fill="#111111"/><rect x="245.22" y="246.3" width="1.6" height="1.6" fill="#111111"/><rect x="248.3" y="246.3" width="1.6" height="1.6" fill="#111111"/><rect x="251.37" y="246.3" width="1.6" height="1.6" fill="#111111"/><rect x="254.44" y="246.3" width="1.6" height="1.6" fill="#111111"/><rect x="257.51" y="246.3" width="1.6" height="1.6" fill="#111111"/><rect x="260.58" y="246.3" width="1.6" height="1.6" fill="#111111"/><rect x="263.66" y="246.3" width="1.6" height="1.6" fill="#111111"/><rect x="266.73" y="246.3" width="1.6" height="1.6" fill="#111111"/><rect x="269.8" y="246.3" width="1.6" height="1.6" fill="#111111"/><rect x="272.87" y="246.3" width="1.6" height="1.6" fill="#111111"/><rect x="275.94" y="246.3" width="1.6" height="1.6" fill="#111111"/><rect x="279.02" y="246.3" width="1.6" height="1.6" fill="#111111"/><rect x="282.09" y="246.3" width="1.6" height="1.6" fill="#111111"/><rect x="285.16" y="246.3" width="1.6" height="1.6" fill="#111111"/><rect x="288.23" y="246.3" width="1.6" height="1.6" fill="#111111"/><rect x="291.3" y="246.3" width="1.6" height="1.6" fill="#111111"/><rect x="294.38" y="246.3" width="1.6" height="1.6" fill="#111111"/><rect x="296.95" y="233.52" width="2.6" height="2.6" fill="#111111"/><rect x="300.02" y="202.82" width="2.6" height="2.6" fill="#111111"/><rect x="303.09" y="181.33" width="2.6" height="2.6" fill="#111111"/><rect x="306.16" y="185.94" width="2.6" height="2.6" fill="#111111"/><rect x="309.24" y="199.75" width="2.6" height="2.6" fill="#111111"/><rect x="312.31" y="212.34" width="2.6" height="2.6" fill="#111111"/><rect x="315.38" y="226.15" width="2.6" height="2.6" fill="#111111"/><rect x="318.45" y="233.52" width="2.6" height="2.6" fill="#111111"/><rect x="321.52" y="237.82" width="2.6" height="2.6" fill="#111111"/><rect x="324.6" y="242.12" width="2.6" height="2.6" fill="#111111"/><rect x="327.67" y="244.26" width="2.6" height="2.6" fill="#111111"/><rect x="331.24" y="246.3" width="1.6" height="1.6" fill="#111111"/><rect x="334.31" y="246.3" width="1.6" height="1.6" fill="#111111"/><rect x="337.38" y="246.3" width="1.6" height="1.6" fill="#111111"/><rect x="340.46" y="246.3" width="1.6" height="1.6" fill="#111111"/><rect x="343.53" y="246.3" width="1.6" height="1.6" fill="#111111"/><rect x="346.6" y="246.3" width="1.6" height="1.6" fill="#111111"/><rect x="349.67" y="246.3" width="1.6" height="1.6" fill="#111111"/><rect x="352.74" y="246.3" width="1.6" height="1.6" fill="#111111"/><rect x="355.82" y="246.3" width="1.6" height="1.6" fill="#111111"/></g>
<path d="M227.59 247.1 L230.66 247.1 L233.74 247.1 L236.81 247.1 L239.88 247.1 L242.95 247.1 L246.02 247.1 L249.1 247.1 L252.17 247.1 L255.24 247.1 L258.31 247.1 L261.38 247.1 L264.46 247.1 L267.53 247.1 L270.6 247.1 L273.67 247.1 L276.74 247.1 L279.82 247.1 L282.89 247.1 L285.96 247.1 L289.03 247.1 L292.1 247.1 L295.18 247.1 L298.25 227.45 L301.32 196.44 L304.39 181.71 L307.46 187.24 L310.54 205.35 L313.61 218.55 L316.68 231.14 L319.75 237.89 L322.82 241.88 L325.9 244.03 L328.97 246.18 L332.04 247.1 L335.11 247.1 L338.18 247.1 L341.26 247.1 L344.33 247.1 L347.4 247.1 L350.47 247.1 L353.54 247.1 L356.62 247.1" fill="none" stroke="#f05050" stroke-width="0.8"/>
<g><circle cx="227.59" cy="247.1" r="0.8" fill="#e0103c"/><circle cx="230.66" cy="247.1" r="0.8" fill="#e0103c"/><circle cx="233.74" cy="247.1" r="0.8" fill="#e0103c"/><circle cx="236.81" cy="247.1" r="0.8" fill="#e0103c"/><circle cx="239.88" cy="247.1" r="0.8" fill="#e0103c"/><circle cx="242.95" cy="247.1" r="0.8" fill="#e0103c"/><circle cx="246.02" cy="247.1" r="0.8" fill="#e0103c"/><circle cx="249.1" cy="247.1" r="0.8" fill="#e0103c"/><circle cx="252.17" cy="247.1" r="0.8" fill="#e0103c"/><circle cx="255.24" cy="247.1" r="0.8" fill="#e0103c"/><circle cx="258.31" cy="247.1" r="0.8" fill="#e0103c"/><circle cx="261.38" cy="247.1" r="0.8" fill="#e0103c"/><circle cx="264.46" cy="247.1" r="0.8" fill="#e0103c"/><circle cx="267.53" cy="247.1" r="0.8" fill="#e0103c"/><circle cx="270.6" cy="247.1" r="0.8" fill="#e0103c"/><circle cx="273.67" cy="247.1" r="0.8" fill="#e0103c"/><circle cx="276.74" cy="247.1" r="0.8" fill="#e0103c"/><circle cx="279.82" cy="247.1" r="0.8" fill="#e0103c"/><circle cx="282.89" cy="247.1" r="0.8" fill="#e0103c"/><circle cx="285.96" cy="247.1" r="0.8" fill="#e0103c"/><circle cx="289.03" cy="247.1" r="0.8" fill="#e0103c"/><circle cx="292.1" cy="247.1" r="0.8" fill="#e0103c"/><circle cx="295.18" cy="247.1" r="0.8" fill="#e0103c"/><circle cx="298.25" cy="227.45" r="1.3" fill="#e0103c"/><circle cx="301.32" cy="196.44" r="1.3" fill="#e0103c"/><circle cx="304.39" cy="181.71" r="1.3" fill="#e0103c"/><circle cx="307.46" cy="187.24" r="1.3" fill="#e0103c"/><circle cx="310.54" cy="205.35" r="1.3" fill="#e0103c"/><circle cx="313.61" cy="218.55" r="1.3" fill="#e0103c"/><circle cx="316.68" cy="231.14" r="1.3" fill="#e0103c"/><circle cx="319.75" cy="237.89" r="1.3" fill="#e0103c"/><circle cx="322.82" cy="241.88" r="1.3" fill="#e0103c"/><circle cx="325.9" cy="244.03" r="1.3" fill="#e0103c"/><circle cx="328.97" cy="246.18" r="1.3" fill="#e0103c"/><circle cx="332.04" cy="247.1" r="0.8" fill="#e0103c"/><circle cx="335.11" cy="247.1" r="0.8" fill="#e0103c"/><circle cx="338.18" cy="247.1" r="0.8" fill="#e0103c"/><circle cx="341.26" cy="247.1" r="0.8" fill="#e0103c"/><circle cx="344.33" cy="247.1" r="0.8" fill="#e0103c"/><circle cx="347.4" cy="247.1" r="0.8" fill="#e0103c"/><circle cx="350.47" cy="247.1" r="0.8" fill="#e0103c"/><circle cx="353.54" cy="247.1" r="0.8" fill="#e0103c"/><circle cx="356.62" cy="247.1" r="0.8" fill="#e0103c"/></g>
<path d="M227.59 247.1 L230.66 247.1 L233.74 247.1 L236.81 247.1 L239.88 247.1 L242.95 247.1 L246.02 247.1 L249.1 247.1 L252.17 247.1 L255.24 247.1 L258.31 247.1 L261.38 247.1 L264.46 247.1 L267.53 247.1 L270.6 247.1 L273.67 247.1 L276.74 247.1 L279.82 247.1 L282.89 247.1 L285.96 247.1 L289.03 247.1 L292.1 247.1 L295.18 235.43 L298.25 213.02 L301.32 174.95 L304.39 177.72 L307.46 198.59 L310.54 219.78 L313.61 230.22 L316.68 236.97 L319.75 241.88 L322.82 244.64 L325.9 246.18 L328.97 247.1 L332.04 247.1 L335.11 247.1 L338.18 247.1 L341.26 247.1 L344.33 247.1 L347.4 247.1 L350.47 247.1 L353.54 247.1 L356.62 247.1" fill="none" stroke="#8a8cf4" stroke-width="0.8"/>
<g><path d="M227.59 245.98L228.63 247.9L226.55 247.9Z" fill="#2424e0"/><path d="M230.66 245.98L231.7 247.9L229.62 247.9Z" fill="#2424e0"/><path d="M233.74 245.98L234.78 247.9L232.7 247.9Z" fill="#2424e0"/><path d="M236.81 245.98L237.85 247.9L235.77 247.9Z" fill="#2424e0"/><path d="M239.88 245.98L240.92 247.9L238.84 247.9Z" fill="#2424e0"/><path d="M242.95 245.98L243.99 247.9L241.91 247.9Z" fill="#2424e0"/><path d="M246.02 245.98L247.06 247.9L244.98 247.9Z" fill="#2424e0"/><path d="M249.1 245.98L250.14 247.9L248.06 247.9Z" fill="#2424e0"/><path d="M252.17 245.98L253.21 247.9L251.13 247.9Z" fill="#2424e0"/><path d="M255.24 245.98L256.28 247.9L254.2 247.9Z" fill="#2424e0"/><path d="M258.31 245.98L259.35 247.9L257.27 247.9Z" fill="#2424e0"/><path d="M261.38 245.98L262.42 247.9L260.34 247.9Z" fill="#2424e0"/><path d="M264.46 245.98L265.5 247.9L263.42 247.9Z" fill="#2424e0"/><path d="M267.53 245.98L268.57 247.9L266.49 247.9Z" fill="#2424e0"/><path d="M270.6 245.98L271.64 247.9L269.56 247.9Z" fill="#2424e0"/><path d="M273.67 245.98L274.71 247.9L272.63 247.9Z" fill="#2424e0"/><path d="M276.74 245.98L277.78 247.9L275.7 247.9Z" fill="#2424e0"/><path d="M279.82 245.98L280.86 247.9L278.78 247.9Z" fill="#2424e0"/><path d="M282.89 245.98L283.93 247.9L281.85 247.9Z" fill="#2424e0"/><path d="M285.96 245.98L287 247.9L284.92 247.9Z" fill="#2424e0"/><path d="M289.03 245.98L290.07 247.9L287.99 247.9Z" fill="#2424e0"/><path d="M292.1 245.98L293.14 247.9L291.06 247.9Z" fill="#2424e0"/><path d="M295.18 233.61L296.87 236.73L293.49 236.73Z" fill="#2424e0"/><path d="M298.25 211.2L299.94 214.32L296.56 214.32Z" fill="#2424e0"/><path d="M301.32 173.13L303.01 176.25L299.63 176.25Z" fill="#2424e0"/><path d="M304.39 175.9L306.08 179.02L302.7 179.02Z" fill="#2424e0"/><path d="M307.46 196.77L309.15 199.89L305.77 199.89Z" fill="#2424e0"/><path d="M310.54 217.96L312.23 221.08L308.85 221.08Z" fill="#2424e0"/><path d="M313.61 228.4L315.3 231.52L311.92 231.52Z" fill="#2424e0"/><path d="M316.68 235.15L318.37 238.27L314.99 238.27Z" fill="#2424e0"/><path d="M319.75 240.06L321.44 243.18L318.06 243.18Z" fill="#2424e0"/><path d="M322.82 242.82L324.51 245.94L321.13 245.94Z" fill="#2424e0"/><path d="M325.9 244.36L327.59 247.48L324.21 247.48Z" fill="#2424e0"/><path d="M328.97 245.98L330.01 247.9L327.93 247.9Z" fill="#2424e0"/><path d="M332.04 245.98L333.08 247.9L331 247.9Z" fill="#2424e0"/><path d="M335.11 245.98L336.15 247.9L334.07 247.9Z" fill="#2424e0"/><path d="M338.18 245.98L339.22 247.9L337.14 247.9Z" fill="#2424e0"/><path d="M341.26 245.98L342.3 247.9L340.22 247.9Z" fill="#2424e0"/><path d="M344.33 245.98L345.37 247.9L343.29 247.9Z" fill="#2424e0"/><path d="M347.4 245.98L348.44 247.9L346.36 247.9Z" fill="#2424e0"/><path d="M350.47 245.98L351.51 247.9L349.43 247.9Z" fill="#2424e0"/><path d="M353.54 245.98L354.58 247.9L352.5 247.9Z" fill="#2424e0"/><path d="M356.62 245.98L357.66 247.9L355.58 247.9Z" fill="#2424e0"/></g>
<path d="M227.59 247.1 L230.66 247.1 L233.74 247.1 L236.81 247.1 L239.88 247.1 L242.95 247.1 L246.02 247.1 L249.1 247.1 L252.17 247.1 L255.24 247.1 L258.31 247.1 L261.38 247.1 L264.46 247.1 L267.53 247.1 L270.6 247.1 L273.67 247.1 L276.74 247.1 L279.82 247.1 L282.89 247.1 L285.96 247.1 L289.03 247.1 L292.1 247.1 L295.18 231.75 L298.25 192.76 L301.32 176.49 L304.39 185.7 L307.46 204.12 L310.54 219.47 L313.61 231.75 L316.68 237.89 L319.75 242.5 L322.82 244.64 L325.9 246.18 L328.97 247.1 L332.04 247.1 L335.11 247.1 L338.18 247.1 L341.26 247.1 L344.33 247.1 L347.4 247.1 L350.47 247.1 L353.54 247.1 L356.62 247.1" fill="none" stroke="#e070e0" stroke-width="0.8"/>
<g><path d="M227.59 248.22L228.63 246.3L226.55 246.3Z" fill="#a020a8"/><path d="M230.66 248.22L231.7 246.3L229.62 246.3Z" fill="#a020a8"/><path d="M233.74 248.22L234.78 246.3L232.7 246.3Z" fill="#a020a8"/><path d="M236.81 248.22L237.85 246.3L235.77 246.3Z" fill="#a020a8"/><path d="M239.88 248.22L240.92 246.3L238.84 246.3Z" fill="#a020a8"/><path d="M242.95 248.22L243.99 246.3L241.91 246.3Z" fill="#a020a8"/><path d="M246.02 248.22L247.06 246.3L244.98 246.3Z" fill="#a020a8"/><path d="M249.1 248.22L250.14 246.3L248.06 246.3Z" fill="#a020a8"/><path d="M252.17 248.22L253.21 246.3L251.13 246.3Z" fill="#a020a8"/><path d="M255.24 248.22L256.28 246.3L254.2 246.3Z" fill="#a020a8"/><path d="M258.31 248.22L259.35 246.3L257.27 246.3Z" fill="#a020a8"/><path d="M261.38 248.22L262.42 246.3L260.34 246.3Z" fill="#a020a8"/><path d="M264.46 248.22L265.5 246.3L263.42 246.3Z" fill="#a020a8"/><path d="M267.53 248.22L268.57 246.3L266.49 246.3Z" fill="#a020a8"/><path d="M270.6 248.22L271.64 246.3L269.56 246.3Z" fill="#a020a8"/><path d="M273.67 248.22L274.71 246.3L272.63 246.3Z" fill="#a020a8"/><path d="M276.74 248.22L277.78 246.3L275.7 246.3Z" fill="#a020a8"/><path d="M279.82 248.22L280.86 246.3L278.78 246.3Z" fill="#a020a8"/><path d="M282.89 248.22L283.93 246.3L281.85 246.3Z" fill="#a020a8"/><path d="M285.96 248.22L287 246.3L284.92 246.3Z" fill="#a020a8"/><path d="M289.03 248.22L290.07 246.3L287.99 246.3Z" fill="#a020a8"/><path d="M292.1 248.22L293.14 246.3L291.06 246.3Z" fill="#a020a8"/><path d="M295.18 233.57L296.87 230.45L293.49 230.45Z" fill="#a020a8"/><path d="M298.25 194.58L299.94 191.46L296.56 191.46Z" fill="#a020a8"/><path d="M301.32 178.31L303.01 175.19L299.63 175.19Z" fill="#a020a8"/><path d="M304.39 187.52L306.08 184.4L302.7 184.4Z" fill="#a020a8"/><path d="M307.46 205.94L309.15 202.82L305.77 202.82Z" fill="#a020a8"/><path d="M310.54 221.29L312.23 218.17L308.85 218.17Z" fill="#a020a8"/><path d="M313.61 233.57L315.3 230.45L311.92 230.45Z" fill="#a020a8"/><path d="M316.68 239.71L318.37 236.59L314.99 236.59Z" fill="#a020a8"/><path d="M319.75 244.31L321.44 241.19L318.06 241.19Z" fill="#a020a8"/><path d="M322.82 246.46L324.51 243.34L321.13 243.34Z" fill="#a020a8"/><path d="M325.9 248L327.59 244.88L324.21 244.88Z" fill="#a020a8"/><path d="M328.97 248.22L330.01 246.3L327.93 246.3Z" fill="#a020a8"/><path d="M332.04 248.22L333.08 246.3L331 246.3Z" fill="#a020a8"/><path d="M335.11 248.22L336.15 246.3L334.07 246.3Z" fill="#a020a8"/><path d="M338.18 248.22L339.22 246.3L337.14 246.3Z" fill="#a020a8"/><path d="M341.26 248.22L342.3 246.3L340.22 246.3Z" fill="#a020a8"/><path d="M344.33 248.22L345.37 246.3L343.29 246.3Z" fill="#a020a8"/><path d="M347.4 248.22L348.44 246.3L346.36 246.3Z" fill="#a020a8"/><path d="M350.47 248.22L351.51 246.3L349.43 246.3Z" fill="#a020a8"/><path d="M353.54 248.22L354.58 246.3L352.5 246.3Z" fill="#a020a8"/><path d="M356.62 248.22L357.66 246.3L355.58 246.3Z" fill="#a020a8"/></g>
<path d="M227.59 247.1 L230.66 247.1 L233.74 247.1 L236.81 247.1 L239.88 247.1 L242.95 247.1 L246.02 247.1 L249.1 247.1 L252.17 247.1 L255.24 247.1 L258.31 247.1 L261.38 247.1 L264.46 247.1 L267.53 247.1 L270.6 247.1 L273.67 247.1 L276.74 247.1 L279.82 247.1 L282.89 247.1 L285.96 247.1 L289.03 247.1 L292.1 247.1 L295.18 227.45 L298.25 202.58 L301.32 179.56 L304.39 184.16 L307.46 201.05 L310.54 224.38 L313.61 233.28 L316.68 238.5 L319.75 242.8 L322.82 245.26 L325.9 246.18 L328.97 247.1 L332.04 247.1 L335.11 247.1 L338.18 247.1 L341.26 247.1 L344.33 247.1 L347.4 247.1 L350.47 247.1 L353.54 247.1 L356.62 247.1" fill="none" stroke="#3030d0" stroke-width="0.8"/>
<g><path d="M227.59 245.63L229.06 247.1L227.59 248.57L226.12 247.1Z" fill="#1010c0"/><path d="M230.66 245.63L232.13 247.1L230.66 248.57L229.19 247.1Z" fill="#1010c0"/><path d="M233.74 245.63L235.21 247.1L233.74 248.57L232.27 247.1Z" fill="#1010c0"/><path d="M236.81 245.63L238.28 247.1L236.81 248.57L235.34 247.1Z" fill="#1010c0"/><path d="M239.88 245.63L241.35 247.1L239.88 248.57L238.41 247.1Z" fill="#1010c0"/><path d="M242.95 245.63L244.42 247.1L242.95 248.57L241.48 247.1Z" fill="#1010c0"/><path d="M246.02 245.63L247.49 247.1L246.02 248.57L244.55 247.1Z" fill="#1010c0"/><path d="M249.1 245.63L250.57 247.1L249.1 248.57L247.63 247.1Z" fill="#1010c0"/><path d="M252.17 245.63L253.64 247.1L252.17 248.57L250.7 247.1Z" fill="#1010c0"/><path d="M255.24 245.63L256.71 247.1L255.24 248.57L253.77 247.1Z" fill="#1010c0"/><path d="M258.31 245.63L259.78 247.1L258.31 248.57L256.84 247.1Z" fill="#1010c0"/><path d="M261.38 245.63L262.85 247.1L261.38 248.57L259.91 247.1Z" fill="#1010c0"/><path d="M264.46 245.63L265.93 247.1L264.46 248.57L262.99 247.1Z" fill="#1010c0"/><path d="M267.53 245.63L269 247.1L267.53 248.57L266.06 247.1Z" fill="#1010c0"/><path d="M270.6 245.63L272.07 247.1L270.6 248.57L269.13 247.1Z" fill="#1010c0"/><path d="M273.67 245.63L275.14 247.1L273.67 248.57L272.2 247.1Z" fill="#1010c0"/><path d="M276.74 245.63L278.21 247.1L276.74 248.57L275.27 247.1Z" fill="#1010c0"/><path d="M279.82 245.63L281.29 247.1L279.82 248.57L278.35 247.1Z" fill="#1010c0"/><path d="M282.89 245.63L284.36 247.1L282.89 248.57L281.42 247.1Z" fill="#1010c0"/><path d="M285.96 245.63L287.43 247.1L285.96 248.57L284.49 247.1Z" fill="#1010c0"/><path d="M289.03 245.63L290.5 247.1L289.03 248.57L287.56 247.1Z" fill="#1010c0"/><path d="M292.1 245.63L293.57 247.1L292.1 248.57L290.63 247.1Z" fill="#1010c0"/><path d="M295.18 225.63L297 227.45L295.18 229.27L293.36 227.45Z" fill="#1010c0"/><path d="M298.25 200.76L300.07 202.58L298.25 204.4L296.43 202.58Z" fill="#1010c0"/><path d="M301.32 177.74L303.14 179.56L301.32 181.38L299.5 179.56Z" fill="#1010c0"/><path d="M304.39 182.34L306.21 184.16L304.39 185.98L302.57 184.16Z" fill="#1010c0"/><path d="M307.46 199.23L309.28 201.05L307.46 202.87L305.64 201.05Z" fill="#1010c0"/><path d="M310.54 222.56L312.36 224.38L310.54 226.2L308.72 224.38Z" fill="#1010c0"/><path d="M313.61 231.47L315.43 233.28L313.61 235.1L311.79 233.28Z" fill="#1010c0"/><path d="M316.68 236.68L318.5 238.5L316.68 240.32L314.86 238.5Z" fill="#1010c0"/><path d="M319.75 240.98L321.57 242.8L319.75 244.62L317.93 242.8Z" fill="#1010c0"/><path d="M322.82 243.44L324.64 245.26L322.82 247.08L321 245.26Z" fill="#1010c0"/><path d="M325.9 244.36L327.72 246.18L325.9 248L324.08 246.18Z" fill="#1010c0"/><path d="M328.97 245.63L330.44 247.1L328.97 248.57L327.5 247.1Z" fill="#1010c0"/><path d="M332.04 245.63L333.51 247.1L332.04 248.57L330.57 247.1Z" fill="#1010c0"/><path d="M335.11 245.63L336.58 247.1L335.11 248.57L333.64 247.1Z" fill="#1010c0"/><path d="M338.18 245.63L339.65 247.1L338.18 248.57L336.71 247.1Z" fill="#1010c0"/><path d="M341.26 245.63L342.73 247.1L341.26 248.57L339.79 247.1Z" fill="#1010c0"/><path d="M344.33 245.63L345.8 247.1L344.33 248.57L342.86 247.1Z" fill="#1010c0"/><path d="M347.4 245.63L348.87 247.1L347.4 248.57L345.93 247.1Z" fill="#1010c0"/><path d="M350.47 245.63L351.94 247.1L350.47 248.57L349 247.1Z" fill="#1010c0"/><path d="M353.54 245.63L355.01 247.1L353.54 248.57L352.07 247.1Z" fill="#1010c0"/><path d="M356.62 245.63L358.09 247.1L356.62 248.57L355.15 247.1Z" fill="#1010c0"/></g>
<line x1="320.3" y1="158.9" x2="336.4" y2="158.9" stroke="#303030" stroke-width="0.8"/>
<rect x="327.8" y="157.8" width="2.2" height="2.2" fill="#111111"/>
<text x="338.3" y="161.6" font-size="7.5" fill="#222" stroke="#222" stroke-width="0.15">5 mM</text>
<line x1="320.3" y1="168.5" x2="336.4" y2="168.5" stroke="#f05050" stroke-width="0.8"/>
<circle cx="328.9" cy="168.5" r="1.1" fill="#e0103c"/>
<text x="338.3" y="171.2" font-size="7.5" fill="#222" stroke="#222" stroke-width="0.15">2.5 mM</text>
<line x1="320.3" y1="178.1" x2="336.4" y2="178.1" stroke="#8a8cf4" stroke-width="0.8"/>
<path d="M328.9 176.56L330.33 179.2L327.47 179.2Z" fill="#2424e0"/>
<text x="338.3" y="180.8" font-size="7.5" fill="#222" stroke="#222" stroke-width="0.15">1 mM</text>
<line x1="320.3" y1="187.7" x2="336.4" y2="187.7" stroke="#e070e0" stroke-width="0.8"/>
<path d="M328.9 189.24L330.33 186.6L327.47 186.6Z" fill="#a020a8"/>
<text x="338.3" y="190.4" font-size="7.5" fill="#222" stroke="#222" stroke-width="0.15">0.5 mM</text>
<line x1="320.3" y1="197.3" x2="336.4" y2="197.3" stroke="#3030d0" stroke-width="0.8"/>
<path d="M328.9 195.76L330.44 197.3L328.9 198.84L327.36 197.3Z" fill="#1010c0"/>
<text x="338.3" y="200" font-size="7.5" fill="#222" stroke="#222" stroke-width="0.15">0.1 mM</text>
</svg></body></html>
